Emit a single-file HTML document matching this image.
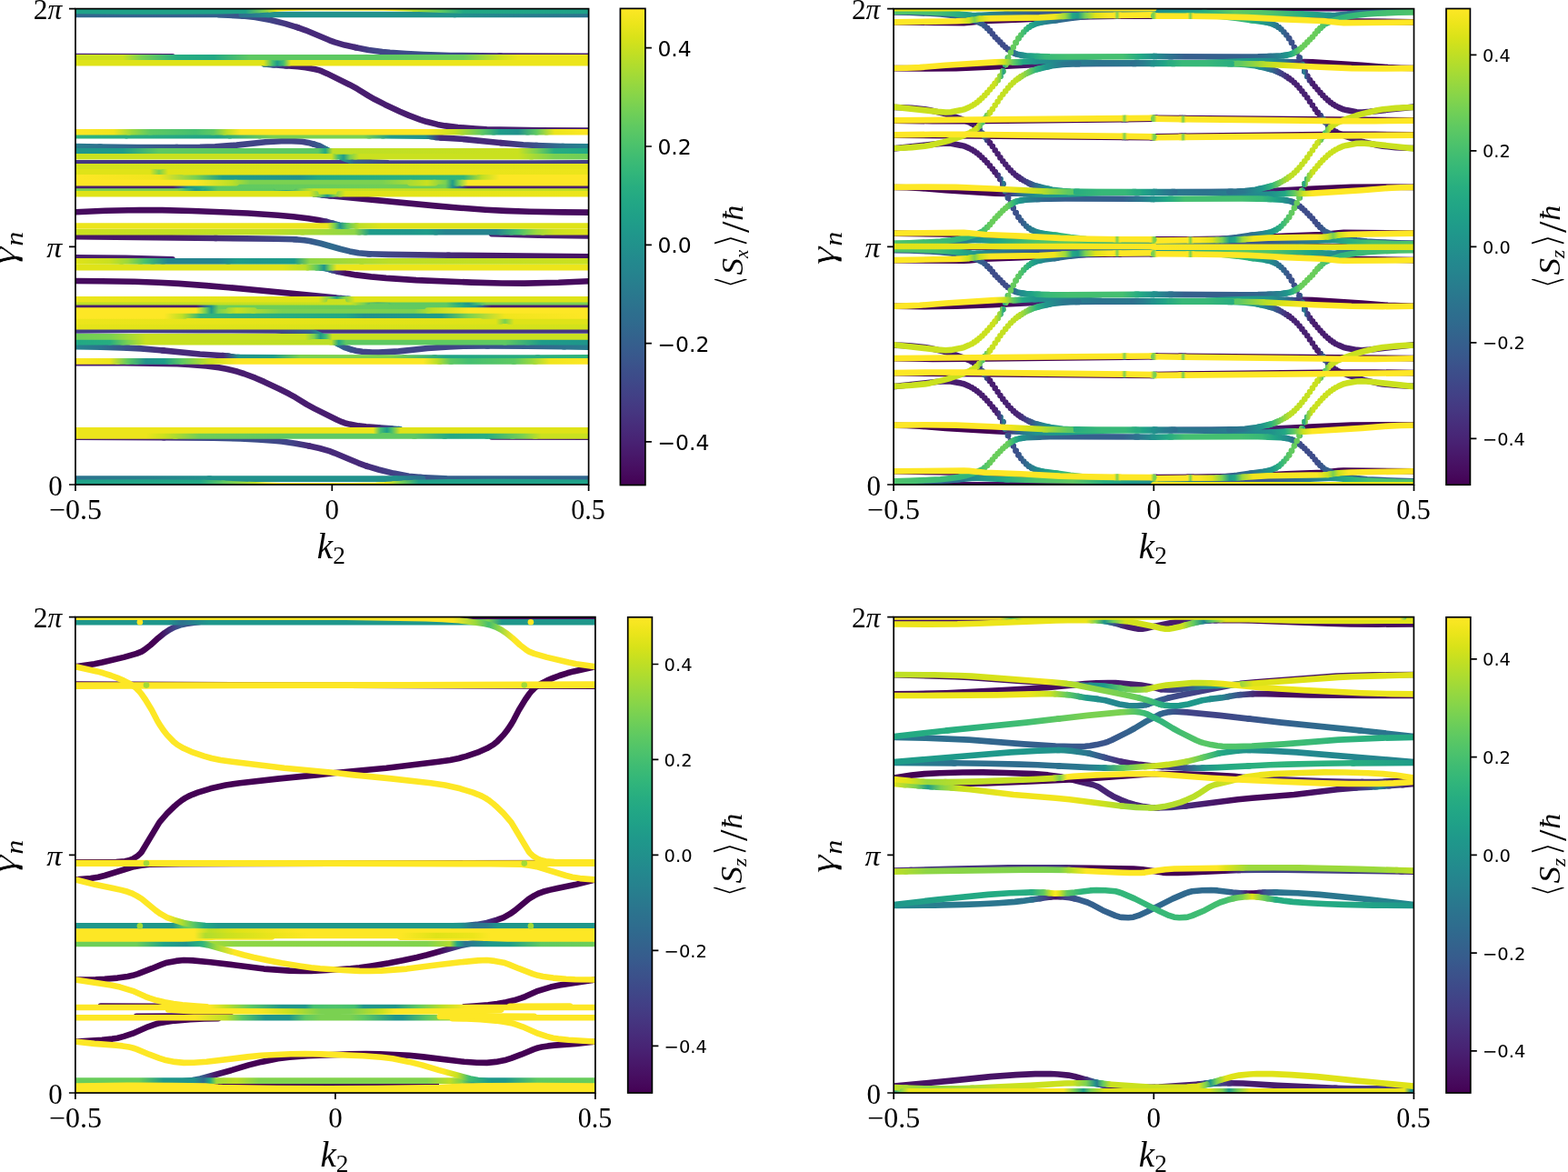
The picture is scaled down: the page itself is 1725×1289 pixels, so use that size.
<!DOCTYPE html>
<html lang="en">
<head>
<meta charset="utf-8">
<title>Wilson loop spectra</title>
<style>
html,body{margin:0;padding:0;background:#fff;}
body{width:1725px;height:1289px;overflow:hidden;}
svg{display:block;}
</style>
</head>
<body>
<svg width="1725" height="1289" viewBox="0 0 1725 1289">
<rect width="1725" height="1289" fill="#fff"/>
<g id="panel1">
<clipPath id="clip1"><rect x="83" y="9.6" width="564.6" height="523.4"/></clipPath>
<g clip-path="url(#clip1)" fill="none" stroke-linecap="round" stroke-linejoin="round">
<linearGradient id="g1" gradientUnits="userSpaceOnUse" x1="83" x2="647.6" y1="0" y2="0"><stop offset="0" stop-color="#1fa188"/><stop offset="0.3312" stop-color="#1fa188"/><stop offset="0.3666" stop-color="#7ad151"/><stop offset="0.3932" stop-color="#ece51b"/><stop offset="0.6146" stop-color="#fde725"/><stop offset="0.65" stop-color="#bddf26"/><stop offset="0.712" stop-color="#5ec962"/><stop offset="0.7563" stop-color="#22a884"/><stop offset="1" stop-color="#1fa188"/></linearGradient>
<linearGradient id="g2" gradientUnits="userSpaceOnUse" x1="83" x2="647.6" y1="0" y2="0"><stop offset="0" stop-color="#1fa188"/><stop offset="0.2437" stop-color="#22a884"/><stop offset="0.288" stop-color="#5ec962"/><stop offset="0.35" stop-color="#bddf26"/><stop offset="0.3854" stop-color="#fde725"/><stop offset="0.6068" stop-color="#ece51b"/><stop offset="0.6334" stop-color="#7ad151"/><stop offset="0.6688" stop-color="#1fa188"/><stop offset="1" stop-color="#1fa188"/></linearGradient>
<linearGradient id="g3" gradientUnits="userSpaceOnUse" x1="83" x2="647.6" y1="0" y2="0"><stop offset="0" stop-color="#31678e"/><stop offset="0.2781" stop-color="#355f8d"/><stop offset="0.3401" stop-color="#2a788e"/><stop offset="0.3755" stop-color="#21918c"/><stop offset="0.7386" stop-color="#21918c"/><stop offset="0.8803" stop-color="#287d8e"/><stop offset="1" stop-color="#2c738e"/></linearGradient>
<linearGradient id="g4" gradientUnits="userSpaceOnUse" x1="83" x2="647.6" y1="0" y2="0"><stop offset="0" stop-color="#2c738e"/><stop offset="0.1197" stop-color="#287d8e"/><stop offset="0.2614" stop-color="#21918c"/><stop offset="0.6245" stop-color="#21918c"/><stop offset="0.6599" stop-color="#2a788e"/><stop offset="0.7219" stop-color="#355f8d"/><stop offset="1" stop-color="#31678e"/></linearGradient>
<linearGradient id="g5" gradientUnits="userSpaceOnUse" x1="240" x2="647.6" y1="0" y2="0"><stop offset="0" stop-color="#355f8d"/><stop offset="0.1349" stop-color="#414487"/><stop offset="0.2208" stop-color="#472a7a"/><stop offset="0.368" stop-color="#472a7a"/><stop offset="0.4171" stop-color="#414487"/><stop offset="0.5643" stop-color="#3b528b"/><stop offset="0.6624" stop-color="#3e4989"/><stop offset="0.7851" stop-color="#482475"/><stop offset="1" stop-color="#481d6f"/></linearGradient>
<linearGradient id="g6" gradientUnits="userSpaceOnUse" x1="83" x2="490.6" y1="0" y2="0"><stop offset="0" stop-color="#481d6f"/><stop offset="0.2149" stop-color="#482475"/><stop offset="0.3376" stop-color="#3e4989"/><stop offset="0.4357" stop-color="#3b528b"/><stop offset="0.5829" stop-color="#414487"/><stop offset="0.632" stop-color="#472a7a"/><stop offset="0.7792" stop-color="#472a7a"/><stop offset="0.8651" stop-color="#414487"/><stop offset="1" stop-color="#355f8d"/></linearGradient>
<linearGradient id="g7" gradientUnits="userSpaceOnUse" x1="83" x2="647.6" y1="0" y2="0"><stop offset="0" stop-color="#cae11f"/><stop offset="0.0921" stop-color="#cae11f"/><stop offset="0.1275" stop-color="#7ad151"/><stop offset="0.1984" stop-color="#26ad81"/><stop offset="0.2692" stop-color="#22a884"/><stop offset="0.3401" stop-color="#5ec962"/><stop offset="0.588" stop-color="#5ec962"/><stop offset="0.7563" stop-color="#6ece58"/><stop offset="0.8271" stop-color="#cae11f"/><stop offset="0.8626" stop-color="#ece51b"/><stop offset="1" stop-color="#ece51b"/></linearGradient>
<linearGradient id="g8" gradientUnits="userSpaceOnUse" x1="83" x2="647.6" y1="0" y2="0"><stop offset="0" stop-color="#ece51b"/><stop offset="0.1374" stop-color="#ece51b"/><stop offset="0.1729" stop-color="#cae11f"/><stop offset="0.2437" stop-color="#6ece58"/><stop offset="0.412" stop-color="#5ec962"/><stop offset="0.6599" stop-color="#5ec962"/><stop offset="0.7308" stop-color="#22a884"/><stop offset="0.8016" stop-color="#26ad81"/><stop offset="0.8725" stop-color="#7ad151"/><stop offset="0.9079" stop-color="#cae11f"/><stop offset="1" stop-color="#cae11f"/></linearGradient>
<linearGradient id="g9" gradientUnits="userSpaceOnUse" x1="83" x2="647.6" y1="0" y2="0"><stop offset="0" stop-color="#dfe318"/><stop offset="0.3666" stop-color="#dfe318"/><stop offset="0.3843" stop-color="#44bf70"/><stop offset="0.3932" stop-color="#1e9c89"/><stop offset="0.4056" stop-color="#44bf70"/><stop offset="0.4198" stop-color="#ece51b"/><stop offset="1" stop-color="#ece51b"/></linearGradient>
<linearGradient id="g10" gradientUnits="userSpaceOnUse" x1="83" x2="647.6" y1="0" y2="0"><stop offset="0" stop-color="#ece51b"/><stop offset="0.5802" stop-color="#ece51b"/><stop offset="0.5944" stop-color="#44bf70"/><stop offset="0.6068" stop-color="#1e9c89"/><stop offset="0.6157" stop-color="#44bf70"/><stop offset="0.6334" stop-color="#dfe318"/><stop offset="1" stop-color="#dfe318"/></linearGradient>
<linearGradient id="g11" gradientUnits="userSpaceOnUse" x1="290" x2="647.6" y1="0" y2="0"><stop offset="0" stop-color="#2a788e"/><stop offset="0.0419" stop-color="#414487"/><stop offset="0.0839" stop-color="#481d6f"/><stop offset="1" stop-color="#481d6f"/></linearGradient>
<linearGradient id="g12" gradientUnits="userSpaceOnUse" x1="83" x2="440.6" y1="0" y2="0"><stop offset="0" stop-color="#481d6f"/><stop offset="0.9161" stop-color="#481d6f"/><stop offset="0.9581" stop-color="#414487"/><stop offset="1" stop-color="#2a788e"/></linearGradient>
<linearGradient id="g13" gradientUnits="userSpaceOnUse" x1="83" x2="647.6" y1="0" y2="0"><stop offset="0" stop-color="#2fb47c"/><stop offset="0.2781" stop-color="#20a386"/><stop offset="0.3843" stop-color="#7ad151"/><stop offset="0.5615" stop-color="#7ad151"/><stop offset="0.6146" stop-color="#1e9c89"/><stop offset="0.6819" stop-color="#21918c"/><stop offset="0.712" stop-color="#472a7a"/><stop offset="0.8271" stop-color="#472a7a"/><stop offset="0.898" stop-color="#3b528b"/><stop offset="0.9511" stop-color="#2c738e"/><stop offset="1" stop-color="#25848e"/></linearGradient>
<linearGradient id="g14" gradientUnits="userSpaceOnUse" x1="83" x2="647.6" y1="0" y2="0"><stop offset="0" stop-color="#25848e"/><stop offset="0.0489" stop-color="#2c738e"/><stop offset="0.102" stop-color="#3b528b"/><stop offset="0.1729" stop-color="#472a7a"/><stop offset="0.288" stop-color="#472a7a"/><stop offset="0.3181" stop-color="#21918c"/><stop offset="0.3854" stop-color="#1e9c89"/><stop offset="0.4385" stop-color="#7ad151"/><stop offset="0.6157" stop-color="#7ad151"/><stop offset="0.7219" stop-color="#20a386"/><stop offset="1" stop-color="#2fb47c"/></linearGradient>
<linearGradient id="g15" gradientUnits="userSpaceOnUse" x1="83" x2="647.6" y1="0" y2="0"><stop offset="0" stop-color="#fde725"/><stop offset="0.0744" stop-color="#f1e51d"/><stop offset="0.1098" stop-color="#9bd93c"/><stop offset="0.1452" stop-color="#5ec962"/><stop offset="0.2338" stop-color="#44bf70"/><stop offset="0.2692" stop-color="#5ec962"/><stop offset="0.2958" stop-color="#bddf26"/><stop offset="0.3224" stop-color="#fde725"/><stop offset="0.6854" stop-color="#fde725"/><stop offset="0.7386" stop-color="#cae11f"/><stop offset="0.7917" stop-color="#5ec962"/><stop offset="0.8271" stop-color="#1e9c89"/><stop offset="0.8626" stop-color="#21918c"/><stop offset="0.898" stop-color="#5ec962"/><stop offset="0.9334" stop-color="#ece51b"/><stop offset="1" stop-color="#fde725"/></linearGradient>
<linearGradient id="g16" gradientUnits="userSpaceOnUse" x1="83" x2="647.6" y1="0" y2="0"><stop offset="0" stop-color="#fde725"/><stop offset="0.0666" stop-color="#ece51b"/><stop offset="0.102" stop-color="#5ec962"/><stop offset="0.1374" stop-color="#21918c"/><stop offset="0.1729" stop-color="#1e9c89"/><stop offset="0.2083" stop-color="#5ec962"/><stop offset="0.2614" stop-color="#cae11f"/><stop offset="0.3146" stop-color="#fde725"/><stop offset="0.6776" stop-color="#fde725"/><stop offset="0.7042" stop-color="#bddf26"/><stop offset="0.7308" stop-color="#5ec962"/><stop offset="0.7662" stop-color="#44bf70"/><stop offset="0.8548" stop-color="#5ec962"/><stop offset="0.8902" stop-color="#9bd93c"/><stop offset="0.9256" stop-color="#f1e51d"/><stop offset="1" stop-color="#fde725"/></linearGradient>
<linearGradient id="g17" gradientUnits="userSpaceOnUse" x1="83" x2="647.6" y1="0" y2="0"><stop offset="0" stop-color="#287d8e"/><stop offset="0.1275" stop-color="#355f8d"/><stop offset="0.2692" stop-color="#414487"/><stop offset="0.4463" stop-color="#414487"/><stop offset="0.4818" stop-color="#355f8d"/><stop offset="0.4942" stop-color="#25848e"/><stop offset="0.5083" stop-color="#2a788e"/><stop offset="0.5225" stop-color="#21918c"/><stop offset="0.5437" stop-color="#355f8d"/><stop offset="0.6146" stop-color="#433e85"/><stop offset="1" stop-color="#433e85"/></linearGradient>
<linearGradient id="g18" gradientUnits="userSpaceOnUse" x1="83" x2="647.6" y1="0" y2="0"><stop offset="0" stop-color="#433e85"/><stop offset="0.3854" stop-color="#433e85"/><stop offset="0.4563" stop-color="#355f8d"/><stop offset="0.4775" stop-color="#21918c"/><stop offset="0.4917" stop-color="#2a788e"/><stop offset="0.5058" stop-color="#25848e"/><stop offset="0.5182" stop-color="#355f8d"/><stop offset="0.5537" stop-color="#414487"/><stop offset="0.7308" stop-color="#414487"/><stop offset="0.8725" stop-color="#355f8d"/><stop offset="1" stop-color="#287d8e"/></linearGradient>
<linearGradient id="g19" gradientUnits="userSpaceOnUse" x1="83" x2="647.6" y1="0" y2="0"><stop offset="0" stop-color="#1f958b"/><stop offset="0.0921" stop-color="#1e9c89"/><stop offset="0.1629" stop-color="#5ec962"/><stop offset="0.4729" stop-color="#5ec962"/><stop offset="0.4871" stop-color="#22a884"/><stop offset="0.5012" stop-color="#bddf26"/><stop offset="0.8626" stop-color="#cae11f"/><stop offset="0.898" stop-color="#7ad151"/><stop offset="0.9334" stop-color="#26ad81"/><stop offset="1" stop-color="#22a884"/></linearGradient>
<linearGradient id="g20" gradientUnits="userSpaceOnUse" x1="83" x2="647.6" y1="0" y2="0"><stop offset="0" stop-color="#22a884"/><stop offset="0.0666" stop-color="#26ad81"/><stop offset="0.102" stop-color="#7ad151"/><stop offset="0.1374" stop-color="#cae11f"/><stop offset="0.4988" stop-color="#bddf26"/><stop offset="0.5129" stop-color="#22a884"/><stop offset="0.5271" stop-color="#5ec962"/><stop offset="0.8371" stop-color="#5ec962"/><stop offset="0.9079" stop-color="#1e9c89"/><stop offset="1" stop-color="#1f958b"/></linearGradient>
<linearGradient id="g21" gradientUnits="userSpaceOnUse" x1="83" x2="647.6" y1="0" y2="0"><stop offset="0" stop-color="#cae11f"/><stop offset="0.4995" stop-color="#cae11f"/><stop offset="0.5119" stop-color="#44bf70"/><stop offset="0.5225" stop-color="#1e9c89"/><stop offset="0.5349" stop-color="#7ad151"/><stop offset="0.5526" stop-color="#cae11f"/><stop offset="0.8626" stop-color="#cae11f"/><stop offset="0.9334" stop-color="#7ad151"/><stop offset="1" stop-color="#6ece58"/></linearGradient>
<linearGradient id="g22" gradientUnits="userSpaceOnUse" x1="83" x2="647.6" y1="0" y2="0"><stop offset="0" stop-color="#6ece58"/><stop offset="0.0666" stop-color="#7ad151"/><stop offset="0.1374" stop-color="#cae11f"/><stop offset="0.4474" stop-color="#cae11f"/><stop offset="0.4651" stop-color="#7ad151"/><stop offset="0.4775" stop-color="#1e9c89"/><stop offset="0.4881" stop-color="#44bf70"/><stop offset="0.5005" stop-color="#cae11f"/><stop offset="1" stop-color="#cae11f"/></linearGradient>
<linearGradient id="g23" gradientUnits="userSpaceOnUse" x1="83" x2="647.6" y1="0" y2="0"><stop offset="0" stop-color="#d2e21b"/><stop offset="1" stop-color="#e5e419"/></linearGradient>
<linearGradient id="g24" gradientUnits="userSpaceOnUse" x1="83" x2="647.6" y1="0" y2="0"><stop offset="0" stop-color="#e5e419"/><stop offset="1" stop-color="#d2e21b"/></linearGradient>
<linearGradient id="g25" gradientUnits="userSpaceOnUse" x1="83" x2="647.6" y1="0" y2="0"><stop offset="0" stop-color="#dfe318"/><stop offset="0.1452" stop-color="#dfe318"/><stop offset="0.1629" stop-color="#7ad151"/><stop offset="0.1807" stop-color="#dfe318"/><stop offset="1" stop-color="#ece51b"/></linearGradient>
<linearGradient id="g26" gradientUnits="userSpaceOnUse" x1="83" x2="647.6" y1="0" y2="0"><stop offset="0" stop-color="#ece51b"/><stop offset="0.8193" stop-color="#dfe318"/><stop offset="0.8371" stop-color="#7ad151"/><stop offset="0.8548" stop-color="#dfe318"/><stop offset="1" stop-color="#dfe318"/></linearGradient>
<linearGradient id="g27" gradientUnits="userSpaceOnUse" x1="83" x2="647.6" y1="0" y2="0"><stop offset="0" stop-color="#fde725"/><stop offset="0.1629" stop-color="#f1e51d"/><stop offset="0.2338" stop-color="#7ad151"/><stop offset="0.2869" stop-color="#1e9c89"/><stop offset="0.4375" stop-color="#21918c"/><stop offset="0.4729" stop-color="#22a884"/><stop offset="0.7563" stop-color="#2fb47c"/><stop offset="0.7917" stop-color="#bddf26"/><stop offset="0.8271" stop-color="#fde725"/><stop offset="1" stop-color="#fde725"/></linearGradient>
<linearGradient id="g28" gradientUnits="userSpaceOnUse" x1="83" x2="647.6" y1="0" y2="0"><stop offset="0" stop-color="#fde725"/><stop offset="0.1729" stop-color="#fde725"/><stop offset="0.2083" stop-color="#bddf26"/><stop offset="0.2437" stop-color="#2fb47c"/><stop offset="0.5271" stop-color="#22a884"/><stop offset="0.5625" stop-color="#21918c"/><stop offset="0.7131" stop-color="#1e9c89"/><stop offset="0.7662" stop-color="#7ad151"/><stop offset="0.8371" stop-color="#f1e51d"/><stop offset="1" stop-color="#fde725"/></linearGradient>
<linearGradient id="g29" gradientUnits="userSpaceOnUse" x1="83" x2="647.6" y1="0" y2="0"><stop offset="0" stop-color="#fde725"/><stop offset="0.2338" stop-color="#fde725"/><stop offset="0.3046" stop-color="#bddf26"/><stop offset="0.3401" stop-color="#7ad151"/><stop offset="0.5969" stop-color="#7ad151"/><stop offset="0.6854" stop-color="#cae11f"/><stop offset="0.7209" stop-color="#7ad151"/><stop offset="0.735" stop-color="#1e9c89"/><stop offset="0.7474" stop-color="#7ad151"/><stop offset="0.7651" stop-color="#fde725"/><stop offset="1" stop-color="#fde725"/></linearGradient>
<linearGradient id="g30" gradientUnits="userSpaceOnUse" x1="83" x2="647.6" y1="0" y2="0"><stop offset="0" stop-color="#fde725"/><stop offset="0.2349" stop-color="#fde725"/><stop offset="0.2526" stop-color="#7ad151"/><stop offset="0.265" stop-color="#1e9c89"/><stop offset="0.2791" stop-color="#7ad151"/><stop offset="0.3146" stop-color="#cae11f"/><stop offset="0.4031" stop-color="#7ad151"/><stop offset="0.6599" stop-color="#7ad151"/><stop offset="0.6954" stop-color="#bddf26"/><stop offset="0.7662" stop-color="#fde725"/><stop offset="1" stop-color="#fde725"/></linearGradient>
<linearGradient id="g31" gradientUnits="userSpaceOnUse" x1="83" x2="647.6" y1="0" y2="0"><stop offset="0" stop-color="#481d6f"/><stop offset="0.1895" stop-color="#481d6f"/><stop offset="0.2072" stop-color="#355f8d"/><stop offset="0.2196" stop-color="#21918c"/><stop offset="0.2426" stop-color="#22a884"/><stop offset="0.2781" stop-color="#5ec962"/><stop offset="0.5969" stop-color="#6ece58"/><stop offset="0.7209" stop-color="#6ece58"/><stop offset="0.735" stop-color="#21918c"/><stop offset="0.7492" stop-color="#355f8d"/><stop offset="0.7651" stop-color="#481d6f"/><stop offset="1" stop-color="#481d6f"/></linearGradient>
<linearGradient id="g32" gradientUnits="userSpaceOnUse" x1="83" x2="647.6" y1="0" y2="0"><stop offset="0" stop-color="#481d6f"/><stop offset="0.2349" stop-color="#481d6f"/><stop offset="0.2508" stop-color="#355f8d"/><stop offset="0.265" stop-color="#21918c"/><stop offset="0.2791" stop-color="#6ece58"/><stop offset="0.4031" stop-color="#6ece58"/><stop offset="0.7219" stop-color="#5ec962"/><stop offset="0.7574" stop-color="#22a884"/><stop offset="0.7804" stop-color="#21918c"/><stop offset="0.7928" stop-color="#355f8d"/><stop offset="0.8105" stop-color="#481d6f"/><stop offset="1" stop-color="#481d6f"/></linearGradient>
<linearGradient id="g33" gradientUnits="userSpaceOnUse" x1="83" x2="647.6" y1="0" y2="0"><stop offset="0" stop-color="#7ad151"/><stop offset="0.1984" stop-color="#7ad151"/><stop offset="0.2161" stop-color="#44bf70"/><stop offset="0.2338" stop-color="#1f978b"/><stop offset="0.2515" stop-color="#22a884"/><stop offset="0.2781" stop-color="#5ec962"/><stop offset="0.3843" stop-color="#5ec962"/><stop offset="0.4109" stop-color="#1e9c89"/><stop offset="0.4375" stop-color="#7ad151"/><stop offset="0.464" stop-color="#cae11f"/><stop offset="1" stop-color="#bddf26"/></linearGradient>
<linearGradient id="g34" gradientUnits="userSpaceOnUse" x1="83" x2="647.6" y1="0" y2="0"><stop offset="0" stop-color="#bddf26"/><stop offset="0.536" stop-color="#cae11f"/><stop offset="0.5625" stop-color="#7ad151"/><stop offset="0.5891" stop-color="#1e9c89"/><stop offset="0.6157" stop-color="#5ec962"/><stop offset="0.7219" stop-color="#5ec962"/><stop offset="0.7485" stop-color="#22a884"/><stop offset="0.7662" stop-color="#1f978b"/><stop offset="0.7839" stop-color="#44bf70"/><stop offset="0.8016" stop-color="#7ad151"/><stop offset="1" stop-color="#7ad151"/></linearGradient>
<linearGradient id="g35" gradientUnits="userSpaceOnUse" x1="83" x2="647.6" y1="0" y2="0"><stop offset="0" stop-color="#dfe318"/><stop offset="0.4552" stop-color="#dfe318"/><stop offset="0.4764" stop-color="#7ad151"/><stop offset="0.4906" stop-color="#1e9c89"/><stop offset="0.5048" stop-color="#7ad151"/><stop offset="0.526" stop-color="#dfe318"/><stop offset="1" stop-color="#ece51b"/></linearGradient>
<linearGradient id="g36" gradientUnits="userSpaceOnUse" x1="83" x2="647.6" y1="0" y2="0"><stop offset="0" stop-color="#ece51b"/><stop offset="0.474" stop-color="#dfe318"/><stop offset="0.4952" stop-color="#7ad151"/><stop offset="0.5094" stop-color="#1e9c89"/><stop offset="0.5236" stop-color="#7ad151"/><stop offset="0.5448" stop-color="#dfe318"/><stop offset="1" stop-color="#dfe318"/></linearGradient>
<linearGradient id="g37" gradientUnits="userSpaceOnUse" x1="345" x2="647.6" y1="0" y2="0"><stop offset="0" stop-color="#2a788e"/><stop offset="0.0661" stop-color="#482475"/><stop offset="0.1818" stop-color="#460b5e"/><stop offset="1" stop-color="#460b5e"/></linearGradient>
<linearGradient id="g38" gradientUnits="userSpaceOnUse" x1="83" x2="385.6" y1="0" y2="0"><stop offset="0" stop-color="#460b5e"/><stop offset="0.8182" stop-color="#460b5e"/><stop offset="0.9339" stop-color="#482475"/><stop offset="1" stop-color="#2a788e"/></linearGradient>
<linearGradient id="g39" gradientUnits="userSpaceOnUse" x1="83" x2="382" y1="0" y2="0"><stop offset="0" stop-color="#460b5e"/><stop offset="0.893" stop-color="#460b5e"/><stop offset="0.9331" stop-color="#463480"/><stop offset="0.9599" stop-color="#2f6c8e"/><stop offset="0.9866" stop-color="#1f958b"/><stop offset="1" stop-color="#22a884"/></linearGradient>
<linearGradient id="g40" gradientUnits="userSpaceOnUse" x1="348.6" x2="647.6" y1="0" y2="0"><stop offset="0" stop-color="#22a884"/><stop offset="0.0134" stop-color="#1f958b"/><stop offset="0.0401" stop-color="#2f6c8e"/><stop offset="0.0669" stop-color="#463480"/><stop offset="0.107" stop-color="#460b5e"/><stop offset="1" stop-color="#460b5e"/></linearGradient>
<linearGradient id="g41" gradientUnits="userSpaceOnUse" x1="83" x2="647.6" y1="0" y2="0"><stop offset="0" stop-color="#ece51b"/><stop offset="0.4906" stop-color="#ece51b"/><stop offset="0.5048" stop-color="#7ad151"/><stop offset="0.5154" stop-color="#1f958b"/><stop offset="0.5296" stop-color="#5ec962"/><stop offset="0.5526" stop-color="#bddf26"/><stop offset="0.5969" stop-color="#dfe318"/><stop offset="1" stop-color="#dfe318"/></linearGradient>
<linearGradient id="g42" gradientUnits="userSpaceOnUse" x1="83" x2="647.6" y1="0" y2="0"><stop offset="0" stop-color="#dfe318"/><stop offset="0.4031" stop-color="#dfe318"/><stop offset="0.4474" stop-color="#bddf26"/><stop offset="0.4704" stop-color="#5ec962"/><stop offset="0.4846" stop-color="#1f958b"/><stop offset="0.4952" stop-color="#7ad151"/><stop offset="0.5094" stop-color="#ece51b"/><stop offset="1" stop-color="#ece51b"/></linearGradient>
<linearGradient id="g43" gradientUnits="userSpaceOnUse" x1="83" x2="647.6" y1="0" y2="0"><stop offset="0" stop-color="#cae11f"/><stop offset="0.3843" stop-color="#bddf26"/><stop offset="0.5437" stop-color="#8ed645"/><stop offset="0.5739" stop-color="#1e9c89"/><stop offset="0.65" stop-color="#1f978b"/><stop offset="0.6854" stop-color="#1e9c89"/><stop offset="0.7209" stop-color="#25848e"/><stop offset="0.82" stop-color="#25848e"/><stop offset="0.8626" stop-color="#44bf70"/><stop offset="0.898" stop-color="#9bd93c"/><stop offset="0.9334" stop-color="#cae11f"/><stop offset="1" stop-color="#dfe318"/></linearGradient>
<linearGradient id="g44" gradientUnits="userSpaceOnUse" x1="83" x2="647.6" y1="0" y2="0"><stop offset="0" stop-color="#dfe318"/><stop offset="0.0666" stop-color="#cae11f"/><stop offset="0.102" stop-color="#9bd93c"/><stop offset="0.1374" stop-color="#44bf70"/><stop offset="0.18" stop-color="#25848e"/><stop offset="0.2791" stop-color="#25848e"/><stop offset="0.3146" stop-color="#1e9c89"/><stop offset="0.35" stop-color="#1f978b"/><stop offset="0.4261" stop-color="#1e9c89"/><stop offset="0.4563" stop-color="#8ed645"/><stop offset="0.6157" stop-color="#bddf26"/><stop offset="1" stop-color="#cae11f"/></linearGradient>
<linearGradient id="g45" gradientUnits="userSpaceOnUse" x1="83" x2="647.6" y1="0" y2="0"><stop offset="0" stop-color="#471365"/><stop offset="0.2072" stop-color="#481d6f"/><stop offset="0.3843" stop-color="#414487"/><stop offset="0.4552" stop-color="#375a8c"/><stop offset="0.5" stop-color="#2f6c8e"/><stop offset="0.5448" stop-color="#375a8c"/><stop offset="0.6157" stop-color="#414487"/><stop offset="0.7928" stop-color="#481d6f"/><stop offset="1" stop-color="#471365"/></linearGradient>
<path d="M326.6 29.8L336.2 33.3L362.5 44.3L368.1 46.4L379.1 49.6L391.6 52.3" stroke="url(#g5)" stroke-width="6.6"/>
<path d="M549.3 61.5L647.6 61.8" stroke="url(#g5)" stroke-width="6.6"/>
<path d="M83 480.8L181.3 481.1" stroke="url(#g6)" stroke-width="6.6"/>
<path d="M339 490.3L351.5 493L362.5 496.2L368.1 498.3L394.4 509.3L404 512.8" stroke="url(#g6)" stroke-width="6.6"/>
<path d="M83 62L189.6 62.2" stroke="#481d6f" stroke-width="6.6"/>
<path d="M541 480.4L647.6 480.6" stroke="#481d6f" stroke-width="6.6"/>
<path d="M314.1 72.3L327.9 73.2L336.2 74.2L345.9 76L351.5 77.4L354.2 78.4L359.8 80.9L384.7 93.2L393 97.7L405.4 105.4L412.3 109.3L423.4 114.9L440 122.7L449.7 126.9L462.2 131.6L469.1 133.8L481.5 136.9L489.8 138.4L503.7 140.1L523.1 141.6L535.5 142.3L593.6 143.4L647.6 143.5" stroke="url(#g11)" stroke-width="6.6"/>
<path d="M83 399.1L137 399.2L195.1 400.3L207.5 401L226.9 402.5L240.8 404.2L249.1 405.7L261.5 408.8L268.4 411L280.9 415.7L290.6 419.9L307.2 427.7L318.2 433.3L325.2 437.2L337.6 444.9L345.9 449.4L370.8 461.7L376.4 464.2L379.1 465.2L384.7 466.6L394.4 468.4L402.7 469.4L416.5 470.3" stroke="url(#g12)" stroke-width="6.6"/>
<path d="M484.3 151.4L510.6 153.1L552.1 157.2" stroke="url(#g13)" stroke-width="6.6"/>
<path d="M178.5 385.4L220 389.5L246.3 391.2" stroke="url(#g14)" stroke-width="6.6"/>
<path d="M83 206L192.3 206" stroke="url(#g31)" stroke-width="6.6"/>
<path d="M512 206L647.6 206" stroke="url(#g31)" stroke-width="6.6"/>
<path d="M83 336.6L218.6 336.6" stroke="url(#g32)" stroke-width="6.6"/>
<path d="M538.3 336.6L647.6 336.6" stroke="url(#g32)" stroke-width="6.6"/>
<path d="M362.5 215.3L478.8 226.4L503.7 228.5L534.1 230.7L556.3 231.9L582.6 232.8L618.5 233.4L647.6 233.6" stroke="url(#g37)" stroke-width="6.6"/>
<path d="M83 309L112.1 309.2L148 309.8L174.3 310.7L196.5 311.9L226.9 314.1L251.8 316.2L368.1 327.3" stroke="url(#g38)" stroke-width="6.6"/>
<path d="M83 233.3L116.2 231.8L153.6 231L178.5 231.1L211.7 232L272.6 234.5L305.8 236.7L322.4 238.2L339 240.2L350.1 242L359.8 244.1" stroke="url(#g39)" stroke-width="6.6"/>
<path d="M370.8 298.5L380.5 300.6L391.6 302.4L408.2 304.4L424.8 305.9L458 308.1L518.9 310.6L552.1 311.5L577 311.6L614.4 310.8L647.6 309.3" stroke="url(#g40)" stroke-width="6.6"/>
<path d="M541 257.2L592.2 258.7L647.6 259.4" stroke="#481d6f" stroke-width="6.6"/>
<path d="M83 283.2L138.4 283.9L189.6 285.4" stroke="#481d6f" stroke-width="6.6"/>
<path d="M83 260.3L238 261.9" stroke="url(#g45)" stroke-width="6.6"/>
<path d="M492.6 280.7L647.6 282.3" stroke="url(#g45)" stroke-width="6.6"/>
<path d="M267 17.5L280.9 18.9L297.5 22L314.1 26.1L327.9 30.3" stroke="url(#g5)" stroke-width="6.6"/>
<path d="M390.2 52L405.4 54.9L420.7 57.1L429 57.9L446.9 59.1L466.3 60.1L495.4 61L550.7 61.5" stroke="url(#g5)" stroke-width="6.6"/>
<path d="M179.9 481.1L235.2 481.6L264.3 482.5L283.7 483.5L301.6 484.7L309.9 485.5L325.2 487.7L340.4 490.6" stroke="url(#g6)" stroke-width="6.6"/>
<path d="M402.7 512.3L416.5 516.5L433.1 520.6L449.7 523.7L463.6 525.1" stroke="url(#g6)" stroke-width="6.6"/>
<path d="M300.3 71.2L315.5 72.4" stroke="url(#g11)" stroke-width="6.6"/>
<path d="M415.1 470.2L430.3 471.4" stroke="url(#g12)" stroke-width="6.6"/>
<path d="M478.8 150.9L485.7 151.5" stroke="url(#g13)" stroke-width="6.6"/>
<path d="M550.7 157.1L575.6 159.2L590.9 160" stroke="url(#g13)" stroke-width="6.6"/>
<path d="M139.7 382.6L155 383.4L179.9 385.5" stroke="url(#g14)" stroke-width="6.6"/>
<path d="M244.9 391.1L251.8 391.7" stroke="url(#g14)" stroke-width="6.6"/>
<path d="M193.7 162.1L220 161.9L236.6 161.2L260.1 159.6L292 156.2L314.1 155L321 155.1L332.1 155.8L339 156.9L345.9 158.7" stroke="url(#g17)" stroke-width="6.6"/>
<path d="M405.4 178.4L427.6 179.2L509.2 179.5L585.3 179.6L647.6 179.2" stroke="url(#g17)" stroke-width="6.6"/>
<path d="M83 363.4L145.3 363L221.4 363.1L303 363.4L325.2 364.2" stroke="url(#g18)" stroke-width="6.6"/>
<path d="M384.7 383.9L391.6 385.7L398.5 386.8L409.6 387.5L416.5 387.6L438.6 386.4L470.5 383L494 381.4L510.6 380.7L536.9 380.5" stroke="url(#g18)" stroke-width="6.6"/>
<path d="M83 179.2L399.9 179.2" stroke="#453781" stroke-width="6.6"/>
<path d="M330.7 363.4L647.6 363.4" stroke="#453781" stroke-width="6.6"/>
<path d="M300.3 198.2L449.7 198.2" stroke="#463480" stroke-width="2"/>
<path d="M280.9 344.4L430.3 344.4" stroke="#463480" stroke-width="2"/>
<path d="M190.9 206L197.9 206" stroke="url(#g31)" stroke-width="6.6"/>
<path d="M507.8 206L513.4 206" stroke="url(#g31)" stroke-width="6.6"/>
<path d="M217.2 336.6L222.8 336.6" stroke="url(#g32)" stroke-width="6.6"/>
<path d="M532.7 336.6L539.7 336.6" stroke="url(#g32)" stroke-width="6.6"/>
<path d="M354.2 214.4L363.9 215.4" stroke="url(#g37)" stroke-width="6.6"/>
<path d="M366.7 327.2L376.4 328.2" stroke="url(#g38)" stroke-width="6.6"/>
<path d="M358.4 243.8L366.7 245.9" stroke="url(#g39)" stroke-width="6.6"/>
<path d="M363.9 296.7L372.2 298.8" stroke="url(#g40)" stroke-width="6.6"/>
<path d="M236.6 261.9L303 262.7L325.2 263.3" stroke="url(#g45)" stroke-width="6.6"/>
<path d="M405.4 279.3L427.6 279.9L494 280.7" stroke="url(#g45)" stroke-width="6.6"/>
<path d="M83 16L267 16" stroke="url(#g3)" stroke-width="6.6"/>
<path d="M463.6 526.6L647.6 526.6" stroke="url(#g4)" stroke-width="6.6"/>
<path d="M240.8 16.2L268.4 17.6" stroke="url(#g5)" stroke-width="6.6"/>
<path d="M462.2 525L489.8 526.4" stroke="url(#g6)" stroke-width="6.6"/>
<path d="M290.6 70.4L301.6 71.4" stroke="url(#g11)" stroke-width="6.6"/>
<path d="M429 471.2L440 472.2" stroke="url(#g12)" stroke-width="6.6"/>
<path d="M473.2 149.9L480.2 151" stroke="url(#g13)" stroke-width="6.6"/>
<path d="M589.5 160L619.9 161" stroke="url(#g13)" stroke-width="6.6"/>
<path d="M110.7 381.6L141.1 382.6" stroke="url(#g14)" stroke-width="6.6"/>
<path d="M250.4 391.6L257.4 392.7" stroke="url(#g14)" stroke-width="6.6"/>
<path d="M109.3 161.5L150.8 162L195.1 162.1" stroke="url(#g17)" stroke-width="6.6"/>
<path d="M344.5 158.3L351.5 160.5L359.8 164.9" stroke="url(#g17)" stroke-width="6.6"/>
<path d="M384.7 176.3L387.4 177L390.2 177.4L406.8 178.5" stroke="url(#g17)" stroke-width="6.6"/>
<path d="M323.8 364.1L340.4 365.2L343.2 365.6L345.9 366.3" stroke="url(#g18)" stroke-width="6.6"/>
<path d="M370.8 377.7L379.1 382.1L386.1 384.3" stroke="url(#g18)" stroke-width="6.6"/>
<path d="M535.5 380.5L579.8 380.6L621.3 381.1" stroke="url(#g18)" stroke-width="6.6"/>
<path d="M196.5 206L203.4 206" stroke="url(#g31)" stroke-width="6.6"/>
<path d="M502.3 206L509.2 206" stroke="url(#g31)" stroke-width="6.6"/>
<path d="M221.4 336.6L228.3 336.6" stroke="url(#g32)" stroke-width="6.6"/>
<path d="M527.2 336.6L534.1 336.6" stroke="url(#g32)" stroke-width="6.6"/>
<path d="M345.9 213.5L355.6 214.5" stroke="url(#g37)" stroke-width="6.6"/>
<path d="M375 328.1L384.7 329.1" stroke="url(#g38)" stroke-width="6.6"/>
<path d="M365.3 245.5L372.2 247.5" stroke="url(#g39)" stroke-width="6.6"/>
<path d="M358.4 295.1L365.3 297.1" stroke="url(#g40)" stroke-width="6.6"/>
<path d="M323.8 263.2L334.9 264.2L340.4 265L352.8 267.8L375 274L384.7 276.4L394.4 278.3L406.8 279.4" stroke="url(#g45)" stroke-width="6.6"/>
<path d="M265.7 16L296.1 16" stroke="url(#g3)" stroke-width="6.6"/>
<path d="M499.5 16L647.6 16" stroke="url(#g3)" stroke-width="6.6"/>
<path d="M83 526.6L231.1 526.6" stroke="url(#g4)" stroke-width="6.6"/>
<path d="M434.5 526.6L464.9 526.6" stroke="url(#g4)" stroke-width="6.6"/>
<path d="M290.6 70.4L292 70.6" stroke="url(#g11)" stroke-width="6.6"/>
<path d="M438.6 472L440 472.2" stroke="url(#g12)" stroke-width="6.6"/>
<path d="M467.7 149.6L471.9 149.7L474.6 150.1" stroke="url(#g13)" stroke-width="6.6"/>
<path d="M618.5 161L647.6 161.4" stroke="url(#g13)" stroke-width="6.6"/>
<path d="M83 381.2L112.1 381.6" stroke="url(#g14)" stroke-width="6.6"/>
<path d="M256 392.5L258.7 392.9L262.9 393" stroke="url(#g14)" stroke-width="6.6"/>
<path d="M83 161L110.7 161.5" stroke="url(#g17)" stroke-width="6.6"/>
<path d="M358.4 164.2L375 172.6L381.9 175.4L386.1 176.7" stroke="url(#g17)" stroke-width="6.6"/>
<path d="M344.5 365.9L348.7 367.2L355.6 370L372.2 378.4" stroke="url(#g18)" stroke-width="6.6"/>
<path d="M619.9 381.1L647.6 381.6" stroke="url(#g18)" stroke-width="6.6"/>
<path d="M202 206L207.5 206" stroke="url(#g31)" stroke-width="6.6"/>
<path d="M496.8 206L503.7 206" stroke="url(#g31)" stroke-width="6.6"/>
<path d="M226.9 336.6L233.8 336.6" stroke="url(#g32)" stroke-width="6.6"/>
<path d="M523.1 336.6L528.6 336.6" stroke="url(#g32)" stroke-width="6.6"/>
<path d="M345.9 213.5L347.3 213.7" stroke="url(#g37)" stroke-width="6.6"/>
<path d="M383.3 328.9L384.7 329.1" stroke="url(#g38)" stroke-width="6.6"/>
<path d="M370.8 247.2L373.6 247.7L377.8 248.2" stroke="url(#g39)" stroke-width="6.6"/>
<path d="M352.8 294.4L357 294.9L359.8 295.4" stroke="url(#g40)" stroke-width="6.6"/>
<path d="M478.8 255.2L552.1 255.2" stroke="url(#g43)" stroke-width="6.6"/>
<path d="M178.5 287.4L251.8 287.4" stroke="url(#g44)" stroke-width="6.6"/>
<path d="M83 11.9L137 12.4L186.8 12.5L236.6 12.2L275.4 11.5" stroke="url(#g1)" stroke-width="6.6"/>
<path d="M505.1 11.5L571.5 12L647.6 11.9" stroke="url(#g1)" stroke-width="6.6"/>
<path d="M83 530.7L159.1 530.6L225.5 531.1" stroke="url(#g2)" stroke-width="6.6"/>
<path d="M455.2 531.1L494 530.4L543.8 530.1L593.6 530.2L647.6 530.7" stroke="url(#g2)" stroke-width="6.6"/>
<path d="M294.7 16L500.9 16" stroke="url(#g3)" stroke-width="6.6"/>
<path d="M229.7 526.6L435.9 526.6" stroke="url(#g4)" stroke-width="6.6"/>
<path d="M193.7 63.2L242.1 63.2" stroke="url(#g7)" stroke-width="6.6"/>
<path d="M488.5 479.4L536.9 479.4" stroke="url(#g8)" stroke-width="6.6"/>
<path d="M301.6 69.2L308.6 69.2" stroke="url(#g9)" stroke-width="6.6"/>
<path d="M422 473.4L429 473.4" stroke="url(#g10)" stroke-width="6.6"/>
<path d="M138.4 149.1L253.2 149.1" stroke="url(#g13)" stroke-width="6.6"/>
<path d="M420.7 149.2L469.1 149.6" stroke="url(#g13)" stroke-width="6.6"/>
<path d="M261.5 393L309.9 393.4" stroke="url(#g14)" stroke-width="6.6"/>
<path d="M477.4 393.5L592.2 393.5" stroke="url(#g14)" stroke-width="6.6"/>
<path d="M542.4 145.2L581.2 145.2" stroke="url(#g15)" stroke-width="6.6"/>
<path d="M149.4 397.4L188.2 397.4" stroke="url(#g16)" stroke-width="6.6"/>
<path d="M83 166.4L150.8 166.4" stroke="url(#g19)" stroke-width="6.6"/>
<path d="M355.6 166.4L359.8 166.4" stroke="url(#g19)" stroke-width="6.6"/>
<path d="M608.9 166.4L647.6 166.4" stroke="url(#g19)" stroke-width="6.6"/>
<path d="M83 376.2L121.7 376.2" stroke="url(#g20)" stroke-width="6.6"/>
<path d="M370.8 376.2L375 376.2" stroke="url(#g20)" stroke-width="6.6"/>
<path d="M579.8 376.2L647.6 376.2" stroke="url(#g20)" stroke-width="6.6"/>
<path d="M375 172.2L380.5 172.2" stroke="url(#g21)" stroke-width="6.6"/>
<path d="M350.1 370.4L355.6 370.4" stroke="url(#g22)" stroke-width="6.6"/>
<path d="M235.2 195.2L430.3 195.2" stroke="url(#g27)" stroke-width="6.6"/>
<path d="M300.3 347.4L495.4 347.4" stroke="url(#g28)" stroke-width="6.6"/>
<path d="M495.4 201.1L500.9 201.1" stroke="url(#g29)" stroke-width="6.6"/>
<path d="M229.7 341.5L235.2 341.5" stroke="url(#g30)" stroke-width="6.6"/>
<path d="M206.2 206L224.2 206" stroke="url(#g31)" stroke-width="6.6"/>
<path d="M494 206L498.1 206" stroke="url(#g31)" stroke-width="6.6"/>
<path d="M232.5 336.6L236.6 336.6" stroke="url(#g32)" stroke-width="6.6"/>
<path d="M506.4 336.6L524.4 336.6" stroke="url(#g32)" stroke-width="6.6"/>
<path d="M208.9 210.5L228.3 210.5" stroke="url(#g33)" stroke-width="6.6"/>
<path d="M308.6 210.5L319.6 210.5" stroke="url(#g33)" stroke-width="6.6"/>
<path d="M411 332.1L422 332.1" stroke="url(#g34)" stroke-width="6.6"/>
<path d="M502.3 332.1L521.7 332.1" stroke="url(#g34)" stroke-width="6.6"/>
<path d="M357 213.3L362.5 213.3" stroke="url(#g35)" stroke-width="6.6"/>
<path d="M368.1 329.3L373.6 329.3" stroke="url(#g36)" stroke-width="6.6"/>
<path d="M376.4 248.1L381.9 248.4" stroke="url(#g39)" stroke-width="6.6"/>
<path d="M348.7 294.2L354.2 294.5" stroke="url(#g40)" stroke-width="6.6"/>
<path d="M370.8 248.5L377.8 248.5" stroke="url(#g41)" stroke-width="6.6"/>
<path d="M352.8 294.1L359.8 294.1" stroke="url(#g42)" stroke-width="6.6"/>
<path d="M401.3 255.2L480.2 255.2" stroke="url(#g43)" stroke-width="6.6"/>
<path d="M550.7 255.2L563.2 255.2" stroke="url(#g43)" stroke-width="6.6"/>
<path d="M167.4 287.4L179.9 287.4" stroke="url(#g44)" stroke-width="6.6"/>
<path d="M250.4 287.4L329.3 287.4" stroke="url(#g44)" stroke-width="6.6"/>
<path d="M274 11.6L286.4 10.8" stroke="url(#g1)" stroke-width="6.6"/>
<path d="M484.3 10.8L506.4 11.5" stroke="url(#g1)" stroke-width="6.6"/>
<path d="M224.2 531.1L246.3 531.8" stroke="url(#g2)" stroke-width="6.6"/>
<path d="M444.2 531.8L456.6 531" stroke="url(#g2)" stroke-width="6.6"/>
<path d="M166 63.2L195.1 63.2" stroke="url(#g7)" stroke-width="6.6"/>
<path d="M240.8 63.2L275.4 63.2" stroke="url(#g7)" stroke-width="6.6"/>
<path d="M455.2 479.4L489.8 479.4" stroke="url(#g8)" stroke-width="6.6"/>
<path d="M535.5 479.4L564.6 479.4" stroke="url(#g8)" stroke-width="6.6"/>
<path d="M297.5 69.2L303 69.2" stroke="url(#g9)" stroke-width="6.6"/>
<path d="M307.2 69.2L314.1 69.2" stroke="url(#g9)" stroke-width="6.6"/>
<path d="M416.5 473.4L423.4 473.4" stroke="url(#g10)" stroke-width="6.6"/>
<path d="M427.6 473.4L433.1 473.4" stroke="url(#g10)" stroke-width="6.6"/>
<path d="M83 149.2L139.7 149.1" stroke="url(#g13)" stroke-width="6.6"/>
<path d="M251.8 149.1L286.4 149.1" stroke="url(#g13)" stroke-width="6.6"/>
<path d="M405.4 149.2L422 149.2" stroke="url(#g13)" stroke-width="6.6"/>
<path d="M308.6 393.4L325.2 393.4" stroke="url(#g14)" stroke-width="6.6"/>
<path d="M444.2 393.5L478.8 393.5" stroke="url(#g14)" stroke-width="6.6"/>
<path d="M590.9 393.5L647.6 393.4" stroke="url(#g14)" stroke-width="6.6"/>
<path d="M164.6 145.2L235.2 145.2" stroke="url(#g15)" stroke-width="6.6"/>
<path d="M530 145.2L543.8 145.2" stroke="url(#g15)" stroke-width="6.6"/>
<path d="M579.8 145.2L590.9 145.2" stroke="url(#g15)" stroke-width="6.6"/>
<path d="M139.7 397.4L150.8 397.4" stroke="url(#g16)" stroke-width="6.6"/>
<path d="M186.8 397.4L200.6 397.4" stroke="url(#g16)" stroke-width="6.6"/>
<path d="M495.4 397.4L566 397.4" stroke="url(#g16)" stroke-width="6.6"/>
<path d="M149.4 166.4L175.7 166.4" stroke="url(#g19)" stroke-width="6.6"/>
<path d="M348.7 166.4L357 166.4" stroke="url(#g19)" stroke-width="6.6"/>
<path d="M358.4 166.4L362.5 166.4" stroke="url(#g19)" stroke-width="6.6"/>
<path d="M595 166.4L610.2 166.4" stroke="url(#g19)" stroke-width="6.6"/>
<path d="M120.4 376.2L135.6 376.2" stroke="url(#g20)" stroke-width="6.6"/>
<path d="M368.1 376.2L372.2 376.2" stroke="url(#g20)" stroke-width="6.6"/>
<path d="M373.6 376.2L381.9 376.2" stroke="url(#g20)" stroke-width="6.6"/>
<path d="M554.9 376.2L581.2 376.2" stroke="url(#g20)" stroke-width="6.6"/>
<path d="M369.5 172.2L376.4 172.2" stroke="url(#g21)" stroke-width="6.6"/>
<path d="M379.1 172.2L384.7 172.2" stroke="url(#g21)" stroke-width="6.6"/>
<path d="M345.9 370.4L351.5 370.4" stroke="url(#g22)" stroke-width="6.6"/>
<path d="M354.2 370.4L361.1 370.4" stroke="url(#g22)" stroke-width="6.6"/>
<path d="M220 195.2L236.6 195.2" stroke="url(#g27)" stroke-width="6.6"/>
<path d="M429 195.2L518.9 195.2" stroke="url(#g27)" stroke-width="6.6"/>
<path d="M211.7 347.4L301.6 347.4" stroke="url(#g28)" stroke-width="6.6"/>
<path d="M494 347.4L510.6 347.4" stroke="url(#g28)" stroke-width="6.6"/>
<path d="M491.2 201.1L496.8 201.1" stroke="url(#g29)" stroke-width="6.6"/>
<path d="M499.5 201.1L503.7 201.1" stroke="url(#g29)" stroke-width="6.6"/>
<path d="M226.9 341.5L231.1 341.5" stroke="url(#g30)" stroke-width="6.6"/>
<path d="M233.8 341.5L239.4 341.5" stroke="url(#g30)" stroke-width="6.6"/>
<path d="M222.8 206L240.8 206" stroke="url(#g31)" stroke-width="6.6"/>
<path d="M489.8 206L495.4 206" stroke="url(#g31)" stroke-width="6.6"/>
<path d="M235.2 336.6L240.8 336.6" stroke="url(#g32)" stroke-width="6.6"/>
<path d="M489.8 336.6L507.8 336.6" stroke="url(#g32)" stroke-width="6.6"/>
<path d="M199.2 210.5L210.3 210.5" stroke="url(#g33)" stroke-width="6.6"/>
<path d="M226.9 210.5L240.8 210.5" stroke="url(#g33)" stroke-width="6.6"/>
<path d="M298.9 210.5L309.9 210.5" stroke="url(#g33)" stroke-width="6.6"/>
<path d="M318.2 210.5L327.9 210.5" stroke="url(#g33)" stroke-width="6.6"/>
<path d="M402.7 332.1L412.3 332.1" stroke="url(#g34)" stroke-width="6.6"/>
<path d="M420.7 332.1L431.7 332.1" stroke="url(#g34)" stroke-width="6.6"/>
<path d="M489.8 332.1L503.7 332.1" stroke="url(#g34)" stroke-width="6.6"/>
<path d="M520.3 332.1L531.4 332.1" stroke="url(#g34)" stroke-width="6.6"/>
<path d="M352.8 213.3L358.4 213.3" stroke="url(#g35)" stroke-width="6.6"/>
<path d="M361.1 213.3L366.7 213.3" stroke="url(#g35)" stroke-width="6.6"/>
<path d="M363.9 329.3L369.5 329.3" stroke="url(#g36)" stroke-width="6.6"/>
<path d="M372.2 329.3L377.8 329.3" stroke="url(#g36)" stroke-width="6.6"/>
<path d="M368.1 248.5L372.2 248.5" stroke="url(#g41)" stroke-width="6.6"/>
<path d="M376.4 248.5L383.3 248.5" stroke="url(#g41)" stroke-width="6.6"/>
<path d="M347.3 294.1L354.2 294.1" stroke="url(#g42)" stroke-width="6.6"/>
<path d="M358.4 294.1L362.5 294.1" stroke="url(#g42)" stroke-width="6.6"/>
<path d="M394.4 255.2L402.7 255.2" stroke="url(#g43)" stroke-width="6.6"/>
<path d="M561.8 255.2L577 255.2" stroke="url(#g43)" stroke-width="6.6"/>
<path d="M153.6 287.4L168.8 287.4" stroke="url(#g44)" stroke-width="6.6"/>
<path d="M327.9 287.4L336.2 287.4" stroke="url(#g44)" stroke-width="6.6"/>
<path d="M285 10.9L297.5 10" stroke="url(#g1)" stroke-width="6.6"/>
<path d="M455.2 9.4L485.7 10.8" stroke="url(#g1)" stroke-width="6.6"/>
<path d="M244.9 531.8L275.4 533.2" stroke="url(#g2)" stroke-width="6.6"/>
<path d="M433.1 532.6L445.6 531.7" stroke="url(#g2)" stroke-width="6.6"/>
<path d="M141.1 63.2L167.4 63.2" stroke="url(#g7)" stroke-width="6.6"/>
<path d="M274 63.2L538.3 63.2" stroke="url(#g7)" stroke-width="6.6"/>
<path d="M192.3 479.4L456.6 479.4" stroke="url(#g8)" stroke-width="6.6"/>
<path d="M563.2 479.4L589.5 479.4" stroke="url(#g8)" stroke-width="6.6"/>
<path d="M292 69.2L298.9 69.2" stroke="url(#g9)" stroke-width="6.6"/>
<path d="M312.7 69.2L318.2 69.2" stroke="url(#g9)" stroke-width="6.6"/>
<path d="M412.3 473.4L417.9 473.4" stroke="url(#g10)" stroke-width="6.6"/>
<path d="M431.7 473.4L438.6 473.4" stroke="url(#g10)" stroke-width="6.6"/>
<path d="M285 149.1L406.8 149.2" stroke="url(#g13)" stroke-width="6.6"/>
<path d="M323.8 393.4L445.6 393.5" stroke="url(#g14)" stroke-width="6.6"/>
<path d="M141.1 145.2L166 145.2" stroke="url(#g15)" stroke-width="6.6"/>
<path d="M233.8 145.2L247.7 145.2" stroke="url(#g15)" stroke-width="6.6"/>
<path d="M507.8 145.2L531.4 145.2" stroke="url(#g15)" stroke-width="6.6"/>
<path d="M589.5 145.2L601.9 145.2" stroke="url(#g15)" stroke-width="6.6"/>
<path d="M128.7 397.4L141.1 397.4" stroke="url(#g16)" stroke-width="6.6"/>
<path d="M199.2 397.4L222.8 397.4" stroke="url(#g16)" stroke-width="6.6"/>
<path d="M482.9 397.4L496.8 397.4" stroke="url(#g16)" stroke-width="6.6"/>
<path d="M564.6 397.4L589.5 397.4" stroke="url(#g16)" stroke-width="6.6"/>
<path d="M174.3 166.4L350.1 166.4" stroke="url(#g19)" stroke-width="6.6"/>
<path d="M361.1 166.4L366.7 166.4" stroke="url(#g19)" stroke-width="6.6"/>
<path d="M577 166.4L596.4 166.4" stroke="url(#g19)" stroke-width="6.6"/>
<path d="M134.2 376.2L153.6 376.2" stroke="url(#g20)" stroke-width="6.6"/>
<path d="M363.9 376.2L369.5 376.2" stroke="url(#g20)" stroke-width="6.6"/>
<path d="M380.5 376.2L556.3 376.2" stroke="url(#g20)" stroke-width="6.6"/>
<path d="M365.3 172.2L370.8 172.2" stroke="url(#g21)" stroke-width="6.6"/>
<path d="M383.3 172.2L391.6 172.2" stroke="url(#g21)" stroke-width="6.6"/>
<path d="M583.9 172.2L647.6 172.2" stroke="url(#g21)" stroke-width="6.6"/>
<path d="M83 370.4L146.7 370.4" stroke="url(#g22)" stroke-width="6.6"/>
<path d="M339 370.4L347.3 370.4" stroke="url(#g22)" stroke-width="6.6"/>
<path d="M359.8 370.4L365.3 370.4" stroke="url(#g22)" stroke-width="6.6"/>
<path d="M168.8 189.2L181.3 189.2" stroke="url(#g25)" stroke-width="6.6"/>
<path d="M549.3 353.4L561.8 353.4" stroke="url(#g26)" stroke-width="6.6"/>
<path d="M197.9 195.2L221.4 195.2" stroke="url(#g27)" stroke-width="6.6"/>
<path d="M517.5 195.2L528.6 195.2" stroke="url(#g27)" stroke-width="6.6"/>
<path d="M202 347.4L213.1 347.4" stroke="url(#g28)" stroke-width="6.6"/>
<path d="M509.2 347.4L532.7 347.4" stroke="url(#g28)" stroke-width="6.6"/>
<path d="M258.7 201.1L452.5 201.1" stroke="url(#g29)" stroke-width="6.6"/>
<path d="M477.4 201.1L492.6 201.1" stroke="url(#g29)" stroke-width="6.6"/>
<path d="M502.3 201.1L509.2 201.1" stroke="url(#g29)" stroke-width="6.6"/>
<path d="M221.4 341.5L228.3 341.5" stroke="url(#g30)" stroke-width="6.6"/>
<path d="M238 341.5L253.2 341.5" stroke="url(#g30)" stroke-width="6.6"/>
<path d="M278.1 341.5L471.9 341.5" stroke="url(#g30)" stroke-width="6.6"/>
<path d="M239.4 206L491.2 206" stroke="url(#g31)" stroke-width="6.6"/>
<path d="M239.4 336.6L491.2 336.6" stroke="url(#g32)" stroke-width="6.6"/>
<path d="M83 210.5L200.6 210.5" stroke="url(#g33)" stroke-width="6.6"/>
<path d="M239.4 210.5L300.3 210.5" stroke="url(#g33)" stroke-width="6.6"/>
<path d="M326.6 210.5L340.4 210.5" stroke="url(#g33)" stroke-width="6.6"/>
<path d="M390.2 332.1L404 332.1" stroke="url(#g34)" stroke-width="6.6"/>
<path d="M430.3 332.1L491.2 332.1" stroke="url(#g34)" stroke-width="6.6"/>
<path d="M530 332.1L647.6 332.1" stroke="url(#g34)" stroke-width="6.6"/>
<path d="M345.9 213.3L354.2 213.3" stroke="url(#g35)" stroke-width="6.6"/>
<path d="M365.3 213.3L375 213.3" stroke="url(#g35)" stroke-width="6.6"/>
<path d="M355.6 329.3L365.3 329.3" stroke="url(#g36)" stroke-width="6.6"/>
<path d="M376.4 329.3L384.7 329.3" stroke="url(#g36)" stroke-width="6.6"/>
<path d="M363.9 248.5L369.5 248.5" stroke="url(#g41)" stroke-width="6.6"/>
<path d="M381.9 248.5L393 248.5" stroke="url(#g41)" stroke-width="6.6"/>
<path d="M337.6 294.1L348.7 294.1" stroke="url(#g42)" stroke-width="6.6"/>
<path d="M361.1 294.1L366.7 294.1" stroke="url(#g42)" stroke-width="6.6"/>
<path d="M332.1 255.2L395.7 255.2" stroke="url(#g43)" stroke-width="6.6"/>
<path d="M575.6 255.2L597.8 255.2" stroke="url(#g43)" stroke-width="6.6"/>
<path d="M132.8 287.4L155 287.4" stroke="url(#g44)" stroke-width="6.6"/>
<path d="M334.9 287.4L398.5 287.4" stroke="url(#g44)" stroke-width="6.6"/>
<path d="M296.1 10.1L307.2 9.2L316.9 8.7L343.2 8.3L422 8.4L456.6 9.5" stroke="url(#g1)" stroke-width="6.6"/>
<path d="M274 533.1L308.6 534.2L387.4 534.3L413.7 533.9L423.4 533.4L434.5 532.5" stroke="url(#g2)" stroke-width="6.6"/>
<path d="M83 63.2L142.5 63.2" stroke="url(#g7)" stroke-width="6.6"/>
<path d="M536.9 63.2L647.6 63.2" stroke="url(#g7)" stroke-width="6.6"/>
<path d="M83 479.4L193.7 479.4" stroke="url(#g8)" stroke-width="6.6"/>
<path d="M588.1 479.4L647.6 479.4" stroke="url(#g8)" stroke-width="6.6"/>
<path d="M83 69.2L293.3 69.2" stroke="url(#g9)" stroke-width="6.6"/>
<path d="M316.9 69.2L647.6 69.2" stroke="url(#g9)" stroke-width="6.6"/>
<path d="M83 473.4L413.7 473.4" stroke="url(#g10)" stroke-width="6.6"/>
<path d="M437.3 473.4L647.6 473.4" stroke="url(#g10)" stroke-width="6.6"/>
<path d="M83 145.2L142.5 145.2" stroke="url(#g15)" stroke-width="6.6"/>
<path d="M246.3 145.2L509.2 145.2" stroke="url(#g15)" stroke-width="6.6"/>
<path d="M600.5 145.2L647.6 145.2" stroke="url(#g15)" stroke-width="6.6"/>
<path d="M83 397.4L130.1 397.4" stroke="url(#g16)" stroke-width="6.6"/>
<path d="M221.4 397.4L484.3 397.4" stroke="url(#g16)" stroke-width="6.6"/>
<path d="M588.1 397.4L647.6 397.4" stroke="url(#g16)" stroke-width="6.6"/>
<path d="M365.3 166.4L578.4 166.4" stroke="url(#g19)" stroke-width="6.6"/>
<path d="M152.2 376.2L365.3 376.2" stroke="url(#g20)" stroke-width="6.6"/>
<path d="M83 172.2L366.7 172.2" stroke="url(#g21)" stroke-width="6.6"/>
<path d="M390.2 172.2L585.3 172.2" stroke="url(#g21)" stroke-width="6.6"/>
<path d="M145.3 370.4L340.4 370.4" stroke="url(#g22)" stroke-width="6.6"/>
<path d="M363.9 370.4L647.6 370.4" stroke="url(#g22)" stroke-width="6.6"/>
<path d="M83 183.3L647.6 183.3" stroke="url(#g23)" stroke-width="6.6"/>
<path d="M83 359.3L647.6 359.3" stroke="url(#g24)" stroke-width="6.6"/>
<path d="M83 189.2L170.2 189.2" stroke="url(#g25)" stroke-width="6.6"/>
<path d="M179.9 189.2L647.6 189.2" stroke="url(#g25)" stroke-width="6.6"/>
<path d="M83 353.4L550.7 353.4" stroke="url(#g26)" stroke-width="6.6"/>
<path d="M560.4 353.4L647.6 353.4" stroke="url(#g26)" stroke-width="6.6"/>
<path d="M83 195.2L199.2 195.2" stroke="url(#g27)" stroke-width="6.6"/>
<path d="M527.2 195.2L647.6 195.2" stroke="url(#g27)" stroke-width="6.6"/>
<path d="M83 347.4L203.4 347.4" stroke="url(#g28)" stroke-width="6.6"/>
<path d="M531.4 347.4L647.6 347.4" stroke="url(#g28)" stroke-width="6.6"/>
<path d="M83 201.1L260.1 201.1" stroke="url(#g29)" stroke-width="6.6"/>
<path d="M451.1 201.1L478.8 201.1" stroke="url(#g29)" stroke-width="6.6"/>
<path d="M507.8 201.1L647.6 201.1" stroke="url(#g29)" stroke-width="6.6"/>
<path d="M83 341.5L222.8 341.5" stroke="url(#g30)" stroke-width="6.6"/>
<path d="M251.8 341.5L279.5 341.5" stroke="url(#g30)" stroke-width="6.6"/>
<path d="M470.5 341.5L647.6 341.5" stroke="url(#g30)" stroke-width="6.6"/>
<path d="M339 210.5L647.6 210.5" stroke="url(#g33)" stroke-width="6.6"/>
<path d="M83 332.1L391.6 332.1" stroke="url(#g34)" stroke-width="6.6"/>
<path d="M83 213.3L347.3 213.3" stroke="url(#g35)" stroke-width="6.6"/>
<path d="M373.6 213.3L647.6 213.3" stroke="url(#g35)" stroke-width="6.6"/>
<path d="M83 329.3L357 329.3" stroke="url(#g36)" stroke-width="6.6"/>
<path d="M383.3 329.3L647.6 329.3" stroke="url(#g36)" stroke-width="6.6"/>
<path d="M83 248.5L365.3 248.5" stroke="url(#g41)" stroke-width="6.6"/>
<path d="M391.6 248.5L647.6 248.5" stroke="url(#g41)" stroke-width="6.6"/>
<path d="M83 294.1L339 294.1" stroke="url(#g42)" stroke-width="6.6"/>
<path d="M365.3 294.1L647.6 294.1" stroke="url(#g42)" stroke-width="6.6"/>
<path d="M83 255.2L333.5 255.2" stroke="url(#g43)" stroke-width="6.6"/>
<path d="M596.4 255.2L647.6 255.2" stroke="url(#g43)" stroke-width="6.6"/>
<path d="M83 287.4L134.2 287.4" stroke="url(#g44)" stroke-width="6.6"/>
<path d="M397.1 287.4L647.6 287.4" stroke="url(#g44)" stroke-width="6.6"/>
</g>
<rect x="83" y="9.6" width="564.6" height="523.4" fill="none" stroke="#000" stroke-width="1.7"/>
<path d="M83 533v7M365.3 533v7M647.6 533v7M83 9.6h-7M83 271.3h-7M83 533h-7M709.9 485.9h7M709.9 377.6h7M709.9 269.3h7M709.9 161h7M709.9 52.7h7" stroke="#000" stroke-width="1.7" fill="none"/>
<g font-family="'Liberation Serif','DejaVu Serif',serif" font-size="31px" fill="#000">
<text x="83" y="570.6" text-anchor="middle" textLength="58" lengthAdjust="spacingAndGlyphs">−0.5</text>
<text x="365.3" y="570.6" text-anchor="middle">0</text>
<text x="647.1" y="570.6" text-anchor="middle" textLength="37.5" lengthAdjust="spacingAndGlyphs">0.5</text>
<text x="68.8" y="544.5" text-anchor="end">0</text>
<text x="68.3" y="282.8" text-anchor="end" textLength="17" lengthAdjust="spacingAndGlyphs" font-style="italic">π</text>
<text x="68.3" y="20.8" text-anchor="end" textLength="31.5" lengthAdjust="spacingAndGlyphs">2<tspan font-style="italic">π</tspan></text>
</g>
<text x="364.3" y="614" text-anchor="middle" font-family="'Liberation Serif','DejaVu Serif',serif" font-size="40px" font-style="italic" textLength="31" lengthAdjust="spacingAndGlyphs">k<tspan font-size="28px" font-style="normal" dy="6">2</tspan></text>
<g transform="translate(17.4 271.3) rotate(-90)" fill="#000" font-family="'Liberation Serif','DejaVu Serif',serif" font-style="italic">
<text x="-20" y="0" font-size="38px" textLength="20" lengthAdjust="spacingAndGlyphs" stroke="#fff" stroke-width="0.4">γ</text>
<text x="0.5" y="8" font-size="27.5px" textLength="16" lengthAdjust="spacingAndGlyphs">n</text>
</g>
<linearGradient id="cbg1" x1="0" x2="0" y1="0" y2="1"><stop offset="0.0000" stop-color="#fde725"/><stop offset="0.0312" stop-color="#ece51b"/><stop offset="0.0625" stop-color="#d8e219"/><stop offset="0.0938" stop-color="#c2df23"/><stop offset="0.1250" stop-color="#addc30"/><stop offset="0.1562" stop-color="#98d83e"/><stop offset="0.1875" stop-color="#84d44b"/><stop offset="0.2188" stop-color="#70cf57"/><stop offset="0.2500" stop-color="#5ec962"/><stop offset="0.2812" stop-color="#4ec36b"/><stop offset="0.3125" stop-color="#3fbc73"/><stop offset="0.3438" stop-color="#32b67a"/><stop offset="0.3750" stop-color="#28ae80"/><stop offset="0.4062" stop-color="#22a785"/><stop offset="0.4375" stop-color="#1fa088"/><stop offset="0.4688" stop-color="#1f988b"/><stop offset="0.5000" stop-color="#21918c"/><stop offset="0.5312" stop-color="#23898e"/><stop offset="0.5625" stop-color="#26828e"/><stop offset="0.5938" stop-color="#297a8e"/><stop offset="0.6250" stop-color="#2c728e"/><stop offset="0.6562" stop-color="#2f6b8e"/><stop offset="0.6875" stop-color="#33638d"/><stop offset="0.7188" stop-color="#375b8d"/><stop offset="0.7500" stop-color="#3b528b"/><stop offset="0.7812" stop-color="#3e4989"/><stop offset="0.8125" stop-color="#424086"/><stop offset="0.8438" stop-color="#453781"/><stop offset="0.8750" stop-color="#472d7b"/><stop offset="0.9062" stop-color="#482374"/><stop offset="0.9375" stop-color="#48186a"/><stop offset="0.9688" stop-color="#470d60"/><stop offset="1.0000" stop-color="#440154"/></linearGradient>
<rect x="682.4" y="9.4" width="27.5" height="524.1" fill="url(#cbg1)" stroke="#000" stroke-width="1.7"/>
<g font-family="'DejaVu Sans','Liberation Sans',sans-serif" font-size="23.5px" fill="#000">
<text x="723.4" y="494.8">−0.4</text>
<text x="723.4" y="386.5">−0.2</text>
<text x="723.4" y="278.2">0.0</text>
<text x="723.4" y="169.9">0.2</text>
<text x="723.4" y="61.6">0.4</text>
</g>
<g transform="translate(817.3 271.4) rotate(-90)" fill="#000" font-family="'Liberation Serif','DejaVu Serif',serif">
<text x="-46.6" y="0" font-family="'DejaVu Sans','Liberation Sans',sans-serif" font-size="41.5px" stroke="#fff" stroke-width="1.5">⟨</text>
<text x="-31" y="0" font-size="33px" font-style="italic" textLength="18.6" lengthAdjust="spacingAndGlyphs">S</text>
<text x="-12.6" y="5.2" font-size="21.5px" font-style="italic" textLength="9.2" lengthAdjust="spacingAndGlyphs">x</text>
<text x="-1.4" y="0" font-family="'DejaVu Sans','Liberation Sans',sans-serif" font-size="41.5px" stroke="#fff" stroke-width="1.5">⟩</text>
<text x="15.4" y="6.6" font-size="45px">/</text>
<text x="28.6" y="0" font-size="32px" font-style="italic" textLength="17" lengthAdjust="spacingAndGlyphs">ħ</text>
</g>
</g>
<g id="panel2">
<clipPath id="clip2"><rect x="983.1" y="9.6" width="572.4" height="523.4"/></clipPath>
<g clip-path="url(#clip2)" fill="none" stroke-linecap="round" stroke-linejoin="round">
<linearGradient id="g46" gradientUnits="userSpaceOnUse" x1="983.1" x2="1269.3" y1="0" y2="0"><stop offset="0" stop-color="#dfe318"/><stop offset="0.4085" stop-color="#ece51b"/><stop offset="1" stop-color="#fde725"/></linearGradient>
<linearGradient id="g47" gradientUnits="userSpaceOnUse" x1="1269.3" x2="1555.5" y1="0" y2="0"><stop offset="0" stop-color="#440154"/><stop offset="0.5915" stop-color="#460b5e"/><stop offset="1" stop-color="#471365"/></linearGradient>
<linearGradient id="g48" gradientUnits="userSpaceOnUse" x1="983.1" x2="1269.3" y1="0" y2="0"><stop offset="0" stop-color="#471365"/><stop offset="0.4085" stop-color="#460b5e"/><stop offset="1" stop-color="#440154"/></linearGradient>
<linearGradient id="g49" gradientUnits="userSpaceOnUse" x1="1269.3" x2="1555.5" y1="0" y2="0"><stop offset="0" stop-color="#fde725"/><stop offset="0.5915" stop-color="#ece51b"/><stop offset="1" stop-color="#dfe318"/></linearGradient>
<linearGradient id="g50" gradientUnits="userSpaceOnUse" x1="983.1" x2="1269.3" y1="0" y2="0"><stop offset="0" stop-color="#dfe318"/><stop offset="0.4085" stop-color="#ece51b"/><stop offset="1" stop-color="#fde725"/></linearGradient>
<linearGradient id="g51" gradientUnits="userSpaceOnUse" x1="1269.3" x2="1555.5" y1="0" y2="0"><stop offset="0" stop-color="#440154"/><stop offset="0.5915" stop-color="#460b5e"/><stop offset="1" stop-color="#471365"/></linearGradient>
<linearGradient id="g52" gradientUnits="userSpaceOnUse" x1="983.1" x2="1269.3" y1="0" y2="0"><stop offset="0" stop-color="#471365"/><stop offset="0.4085" stop-color="#460b5e"/><stop offset="1" stop-color="#440154"/></linearGradient>
<linearGradient id="g53" gradientUnits="userSpaceOnUse" x1="1269.3" x2="1555.5" y1="0" y2="0"><stop offset="0" stop-color="#fde725"/><stop offset="0.5915" stop-color="#ece51b"/><stop offset="1" stop-color="#dfe318"/></linearGradient>
<linearGradient id="g54" gradientUnits="userSpaceOnUse" x1="983.1" x2="1269.3" y1="0" y2="0"><stop offset="0" stop-color="#4ec36b"/><stop offset="0.1639" stop-color="#44bf70"/><stop offset="0.2512" stop-color="#26ad81"/><stop offset="0.3211" stop-color="#21918c"/><stop offset="0.4085" stop-color="#2a788e"/><stop offset="0.5482" stop-color="#375a8c"/><stop offset="0.688" stop-color="#3b528b"/><stop offset="0.8103" stop-color="#2c738e"/><stop offset="0.9151" stop-color="#23898e"/><stop offset="1" stop-color="#21918c"/></linearGradient>
<linearGradient id="g55" gradientUnits="userSpaceOnUse" x1="1269.3" x2="1555.5" y1="0" y2="0"><stop offset="0" stop-color="#21918c"/><stop offset="0.0849" stop-color="#1f978b"/><stop offset="0.1897" stop-color="#26ad81"/><stop offset="0.312" stop-color="#5ec962"/><stop offset="0.4518" stop-color="#4ec36b"/><stop offset="0.5915" stop-color="#22a884"/><stop offset="0.6789" stop-color="#21918c"/><stop offset="0.7488" stop-color="#2c738e"/><stop offset="0.8361" stop-color="#355f8d"/><stop offset="1" stop-color="#375a8c"/></linearGradient>
<linearGradient id="g56" gradientUnits="userSpaceOnUse" x1="983.1" x2="1269.3" y1="0" y2="0"><stop offset="0" stop-color="#375a8c"/><stop offset="0.1639" stop-color="#355f8d"/><stop offset="0.2512" stop-color="#2c738e"/><stop offset="0.3211" stop-color="#21918c"/><stop offset="0.4085" stop-color="#22a884"/><stop offset="0.5482" stop-color="#4ec36b"/><stop offset="0.688" stop-color="#5ec962"/><stop offset="0.8103" stop-color="#26ad81"/><stop offset="0.9151" stop-color="#1f978b"/><stop offset="1" stop-color="#21918c"/></linearGradient>
<linearGradient id="g57" gradientUnits="userSpaceOnUse" x1="1269.3" x2="1555.5" y1="0" y2="0"><stop offset="0" stop-color="#21918c"/><stop offset="0.0849" stop-color="#23898e"/><stop offset="0.1897" stop-color="#2c738e"/><stop offset="0.312" stop-color="#3b528b"/><stop offset="0.4518" stop-color="#375a8c"/><stop offset="0.5915" stop-color="#2a788e"/><stop offset="0.6789" stop-color="#21918c"/><stop offset="0.7488" stop-color="#26ad81"/><stop offset="0.8361" stop-color="#44bf70"/><stop offset="1" stop-color="#4ec36b"/></linearGradient>
<linearGradient id="g58" gradientUnits="userSpaceOnUse" x1="983.1" x2="1269.3" y1="0" y2="0"><stop offset="0" stop-color="#4ec36b"/><stop offset="0.1639" stop-color="#44bf70"/><stop offset="0.2512" stop-color="#26ad81"/><stop offset="0.3211" stop-color="#21918c"/><stop offset="0.4085" stop-color="#2a788e"/><stop offset="0.5482" stop-color="#375a8c"/><stop offset="0.688" stop-color="#3b528b"/><stop offset="0.8103" stop-color="#2c738e"/><stop offset="0.9151" stop-color="#23898e"/><stop offset="1" stop-color="#21918c"/></linearGradient>
<linearGradient id="g59" gradientUnits="userSpaceOnUse" x1="1269.3" x2="1555.5" y1="0" y2="0"><stop offset="0" stop-color="#21918c"/><stop offset="0.0849" stop-color="#1f978b"/><stop offset="0.1897" stop-color="#26ad81"/><stop offset="0.312" stop-color="#5ec962"/><stop offset="0.4518" stop-color="#4ec36b"/><stop offset="0.5915" stop-color="#22a884"/><stop offset="0.6789" stop-color="#21918c"/><stop offset="0.7488" stop-color="#2c738e"/><stop offset="0.8361" stop-color="#355f8d"/><stop offset="1" stop-color="#375a8c"/></linearGradient>
<linearGradient id="g60" gradientUnits="userSpaceOnUse" x1="983.1" x2="1269.3" y1="0" y2="0"><stop offset="0" stop-color="#375a8c"/><stop offset="0.1639" stop-color="#355f8d"/><stop offset="0.2512" stop-color="#2c738e"/><stop offset="0.3211" stop-color="#21918c"/><stop offset="0.4085" stop-color="#22a884"/><stop offset="0.5482" stop-color="#4ec36b"/><stop offset="0.688" stop-color="#5ec962"/><stop offset="0.8103" stop-color="#26ad81"/><stop offset="0.9151" stop-color="#1f978b"/><stop offset="1" stop-color="#21918c"/></linearGradient>
<linearGradient id="g61" gradientUnits="userSpaceOnUse" x1="1269.3" x2="1555.5" y1="0" y2="0"><stop offset="0" stop-color="#21918c"/><stop offset="0.0849" stop-color="#23898e"/><stop offset="0.1897" stop-color="#2c738e"/><stop offset="0.312" stop-color="#3b528b"/><stop offset="0.4518" stop-color="#375a8c"/><stop offset="0.5915" stop-color="#2a788e"/><stop offset="0.6789" stop-color="#21918c"/><stop offset="0.7488" stop-color="#26ad81"/><stop offset="0.8361" stop-color="#44bf70"/><stop offset="1" stop-color="#4ec36b"/></linearGradient>
<linearGradient id="g62" gradientUnits="userSpaceOnUse" x1="983.1" x2="1269.3" y1="0" y2="0"><stop offset="0" stop-color="#375a8c"/><stop offset="0.1988" stop-color="#32648e"/><stop offset="0.2862" stop-color="#2f6c8e"/><stop offset="0.3386" stop-color="#355f8d"/><stop offset="0.3735" stop-color="#3e4c8a"/><stop offset="0.4364" stop-color="#3e4c8a"/><stop offset="0.4644" stop-color="#2f6c8e"/><stop offset="0.4853" stop-color="#23898e"/><stop offset="0.5307" stop-color="#20a386"/><stop offset="0.5832" stop-color="#37b878"/><stop offset="0.6705" stop-color="#44bf70"/><stop offset="0.8802" stop-color="#44bf70"/><stop offset="0.95" stop-color="#22a884"/><stop offset="1" stop-color="#21918c"/></linearGradient>
<linearGradient id="g63" gradientUnits="userSpaceOnUse" x1="1269.3" x2="1555.5" y1="0" y2="0"><stop offset="0" stop-color="#21918c"/><stop offset="0.05" stop-color="#2a788e"/><stop offset="0.1198" stop-color="#355f8d"/><stop offset="0.3295" stop-color="#355f8d"/><stop offset="0.4168" stop-color="#31678e"/><stop offset="0.4693" stop-color="#287d8e"/><stop offset="0.5147" stop-color="#1f978b"/><stop offset="0.5356" stop-color="#2fb47c"/><stop offset="0.5636" stop-color="#69cd5b"/><stop offset="0.6265" stop-color="#69cd5b"/><stop offset="0.6614" stop-color="#44bf70"/><stop offset="0.7138" stop-color="#2fb47c"/><stop offset="0.8012" stop-color="#3bbb75"/><stop offset="1" stop-color="#4ec36b"/></linearGradient>
<linearGradient id="g64" gradientUnits="userSpaceOnUse" x1="983.1" x2="1269.3" y1="0" y2="0"><stop offset="0" stop-color="#4ec36b"/><stop offset="0.1988" stop-color="#3bbb75"/><stop offset="0.2862" stop-color="#2fb47c"/><stop offset="0.3386" stop-color="#44bf70"/><stop offset="0.3735" stop-color="#69cd5b"/><stop offset="0.4364" stop-color="#69cd5b"/><stop offset="0.4644" stop-color="#2fb47c"/><stop offset="0.4853" stop-color="#1f978b"/><stop offset="0.5307" stop-color="#287d8e"/><stop offset="0.5832" stop-color="#31678e"/><stop offset="0.6705" stop-color="#355f8d"/><stop offset="0.8802" stop-color="#355f8d"/><stop offset="0.95" stop-color="#2a788e"/><stop offset="1" stop-color="#21918c"/></linearGradient>
<linearGradient id="g65" gradientUnits="userSpaceOnUse" x1="1269.3" x2="1555.5" y1="0" y2="0"><stop offset="0" stop-color="#21918c"/><stop offset="0.05" stop-color="#22a884"/><stop offset="0.1198" stop-color="#44bf70"/><stop offset="0.3295" stop-color="#44bf70"/><stop offset="0.4168" stop-color="#37b878"/><stop offset="0.4693" stop-color="#20a386"/><stop offset="0.5147" stop-color="#23898e"/><stop offset="0.5356" stop-color="#2f6c8e"/><stop offset="0.5636" stop-color="#3e4c8a"/><stop offset="0.6265" stop-color="#3e4c8a"/><stop offset="0.6614" stop-color="#355f8d"/><stop offset="0.7138" stop-color="#2f6c8e"/><stop offset="0.8012" stop-color="#32648e"/><stop offset="1" stop-color="#375a8c"/></linearGradient>
<linearGradient id="g66" gradientUnits="userSpaceOnUse" x1="983.1" x2="1269.3" y1="0" y2="0"><stop offset="0" stop-color="#375a8c"/><stop offset="0.1988" stop-color="#32648e"/><stop offset="0.2862" stop-color="#2f6c8e"/><stop offset="0.3386" stop-color="#355f8d"/><stop offset="0.3735" stop-color="#3e4c8a"/><stop offset="0.4364" stop-color="#3e4c8a"/><stop offset="0.4644" stop-color="#2f6c8e"/><stop offset="0.4853" stop-color="#23898e"/><stop offset="0.5307" stop-color="#20a386"/><stop offset="0.5832" stop-color="#37b878"/><stop offset="0.6705" stop-color="#44bf70"/><stop offset="0.8802" stop-color="#44bf70"/><stop offset="0.95" stop-color="#22a884"/><stop offset="1" stop-color="#21918c"/></linearGradient>
<linearGradient id="g67" gradientUnits="userSpaceOnUse" x1="1269.3" x2="1555.5" y1="0" y2="0"><stop offset="0" stop-color="#21918c"/><stop offset="0.05" stop-color="#2a788e"/><stop offset="0.1198" stop-color="#355f8d"/><stop offset="0.3295" stop-color="#355f8d"/><stop offset="0.4168" stop-color="#31678e"/><stop offset="0.4693" stop-color="#287d8e"/><stop offset="0.5147" stop-color="#1f978b"/><stop offset="0.5356" stop-color="#2fb47c"/><stop offset="0.5636" stop-color="#69cd5b"/><stop offset="0.6265" stop-color="#69cd5b"/><stop offset="0.6614" stop-color="#44bf70"/><stop offset="0.7138" stop-color="#2fb47c"/><stop offset="0.8012" stop-color="#3bbb75"/><stop offset="1" stop-color="#4ec36b"/></linearGradient>
<linearGradient id="g68" gradientUnits="userSpaceOnUse" x1="983.1" x2="1269.3" y1="0" y2="0"><stop offset="0" stop-color="#4ec36b"/><stop offset="0.1988" stop-color="#3bbb75"/><stop offset="0.2862" stop-color="#2fb47c"/><stop offset="0.3386" stop-color="#44bf70"/><stop offset="0.3735" stop-color="#69cd5b"/><stop offset="0.4364" stop-color="#69cd5b"/><stop offset="0.4644" stop-color="#2fb47c"/><stop offset="0.4853" stop-color="#1f978b"/><stop offset="0.5307" stop-color="#287d8e"/><stop offset="0.5832" stop-color="#31678e"/><stop offset="0.6705" stop-color="#355f8d"/><stop offset="0.8802" stop-color="#355f8d"/><stop offset="0.95" stop-color="#2a788e"/><stop offset="1" stop-color="#21918c"/></linearGradient>
<linearGradient id="g69" gradientUnits="userSpaceOnUse" x1="1269.3" x2="1555.5" y1="0" y2="0"><stop offset="0" stop-color="#21918c"/><stop offset="0.05" stop-color="#22a884"/><stop offset="0.1198" stop-color="#44bf70"/><stop offset="0.3295" stop-color="#44bf70"/><stop offset="0.4168" stop-color="#37b878"/><stop offset="0.4693" stop-color="#20a386"/><stop offset="0.5147" stop-color="#23898e"/><stop offset="0.5356" stop-color="#2f6c8e"/><stop offset="0.5636" stop-color="#3e4c8a"/><stop offset="0.6265" stop-color="#3e4c8a"/><stop offset="0.6614" stop-color="#355f8d"/><stop offset="0.7138" stop-color="#2f6c8e"/><stop offset="0.8012" stop-color="#32648e"/><stop offset="1" stop-color="#375a8c"/></linearGradient>
<linearGradient id="g70" gradientUnits="userSpaceOnUse" x1="983.1" x2="1269.3" y1="0" y2="0"><stop offset="0" stop-color="#fde725"/><stop offset="0.2512" stop-color="#fde725"/><stop offset="0.2897" stop-color="#cae11f"/><stop offset="0.3106" stop-color="#7ad151"/><stop offset="0.3316" stop-color="#cae11f"/><stop offset="0.3735" stop-color="#fde725"/><stop offset="0.6181" stop-color="#f1e51d"/><stop offset="0.66" stop-color="#9bd93c"/><stop offset="0.688" stop-color="#22a884"/><stop offset="0.7089" stop-color="#1e9c89"/><stop offset="0.7369" stop-color="#7ad151"/><stop offset="0.7753" stop-color="#dfe318"/><stop offset="0.8277" stop-color="#fde725"/><stop offset="0.8487" stop-color="#fde725"/><stop offset="0.8592" stop-color="#7ad151"/><stop offset="0.8697" stop-color="#fde725"/><stop offset="0.9885" stop-color="#fde725"/><stop offset="1" stop-color="#7ad151"/></linearGradient>
<linearGradient id="g71" gradientUnits="userSpaceOnUse" x1="1269.3" x2="1555.5" y1="0" y2="0"><stop offset="0" stop-color="#414487"/><stop offset="0.0115" stop-color="#440154"/><stop offset="0.1303" stop-color="#440154"/><stop offset="0.1408" stop-color="#414487"/><stop offset="0.1513" stop-color="#440154"/><stop offset="0.1723" stop-color="#440154"/><stop offset="0.2247" stop-color="#471365"/><stop offset="0.2631" stop-color="#414487"/><stop offset="0.2911" stop-color="#25848e"/><stop offset="0.312" stop-color="#2a788e"/><stop offset="0.34" stop-color="#463480"/><stop offset="0.3819" stop-color="#46085c"/><stop offset="0.6265" stop-color="#440154"/><stop offset="0.6684" stop-color="#481d6f"/><stop offset="0.6894" stop-color="#414487"/><stop offset="0.7103" stop-color="#481d6f"/><stop offset="0.7488" stop-color="#440154"/><stop offset="1" stop-color="#440154"/></linearGradient>
<linearGradient id="g72" gradientUnits="userSpaceOnUse" x1="983.1" x2="1269.3" y1="0" y2="0"><stop offset="0" stop-color="#440154"/><stop offset="0.2512" stop-color="#440154"/><stop offset="0.2897" stop-color="#481d6f"/><stop offset="0.3106" stop-color="#414487"/><stop offset="0.3316" stop-color="#481d6f"/><stop offset="0.3735" stop-color="#440154"/><stop offset="0.6181" stop-color="#46085c"/><stop offset="0.66" stop-color="#463480"/><stop offset="0.688" stop-color="#2a788e"/><stop offset="0.7089" stop-color="#25848e"/><stop offset="0.7369" stop-color="#414487"/><stop offset="0.7753" stop-color="#471365"/><stop offset="0.8277" stop-color="#440154"/><stop offset="0.8487" stop-color="#440154"/><stop offset="0.8592" stop-color="#414487"/><stop offset="0.8697" stop-color="#440154"/><stop offset="0.9885" stop-color="#440154"/><stop offset="1" stop-color="#414487"/></linearGradient>
<linearGradient id="g73" gradientUnits="userSpaceOnUse" x1="1269.3" x2="1555.5" y1="0" y2="0"><stop offset="0" stop-color="#7ad151"/><stop offset="0.0115" stop-color="#fde725"/><stop offset="0.1303" stop-color="#fde725"/><stop offset="0.1408" stop-color="#7ad151"/><stop offset="0.1513" stop-color="#fde725"/><stop offset="0.1723" stop-color="#fde725"/><stop offset="0.2247" stop-color="#dfe318"/><stop offset="0.2631" stop-color="#7ad151"/><stop offset="0.2911" stop-color="#1e9c89"/><stop offset="0.312" stop-color="#22a884"/><stop offset="0.34" stop-color="#9bd93c"/><stop offset="0.3819" stop-color="#f1e51d"/><stop offset="0.6265" stop-color="#fde725"/><stop offset="0.6684" stop-color="#cae11f"/><stop offset="0.6894" stop-color="#7ad151"/><stop offset="0.7103" stop-color="#cae11f"/><stop offset="0.7488" stop-color="#fde725"/><stop offset="1" stop-color="#fde725"/></linearGradient>
<linearGradient id="g74" gradientUnits="userSpaceOnUse" x1="983.1" x2="1269.3" y1="0" y2="0"><stop offset="0" stop-color="#fde725"/><stop offset="0.2512" stop-color="#fde725"/><stop offset="0.2897" stop-color="#cae11f"/><stop offset="0.3106" stop-color="#7ad151"/><stop offset="0.3316" stop-color="#cae11f"/><stop offset="0.3735" stop-color="#fde725"/><stop offset="0.6181" stop-color="#f1e51d"/><stop offset="0.66" stop-color="#9bd93c"/><stop offset="0.688" stop-color="#22a884"/><stop offset="0.7089" stop-color="#1e9c89"/><stop offset="0.7369" stop-color="#7ad151"/><stop offset="0.7753" stop-color="#dfe318"/><stop offset="0.8277" stop-color="#fde725"/><stop offset="0.8487" stop-color="#fde725"/><stop offset="0.8592" stop-color="#7ad151"/><stop offset="0.8697" stop-color="#fde725"/><stop offset="0.9885" stop-color="#fde725"/><stop offset="1" stop-color="#7ad151"/></linearGradient>
<linearGradient id="g75" gradientUnits="userSpaceOnUse" x1="1269.3" x2="1555.5" y1="0" y2="0"><stop offset="0" stop-color="#414487"/><stop offset="0.0115" stop-color="#440154"/><stop offset="0.1303" stop-color="#440154"/><stop offset="0.1408" stop-color="#414487"/><stop offset="0.1513" stop-color="#440154"/><stop offset="0.1723" stop-color="#440154"/><stop offset="0.2247" stop-color="#471365"/><stop offset="0.2631" stop-color="#414487"/><stop offset="0.2911" stop-color="#25848e"/><stop offset="0.312" stop-color="#2a788e"/><stop offset="0.34" stop-color="#463480"/><stop offset="0.3819" stop-color="#46085c"/><stop offset="0.6265" stop-color="#440154"/><stop offset="0.6684" stop-color="#481d6f"/><stop offset="0.6894" stop-color="#414487"/><stop offset="0.7103" stop-color="#481d6f"/><stop offset="0.7488" stop-color="#440154"/><stop offset="1" stop-color="#440154"/></linearGradient>
<linearGradient id="g76" gradientUnits="userSpaceOnUse" x1="983.1" x2="1269.3" y1="0" y2="0"><stop offset="0" stop-color="#440154"/><stop offset="0.2512" stop-color="#440154"/><stop offset="0.2897" stop-color="#481d6f"/><stop offset="0.3106" stop-color="#414487"/><stop offset="0.3316" stop-color="#481d6f"/><stop offset="0.3735" stop-color="#440154"/><stop offset="0.6181" stop-color="#46085c"/><stop offset="0.66" stop-color="#463480"/><stop offset="0.688" stop-color="#2a788e"/><stop offset="0.7089" stop-color="#25848e"/><stop offset="0.7369" stop-color="#414487"/><stop offset="0.7753" stop-color="#471365"/><stop offset="0.8277" stop-color="#440154"/><stop offset="0.8487" stop-color="#440154"/><stop offset="0.8592" stop-color="#414487"/><stop offset="0.8697" stop-color="#440154"/><stop offset="0.9885" stop-color="#440154"/><stop offset="1" stop-color="#414487"/></linearGradient>
<linearGradient id="g77" gradientUnits="userSpaceOnUse" x1="1269.3" x2="1555.5" y1="0" y2="0"><stop offset="0" stop-color="#7ad151"/><stop offset="0.0115" stop-color="#fde725"/><stop offset="0.1303" stop-color="#fde725"/><stop offset="0.1408" stop-color="#7ad151"/><stop offset="0.1513" stop-color="#fde725"/><stop offset="0.1723" stop-color="#fde725"/><stop offset="0.2247" stop-color="#dfe318"/><stop offset="0.2631" stop-color="#7ad151"/><stop offset="0.2911" stop-color="#1e9c89"/><stop offset="0.312" stop-color="#22a884"/><stop offset="0.34" stop-color="#9bd93c"/><stop offset="0.3819" stop-color="#f1e51d"/><stop offset="0.6265" stop-color="#fde725"/><stop offset="0.6684" stop-color="#cae11f"/><stop offset="0.6894" stop-color="#7ad151"/><stop offset="0.7103" stop-color="#cae11f"/><stop offset="0.7488" stop-color="#fde725"/><stop offset="1" stop-color="#fde725"/></linearGradient>
<linearGradient id="g78" gradientUnits="userSpaceOnUse" x1="983.1" x2="1269.3" y1="0" y2="0"><stop offset="0" stop-color="#440154"/><stop offset="0.8487" stop-color="#440154"/><stop offset="0.8592" stop-color="#414487"/><stop offset="0.8697" stop-color="#440154"/><stop offset="0.9885" stop-color="#440154"/><stop offset="1" stop-color="#414487"/></linearGradient>
<linearGradient id="g79" gradientUnits="userSpaceOnUse" x1="1269.3" x2="1555.5" y1="0" y2="0"><stop offset="0" stop-color="#7ad151"/><stop offset="0.0115" stop-color="#fde725"/><stop offset="0.1303" stop-color="#fde725"/><stop offset="0.1408" stop-color="#7ad151"/><stop offset="0.1513" stop-color="#fde725"/><stop offset="1" stop-color="#fde725"/></linearGradient>
<linearGradient id="g80" gradientUnits="userSpaceOnUse" x1="983.1" x2="1269.3" y1="0" y2="0"><stop offset="0" stop-color="#fde725"/><stop offset="0.8487" stop-color="#fde725"/><stop offset="0.8592" stop-color="#7ad151"/><stop offset="0.8697" stop-color="#fde725"/><stop offset="0.9885" stop-color="#fde725"/><stop offset="1" stop-color="#7ad151"/></linearGradient>
<linearGradient id="g81" gradientUnits="userSpaceOnUse" x1="1269.3" x2="1555.5" y1="0" y2="0"><stop offset="0" stop-color="#414487"/><stop offset="0.0115" stop-color="#440154"/><stop offset="0.1303" stop-color="#440154"/><stop offset="0.1408" stop-color="#414487"/><stop offset="0.1513" stop-color="#440154"/><stop offset="1" stop-color="#440154"/></linearGradient>
<linearGradient id="g82" gradientUnits="userSpaceOnUse" x1="983.1" x2="1269.3" y1="0" y2="0"><stop offset="0" stop-color="#440154"/><stop offset="0.8487" stop-color="#440154"/><stop offset="0.8592" stop-color="#414487"/><stop offset="0.8697" stop-color="#440154"/><stop offset="0.9885" stop-color="#440154"/><stop offset="1" stop-color="#414487"/></linearGradient>
<linearGradient id="g83" gradientUnits="userSpaceOnUse" x1="1269.3" x2="1555.5" y1="0" y2="0"><stop offset="0" stop-color="#7ad151"/><stop offset="0.0115" stop-color="#fde725"/><stop offset="0.1303" stop-color="#fde725"/><stop offset="0.1408" stop-color="#7ad151"/><stop offset="0.1513" stop-color="#fde725"/><stop offset="1" stop-color="#fde725"/></linearGradient>
<linearGradient id="g84" gradientUnits="userSpaceOnUse" x1="983.1" x2="1269.3" y1="0" y2="0"><stop offset="0" stop-color="#fde725"/><stop offset="0.8487" stop-color="#fde725"/><stop offset="0.8592" stop-color="#7ad151"/><stop offset="0.8697" stop-color="#fde725"/><stop offset="0.9885" stop-color="#fde725"/><stop offset="1" stop-color="#7ad151"/></linearGradient>
<linearGradient id="g85" gradientUnits="userSpaceOnUse" x1="1269.3" x2="1555.5" y1="0" y2="0"><stop offset="0" stop-color="#414487"/><stop offset="0.0115" stop-color="#440154"/><stop offset="0.1303" stop-color="#440154"/><stop offset="0.1408" stop-color="#414487"/><stop offset="0.1513" stop-color="#440154"/><stop offset="1" stop-color="#440154"/></linearGradient>
<linearGradient id="g86" gradientUnits="userSpaceOnUse" x1="983.1" x2="1269.3" y1="0" y2="0"><stop offset="0" stop-color="#fde725"/><stop offset="0.391" stop-color="#fde725"/><stop offset="0.4259" stop-color="#cae11f"/><stop offset="0.4609" stop-color="#5ec962"/><stop offset="0.4958" stop-color="#22a884"/><stop offset="0.5482" stop-color="#21918c"/><stop offset="0.653" stop-color="#25848e"/><stop offset="0.7998" stop-color="#2c738e"/><stop offset="0.9151" stop-color="#2a788e"/><stop offset="1" stop-color="#21918c"/></linearGradient>
<linearGradient id="g87" gradientUnits="userSpaceOnUse" x1="1269.3" x2="1555.5" y1="0" y2="0"><stop offset="0" stop-color="#21918c"/><stop offset="0.0849" stop-color="#22a884"/><stop offset="0.2002" stop-color="#26ad81"/><stop offset="0.347" stop-color="#1e9c89"/><stop offset="0.4518" stop-color="#21918c"/><stop offset="0.5042" stop-color="#2a788e"/><stop offset="0.5391" stop-color="#3b528b"/><stop offset="0.5741" stop-color="#481d6f"/><stop offset="0.609" stop-color="#440154"/><stop offset="1" stop-color="#440154"/></linearGradient>
<linearGradient id="g88" gradientUnits="userSpaceOnUse" x1="983.1" x2="1269.3" y1="0" y2="0"><stop offset="0" stop-color="#440154"/><stop offset="0.391" stop-color="#440154"/><stop offset="0.4259" stop-color="#481d6f"/><stop offset="0.4609" stop-color="#3b528b"/><stop offset="0.4958" stop-color="#2a788e"/><stop offset="0.5482" stop-color="#21918c"/><stop offset="0.653" stop-color="#1e9c89"/><stop offset="0.7998" stop-color="#26ad81"/><stop offset="0.9151" stop-color="#22a884"/><stop offset="1" stop-color="#21918c"/></linearGradient>
<linearGradient id="g89" gradientUnits="userSpaceOnUse" x1="1269.3" x2="1555.5" y1="0" y2="0"><stop offset="0" stop-color="#21918c"/><stop offset="0.0849" stop-color="#2a788e"/><stop offset="0.2002" stop-color="#2c738e"/><stop offset="0.347" stop-color="#25848e"/><stop offset="0.4518" stop-color="#21918c"/><stop offset="0.5042" stop-color="#22a884"/><stop offset="0.5391" stop-color="#5ec962"/><stop offset="0.5741" stop-color="#cae11f"/><stop offset="0.609" stop-color="#fde725"/><stop offset="1" stop-color="#fde725"/></linearGradient>
<linearGradient id="g90" gradientUnits="userSpaceOnUse" x1="983.1" x2="1269.3" y1="0" y2="0"><stop offset="0" stop-color="#fde725"/><stop offset="0.391" stop-color="#fde725"/><stop offset="0.4259" stop-color="#cae11f"/><stop offset="0.4609" stop-color="#5ec962"/><stop offset="0.4958" stop-color="#22a884"/><stop offset="0.5482" stop-color="#21918c"/><stop offset="0.653" stop-color="#25848e"/><stop offset="0.7998" stop-color="#2c738e"/><stop offset="0.9151" stop-color="#2a788e"/><stop offset="1" stop-color="#21918c"/></linearGradient>
<linearGradient id="g91" gradientUnits="userSpaceOnUse" x1="1269.3" x2="1555.5" y1="0" y2="0"><stop offset="0" stop-color="#21918c"/><stop offset="0.0849" stop-color="#22a884"/><stop offset="0.2002" stop-color="#26ad81"/><stop offset="0.347" stop-color="#1e9c89"/><stop offset="0.4518" stop-color="#21918c"/><stop offset="0.5042" stop-color="#2a788e"/><stop offset="0.5391" stop-color="#3b528b"/><stop offset="0.5741" stop-color="#481d6f"/><stop offset="0.609" stop-color="#440154"/><stop offset="1" stop-color="#440154"/></linearGradient>
<linearGradient id="g92" gradientUnits="userSpaceOnUse" x1="983.1" x2="1269.3" y1="0" y2="0"><stop offset="0" stop-color="#440154"/><stop offset="0.391" stop-color="#440154"/><stop offset="0.4259" stop-color="#481d6f"/><stop offset="0.4609" stop-color="#3b528b"/><stop offset="0.4958" stop-color="#2a788e"/><stop offset="0.5482" stop-color="#21918c"/><stop offset="0.653" stop-color="#1e9c89"/><stop offset="0.7998" stop-color="#26ad81"/><stop offset="0.9151" stop-color="#22a884"/><stop offset="1" stop-color="#21918c"/></linearGradient>
<linearGradient id="g93" gradientUnits="userSpaceOnUse" x1="1269.3" x2="1555.5" y1="0" y2="0"><stop offset="0" stop-color="#21918c"/><stop offset="0.0849" stop-color="#2a788e"/><stop offset="0.2002" stop-color="#2c738e"/><stop offset="0.347" stop-color="#25848e"/><stop offset="0.4518" stop-color="#21918c"/><stop offset="0.5042" stop-color="#22a884"/><stop offset="0.5391" stop-color="#5ec962"/><stop offset="0.5741" stop-color="#cae11f"/><stop offset="0.609" stop-color="#fde725"/><stop offset="1" stop-color="#fde725"/></linearGradient>
<linearGradient id="g94" gradientUnits="userSpaceOnUse" x1="983.1" x2="1269.3" y1="0" y2="0"><stop offset="0" stop-color="#440154"/><stop offset="0.4085" stop-color="#440154"/><stop offset="0.4958" stop-color="#471365"/><stop offset="0.5657" stop-color="#482475"/><stop offset="0.6705" stop-color="#3b528b"/><stop offset="0.8976" stop-color="#355f8d"/><stop offset="0.9605" stop-color="#287d8e"/><stop offset="1" stop-color="#21918c"/></linearGradient>
<linearGradient id="g95" gradientUnits="userSpaceOnUse" x1="1269.3" x2="1555.5" y1="0" y2="0"><stop offset="0" stop-color="#21918c"/><stop offset="0.0395" stop-color="#20a386"/><stop offset="0.1024" stop-color="#44bf70"/><stop offset="0.3295" stop-color="#5ec962"/><stop offset="0.4343" stop-color="#bddf26"/><stop offset="0.5042" stop-color="#dfe318"/><stop offset="0.5915" stop-color="#fde725"/><stop offset="1" stop-color="#fde725"/></linearGradient>
<linearGradient id="g96" gradientUnits="userSpaceOnUse" x1="983.1" x2="1269.3" y1="0" y2="0"><stop offset="0" stop-color="#fde725"/><stop offset="0.4085" stop-color="#fde725"/><stop offset="0.4958" stop-color="#dfe318"/><stop offset="0.5657" stop-color="#bddf26"/><stop offset="0.6705" stop-color="#5ec962"/><stop offset="0.8976" stop-color="#44bf70"/><stop offset="0.9605" stop-color="#20a386"/><stop offset="1" stop-color="#21918c"/></linearGradient>
<linearGradient id="g97" gradientUnits="userSpaceOnUse" x1="1269.3" x2="1555.5" y1="0" y2="0"><stop offset="0" stop-color="#21918c"/><stop offset="0.0395" stop-color="#287d8e"/><stop offset="0.1024" stop-color="#355f8d"/><stop offset="0.3295" stop-color="#3b528b"/><stop offset="0.4343" stop-color="#482475"/><stop offset="0.5042" stop-color="#471365"/><stop offset="0.5915" stop-color="#440154"/><stop offset="1" stop-color="#440154"/></linearGradient>
<linearGradient id="g98" gradientUnits="userSpaceOnUse" x1="983.1" x2="1269.3" y1="0" y2="0"><stop offset="0" stop-color="#440154"/><stop offset="0.4085" stop-color="#440154"/><stop offset="0.4958" stop-color="#471365"/><stop offset="0.5657" stop-color="#482475"/><stop offset="0.6705" stop-color="#3b528b"/><stop offset="0.8976" stop-color="#355f8d"/><stop offset="0.9605" stop-color="#287d8e"/><stop offset="1" stop-color="#21918c"/></linearGradient>
<linearGradient id="g99" gradientUnits="userSpaceOnUse" x1="1269.3" x2="1555.5" y1="0" y2="0"><stop offset="0" stop-color="#21918c"/><stop offset="0.0395" stop-color="#20a386"/><stop offset="0.1024" stop-color="#44bf70"/><stop offset="0.3295" stop-color="#5ec962"/><stop offset="0.4343" stop-color="#bddf26"/><stop offset="0.5042" stop-color="#dfe318"/><stop offset="0.5915" stop-color="#fde725"/><stop offset="1" stop-color="#fde725"/></linearGradient>
<linearGradient id="g100" gradientUnits="userSpaceOnUse" x1="983.1" x2="1269.3" y1="0" y2="0"><stop offset="0" stop-color="#fde725"/><stop offset="0.4085" stop-color="#fde725"/><stop offset="0.4958" stop-color="#dfe318"/><stop offset="0.5657" stop-color="#bddf26"/><stop offset="0.6705" stop-color="#5ec962"/><stop offset="0.8976" stop-color="#44bf70"/><stop offset="0.9605" stop-color="#20a386"/><stop offset="1" stop-color="#21918c"/></linearGradient>
<linearGradient id="g101" gradientUnits="userSpaceOnUse" x1="1269.3" x2="1555.5" y1="0" y2="0"><stop offset="0" stop-color="#21918c"/><stop offset="0.0395" stop-color="#287d8e"/><stop offset="0.1024" stop-color="#355f8d"/><stop offset="0.3295" stop-color="#3b528b"/><stop offset="0.4343" stop-color="#482475"/><stop offset="0.5042" stop-color="#471365"/><stop offset="0.5915" stop-color="#440154"/><stop offset="1" stop-color="#440154"/></linearGradient>
<linearGradient id="g102" gradientUnits="userSpaceOnUse" x1="983.1" x2="1269.3" y1="0" y2="0"><stop offset="0" stop-color="#cae11f"/><stop offset="0.391" stop-color="#cae11f"/><stop offset="0.4119" stop-color="#7ad151"/><stop offset="0.4224" stop-color="#1e9c89"/><stop offset="0.4364" stop-color="#6ece58"/><stop offset="0.4783" stop-color="#5ec962"/><stop offset="0.5133" stop-color="#2fb47c"/><stop offset="0.5412" stop-color="#1e9c89"/><stop offset="0.5832" stop-color="#25848e"/><stop offset="0.6356" stop-color="#2f6c8e"/><stop offset="0.7579" stop-color="#355f8d"/><stop offset="0.8976" stop-color="#2a788e"/><stop offset="1" stop-color="#21918c"/></linearGradient>
<linearGradient id="g103" gradientUnits="userSpaceOnUse" x1="1269.3" x2="1555.5" y1="0" y2="0"><stop offset="0" stop-color="#21918c"/><stop offset="0.1024" stop-color="#22a884"/><stop offset="0.2421" stop-color="#44bf70"/><stop offset="0.3644" stop-color="#2fb47c"/><stop offset="0.4168" stop-color="#1e9c89"/><stop offset="0.4588" stop-color="#25848e"/><stop offset="0.4867" stop-color="#2f6c8e"/><stop offset="0.5217" stop-color="#3b528b"/><stop offset="0.5636" stop-color="#3e4989"/><stop offset="0.5776" stop-color="#25848e"/><stop offset="0.5881" stop-color="#414487"/><stop offset="0.609" stop-color="#481d6f"/><stop offset="1" stop-color="#481d6f"/></linearGradient>
<linearGradient id="g104" gradientUnits="userSpaceOnUse" x1="983.1" x2="1269.3" y1="0" y2="0"><stop offset="0" stop-color="#481d6f"/><stop offset="0.391" stop-color="#481d6f"/><stop offset="0.4119" stop-color="#414487"/><stop offset="0.4224" stop-color="#25848e"/><stop offset="0.4364" stop-color="#3e4989"/><stop offset="0.4783" stop-color="#3b528b"/><stop offset="0.5133" stop-color="#2f6c8e"/><stop offset="0.5412" stop-color="#25848e"/><stop offset="0.5832" stop-color="#1e9c89"/><stop offset="0.6356" stop-color="#2fb47c"/><stop offset="0.7579" stop-color="#44bf70"/><stop offset="0.8976" stop-color="#22a884"/><stop offset="1" stop-color="#21918c"/></linearGradient>
<linearGradient id="g105" gradientUnits="userSpaceOnUse" x1="1269.3" x2="1555.5" y1="0" y2="0"><stop offset="0" stop-color="#21918c"/><stop offset="0.1024" stop-color="#2a788e"/><stop offset="0.2421" stop-color="#355f8d"/><stop offset="0.3644" stop-color="#2f6c8e"/><stop offset="0.4168" stop-color="#25848e"/><stop offset="0.4588" stop-color="#1e9c89"/><stop offset="0.4867" stop-color="#2fb47c"/><stop offset="0.5217" stop-color="#5ec962"/><stop offset="0.5636" stop-color="#6ece58"/><stop offset="0.5776" stop-color="#1e9c89"/><stop offset="0.5881" stop-color="#7ad151"/><stop offset="0.609" stop-color="#cae11f"/><stop offset="1" stop-color="#cae11f"/></linearGradient>
<linearGradient id="g106" gradientUnits="userSpaceOnUse" x1="983.1" x2="1269.3" y1="0" y2="0"><stop offset="0" stop-color="#cae11f"/><stop offset="0.391" stop-color="#cae11f"/><stop offset="0.4119" stop-color="#7ad151"/><stop offset="0.4224" stop-color="#1e9c89"/><stop offset="0.4364" stop-color="#6ece58"/><stop offset="0.4783" stop-color="#5ec962"/><stop offset="0.5133" stop-color="#2fb47c"/><stop offset="0.5412" stop-color="#1e9c89"/><stop offset="0.5832" stop-color="#25848e"/><stop offset="0.6356" stop-color="#2f6c8e"/><stop offset="0.7579" stop-color="#355f8d"/><stop offset="0.8976" stop-color="#2a788e"/><stop offset="1" stop-color="#21918c"/></linearGradient>
<linearGradient id="g107" gradientUnits="userSpaceOnUse" x1="1269.3" x2="1555.5" y1="0" y2="0"><stop offset="0" stop-color="#21918c"/><stop offset="0.1024" stop-color="#22a884"/><stop offset="0.2421" stop-color="#44bf70"/><stop offset="0.3644" stop-color="#2fb47c"/><stop offset="0.4168" stop-color="#1e9c89"/><stop offset="0.4588" stop-color="#25848e"/><stop offset="0.4867" stop-color="#2f6c8e"/><stop offset="0.5217" stop-color="#3b528b"/><stop offset="0.5636" stop-color="#3e4989"/><stop offset="0.5776" stop-color="#25848e"/><stop offset="0.5881" stop-color="#414487"/><stop offset="0.609" stop-color="#481d6f"/><stop offset="1" stop-color="#481d6f"/></linearGradient>
<linearGradient id="g108" gradientUnits="userSpaceOnUse" x1="983.1" x2="1269.3" y1="0" y2="0"><stop offset="0" stop-color="#481d6f"/><stop offset="0.391" stop-color="#481d6f"/><stop offset="0.4119" stop-color="#414487"/><stop offset="0.4224" stop-color="#25848e"/><stop offset="0.4364" stop-color="#3e4989"/><stop offset="0.4783" stop-color="#3b528b"/><stop offset="0.5133" stop-color="#2f6c8e"/><stop offset="0.5412" stop-color="#25848e"/><stop offset="0.5832" stop-color="#1e9c89"/><stop offset="0.6356" stop-color="#2fb47c"/><stop offset="0.7579" stop-color="#44bf70"/><stop offset="0.8976" stop-color="#22a884"/><stop offset="1" stop-color="#21918c"/></linearGradient>
<linearGradient id="g109" gradientUnits="userSpaceOnUse" x1="1269.3" x2="1555.5" y1="0" y2="0"><stop offset="0" stop-color="#21918c"/><stop offset="0.1024" stop-color="#2a788e"/><stop offset="0.2421" stop-color="#355f8d"/><stop offset="0.3644" stop-color="#2f6c8e"/><stop offset="0.4168" stop-color="#25848e"/><stop offset="0.4588" stop-color="#1e9c89"/><stop offset="0.4867" stop-color="#2fb47c"/><stop offset="0.5217" stop-color="#5ec962"/><stop offset="0.5636" stop-color="#6ece58"/><stop offset="0.5776" stop-color="#1e9c89"/><stop offset="0.5881" stop-color="#7ad151"/><stop offset="0.609" stop-color="#cae11f"/><stop offset="1" stop-color="#cae11f"/></linearGradient>
<linearGradient id="g110" gradientUnits="userSpaceOnUse" x1="983.1" x2="1269.3" y1="0" y2="0"><stop offset="0" stop-color="#cae11f"/><stop offset="0.3211" stop-color="#cae11f"/><stop offset="0.3456" stop-color="#44bf70"/><stop offset="0.3665" stop-color="#cae11f"/><stop offset="0.4783" stop-color="#bddf26"/><stop offset="0.5133" stop-color="#7ad151"/><stop offset="0.5482" stop-color="#2fb47c"/><stop offset="0.5832" stop-color="#1f978b"/><stop offset="0.653" stop-color="#2a788e"/><stop offset="0.7998" stop-color="#31678e"/><stop offset="0.8906" stop-color="#31678e"/><stop offset="0.9605" stop-color="#287d8e"/><stop offset="1" stop-color="#21918c"/></linearGradient>
<linearGradient id="g111" gradientUnits="userSpaceOnUse" x1="1269.3" x2="1555.5" y1="0" y2="0"><stop offset="0" stop-color="#21918c"/><stop offset="0.0395" stop-color="#20a386"/><stop offset="0.1094" stop-color="#37b878"/><stop offset="0.2002" stop-color="#37b878"/><stop offset="0.347" stop-color="#22a884"/><stop offset="0.4168" stop-color="#23898e"/><stop offset="0.4518" stop-color="#2f6c8e"/><stop offset="0.4867" stop-color="#414487"/><stop offset="0.5217" stop-color="#482475"/><stop offset="0.6335" stop-color="#481d6f"/><stop offset="0.6544" stop-color="#355f8d"/><stop offset="0.6789" stop-color="#481d6f"/><stop offset="1" stop-color="#481d6f"/></linearGradient>
<linearGradient id="g112" gradientUnits="userSpaceOnUse" x1="983.1" x2="1269.3" y1="0" y2="0"><stop offset="0" stop-color="#481d6f"/><stop offset="0.3211" stop-color="#481d6f"/><stop offset="0.3456" stop-color="#355f8d"/><stop offset="0.3665" stop-color="#481d6f"/><stop offset="0.4783" stop-color="#482475"/><stop offset="0.5133" stop-color="#414487"/><stop offset="0.5482" stop-color="#2f6c8e"/><stop offset="0.5832" stop-color="#23898e"/><stop offset="0.653" stop-color="#22a884"/><stop offset="0.7998" stop-color="#37b878"/><stop offset="0.8906" stop-color="#37b878"/><stop offset="0.9605" stop-color="#20a386"/><stop offset="1" stop-color="#21918c"/></linearGradient>
<linearGradient id="g113" gradientUnits="userSpaceOnUse" x1="1269.3" x2="1555.5" y1="0" y2="0"><stop offset="0" stop-color="#21918c"/><stop offset="0.0395" stop-color="#287d8e"/><stop offset="0.1094" stop-color="#31678e"/><stop offset="0.2002" stop-color="#31678e"/><stop offset="0.347" stop-color="#2a788e"/><stop offset="0.4168" stop-color="#1f978b"/><stop offset="0.4518" stop-color="#2fb47c"/><stop offset="0.4867" stop-color="#7ad151"/><stop offset="0.5217" stop-color="#bddf26"/><stop offset="0.6335" stop-color="#cae11f"/><stop offset="0.6544" stop-color="#44bf70"/><stop offset="0.6789" stop-color="#cae11f"/><stop offset="1" stop-color="#cae11f"/></linearGradient>
<linearGradient id="g114" gradientUnits="userSpaceOnUse" x1="983.1" x2="1269.3" y1="0" y2="0"><stop offset="0" stop-color="#cae11f"/><stop offset="0.3211" stop-color="#cae11f"/><stop offset="0.3456" stop-color="#44bf70"/><stop offset="0.3665" stop-color="#cae11f"/><stop offset="0.4783" stop-color="#bddf26"/><stop offset="0.5133" stop-color="#7ad151"/><stop offset="0.5482" stop-color="#2fb47c"/><stop offset="0.5832" stop-color="#1f978b"/><stop offset="0.653" stop-color="#2a788e"/><stop offset="0.7998" stop-color="#31678e"/><stop offset="0.8906" stop-color="#31678e"/><stop offset="0.9605" stop-color="#287d8e"/><stop offset="1" stop-color="#21918c"/></linearGradient>
<linearGradient id="g115" gradientUnits="userSpaceOnUse" x1="1269.3" x2="1555.5" y1="0" y2="0"><stop offset="0" stop-color="#21918c"/><stop offset="0.0395" stop-color="#20a386"/><stop offset="0.1094" stop-color="#37b878"/><stop offset="0.2002" stop-color="#37b878"/><stop offset="0.347" stop-color="#22a884"/><stop offset="0.4168" stop-color="#23898e"/><stop offset="0.4518" stop-color="#2f6c8e"/><stop offset="0.4867" stop-color="#414487"/><stop offset="0.5217" stop-color="#482475"/><stop offset="0.6335" stop-color="#481d6f"/><stop offset="0.6544" stop-color="#355f8d"/><stop offset="0.6789" stop-color="#481d6f"/><stop offset="1" stop-color="#481d6f"/></linearGradient>
<linearGradient id="g116" gradientUnits="userSpaceOnUse" x1="983.1" x2="1269.3" y1="0" y2="0"><stop offset="0" stop-color="#481d6f"/><stop offset="0.3211" stop-color="#481d6f"/><stop offset="0.3456" stop-color="#355f8d"/><stop offset="0.3665" stop-color="#481d6f"/><stop offset="0.4783" stop-color="#482475"/><stop offset="0.5133" stop-color="#414487"/><stop offset="0.5482" stop-color="#2f6c8e"/><stop offset="0.5832" stop-color="#23898e"/><stop offset="0.653" stop-color="#22a884"/><stop offset="0.7998" stop-color="#37b878"/><stop offset="0.8906" stop-color="#37b878"/><stop offset="0.9605" stop-color="#20a386"/><stop offset="1" stop-color="#21918c"/></linearGradient>
<linearGradient id="g117" gradientUnits="userSpaceOnUse" x1="1269.3" x2="1555.5" y1="0" y2="0"><stop offset="0" stop-color="#21918c"/><stop offset="0.0395" stop-color="#287d8e"/><stop offset="0.1094" stop-color="#31678e"/><stop offset="0.2002" stop-color="#31678e"/><stop offset="0.347" stop-color="#2a788e"/><stop offset="0.4168" stop-color="#1f978b"/><stop offset="0.4518" stop-color="#2fb47c"/><stop offset="0.4867" stop-color="#7ad151"/><stop offset="0.5217" stop-color="#bddf26"/><stop offset="0.6335" stop-color="#cae11f"/><stop offset="0.6544" stop-color="#44bf70"/><stop offset="0.6789" stop-color="#cae11f"/><stop offset="1" stop-color="#cae11f"/></linearGradient>
<linearGradient id="g118" gradientUnits="userSpaceOnUse" x1="983.1" x2="1269.3" y1="0" y2="0"><stop offset="0" stop-color="#fde725"/><stop offset="0.8767" stop-color="#fde725"/><stop offset="0.8871" stop-color="#7ad151"/><stop offset="0.8976" stop-color="#fde725"/><stop offset="0.9885" stop-color="#fde725"/><stop offset="1" stop-color="#7ad151"/></linearGradient>
<linearGradient id="g119" gradientUnits="userSpaceOnUse" x1="1269.3" x2="1555.5" y1="0" y2="0"><stop offset="0" stop-color="#414487"/><stop offset="0.0115" stop-color="#440154"/><stop offset="0.1024" stop-color="#440154"/><stop offset="0.1129" stop-color="#414487"/><stop offset="0.1233" stop-color="#440154"/><stop offset="1" stop-color="#440154"/></linearGradient>
<linearGradient id="g120" gradientUnits="userSpaceOnUse" x1="983.1" x2="1269.3" y1="0" y2="0"><stop offset="0" stop-color="#440154"/><stop offset="0.8767" stop-color="#440154"/><stop offset="0.8871" stop-color="#414487"/><stop offset="0.8976" stop-color="#440154"/><stop offset="0.9885" stop-color="#440154"/><stop offset="1" stop-color="#414487"/></linearGradient>
<linearGradient id="g121" gradientUnits="userSpaceOnUse" x1="1269.3" x2="1555.5" y1="0" y2="0"><stop offset="0" stop-color="#7ad151"/><stop offset="0.0115" stop-color="#fde725"/><stop offset="0.1024" stop-color="#fde725"/><stop offset="0.1129" stop-color="#7ad151"/><stop offset="0.1233" stop-color="#fde725"/><stop offset="1" stop-color="#fde725"/></linearGradient>
<linearGradient id="g122" gradientUnits="userSpaceOnUse" x1="983.1" x2="1269.3" y1="0" y2="0"><stop offset="0" stop-color="#fde725"/><stop offset="0.8767" stop-color="#fde725"/><stop offset="0.8871" stop-color="#7ad151"/><stop offset="0.8976" stop-color="#fde725"/><stop offset="0.9885" stop-color="#fde725"/><stop offset="1" stop-color="#7ad151"/></linearGradient>
<linearGradient id="g123" gradientUnits="userSpaceOnUse" x1="1269.3" x2="1555.5" y1="0" y2="0"><stop offset="0" stop-color="#414487"/><stop offset="0.0115" stop-color="#440154"/><stop offset="0.1024" stop-color="#440154"/><stop offset="0.1129" stop-color="#414487"/><stop offset="0.1233" stop-color="#440154"/><stop offset="1" stop-color="#440154"/></linearGradient>
<linearGradient id="g124" gradientUnits="userSpaceOnUse" x1="983.1" x2="1269.3" y1="0" y2="0"><stop offset="0" stop-color="#440154"/><stop offset="0.8767" stop-color="#440154"/><stop offset="0.8871" stop-color="#414487"/><stop offset="0.8976" stop-color="#440154"/><stop offset="0.9885" stop-color="#440154"/><stop offset="1" stop-color="#414487"/></linearGradient>
<linearGradient id="g125" gradientUnits="userSpaceOnUse" x1="1269.3" x2="1555.5" y1="0" y2="0"><stop offset="0" stop-color="#7ad151"/><stop offset="0.0115" stop-color="#fde725"/><stop offset="0.1024" stop-color="#fde725"/><stop offset="0.1129" stop-color="#7ad151"/><stop offset="0.1233" stop-color="#fde725"/><stop offset="1" stop-color="#fde725"/></linearGradient>
<linearGradient id="g126" gradientUnits="userSpaceOnUse" x1="983.1" x2="1269.3" y1="0" y2="0"><stop offset="0" stop-color="#440154"/><stop offset="0.8767" stop-color="#440154"/><stop offset="0.8871" stop-color="#414487"/><stop offset="0.8976" stop-color="#440154"/><stop offset="0.9885" stop-color="#440154"/><stop offset="1" stop-color="#414487"/></linearGradient>
<linearGradient id="g127" gradientUnits="userSpaceOnUse" x1="1269.3" x2="1555.5" y1="0" y2="0"><stop offset="0" stop-color="#7ad151"/><stop offset="0.0115" stop-color="#fde725"/><stop offset="0.1024" stop-color="#fde725"/><stop offset="0.1129" stop-color="#7ad151"/><stop offset="0.1233" stop-color="#fde725"/><stop offset="1" stop-color="#fde725"/></linearGradient>
<linearGradient id="g128" gradientUnits="userSpaceOnUse" x1="983.1" x2="1269.3" y1="0" y2="0"><stop offset="0" stop-color="#fde725"/><stop offset="0.8767" stop-color="#fde725"/><stop offset="0.8871" stop-color="#7ad151"/><stop offset="0.8976" stop-color="#fde725"/><stop offset="0.9885" stop-color="#fde725"/><stop offset="1" stop-color="#7ad151"/></linearGradient>
<linearGradient id="g129" gradientUnits="userSpaceOnUse" x1="1269.3" x2="1555.5" y1="0" y2="0"><stop offset="0" stop-color="#414487"/><stop offset="0.0115" stop-color="#440154"/><stop offset="0.1024" stop-color="#440154"/><stop offset="0.1129" stop-color="#414487"/><stop offset="0.1233" stop-color="#440154"/><stop offset="1" stop-color="#440154"/></linearGradient>
<linearGradient id="g130" gradientUnits="userSpaceOnUse" x1="983.1" x2="1269.3" y1="0" y2="0"><stop offset="0" stop-color="#440154"/><stop offset="0.8767" stop-color="#440154"/><stop offset="0.8871" stop-color="#414487"/><stop offset="0.8976" stop-color="#440154"/><stop offset="0.9885" stop-color="#440154"/><stop offset="1" stop-color="#414487"/></linearGradient>
<linearGradient id="g131" gradientUnits="userSpaceOnUse" x1="1269.3" x2="1555.5" y1="0" y2="0"><stop offset="0" stop-color="#7ad151"/><stop offset="0.0115" stop-color="#fde725"/><stop offset="0.1024" stop-color="#fde725"/><stop offset="0.1129" stop-color="#7ad151"/><stop offset="0.1233" stop-color="#fde725"/><stop offset="1" stop-color="#fde725"/></linearGradient>
<linearGradient id="g132" gradientUnits="userSpaceOnUse" x1="983.1" x2="1269.3" y1="0" y2="0"><stop offset="0" stop-color="#fde725"/><stop offset="0.8767" stop-color="#fde725"/><stop offset="0.8871" stop-color="#7ad151"/><stop offset="0.8976" stop-color="#fde725"/><stop offset="0.9885" stop-color="#fde725"/><stop offset="1" stop-color="#7ad151"/></linearGradient>
<linearGradient id="g133" gradientUnits="userSpaceOnUse" x1="1269.3" x2="1555.5" y1="0" y2="0"><stop offset="0" stop-color="#414487"/><stop offset="0.0115" stop-color="#440154"/><stop offset="0.1024" stop-color="#440154"/><stop offset="0.1129" stop-color="#414487"/><stop offset="0.1233" stop-color="#440154"/><stop offset="1" stop-color="#440154"/></linearGradient>
<path d="M1269.3 9.3L1555.5 9.3" stroke="url(#g47)" stroke-width="6.6"/>
<path d="M983.1 271.7L1269.3 271.7" stroke="url(#g48)" stroke-width="6.6"/>
<path d="M1269.3 271L1555.5 271" stroke="url(#g51)" stroke-width="6.6"/>
<path d="M983.1 533.4L1269.3 533.4" stroke="url(#g52)" stroke-width="6.6"/>
<path d="M1269.3 16.4L1309.4 16.9" stroke="url(#g71)" stroke-width="6.6"/>
<path d="M1309.4 16.9L1340.8 17" stroke="url(#g71)" stroke-width="6.6"/>
<path d="M1366.6 17.8L1395.2 19.4L1455.3 20.4L1461.1 20.7L1463.9 21.1" stroke="url(#g71)" stroke-width="6.6"/>
<path d="M1469.6 21.9L1475.4 22.7L1486.8 23.2L1555.5 24.4" stroke="url(#g71)" stroke-width="6.6"/>
<path d="M983.1 256.6L1051.8 257.8L1063.2 258.3L1069 259.1" stroke="url(#g72)" stroke-width="6.6"/>
<path d="M1074.7 259.9L1077.5 260.3L1083.3 260.6L1143.4 261.6L1172 263.2" stroke="url(#g72)" stroke-width="6.6"/>
<path d="M1197.8 264L1229.2 264.1" stroke="url(#g72)" stroke-width="6.6"/>
<path d="M1229.2 264.1L1269.3 264.6" stroke="url(#g72)" stroke-width="6.6"/>
<path d="M1269.3 278.1L1309.4 278.6" stroke="url(#g75)" stroke-width="6.6"/>
<path d="M1309.4 278.6L1340.8 278.7" stroke="url(#g75)" stroke-width="6.6"/>
<path d="M1366.6 279.5L1395.2 281.1L1455.3 282.1L1461.1 282.4L1463.9 282.8" stroke="url(#g75)" stroke-width="6.6"/>
<path d="M1469.6 283.6L1475.4 284.4L1486.8 284.9L1555.5 286.1" stroke="url(#g75)" stroke-width="6.6"/>
<path d="M983.1 518.3L1051.8 519.5L1063.2 520L1069 520.8" stroke="url(#g76)" stroke-width="6.6"/>
<path d="M1074.7 521.6L1077.5 522L1083.3 522.3L1143.4 523.3L1172 524.9" stroke="url(#g76)" stroke-width="6.6"/>
<path d="M1197.8 525.7L1229.2 525.8" stroke="url(#g76)" stroke-width="6.6"/>
<path d="M1229.2 525.8L1269.3 526.3" stroke="url(#g76)" stroke-width="6.6"/>
<path d="M983.1 24.5L1060.4 25.1L1066.1 24.8L1083.3 23L1123.3 21.4L1166.3 19.1L1197.8 18.3L1229.2 17.8" stroke="url(#g78)" stroke-width="6.6"/>
<path d="M1229.2 17.8L1269.3 17.6" stroke="url(#g78)" stroke-width="6.6"/>
<path d="M1269.3 263.4L1309.4 263.2" stroke="url(#g81)" stroke-width="6.6"/>
<path d="M1309.4 263.2L1340.8 262.7L1372.3 261.9L1415.3 259.6L1455.3 258L1472.5 256.2L1478.2 255.9L1555.5 256.5" stroke="url(#g81)" stroke-width="6.6"/>
<path d="M983.1 286.2L1060.4 286.8L1066.1 286.5L1083.3 284.7L1123.3 283.1L1166.3 280.8L1197.8 280L1229.2 279.5" stroke="url(#g82)" stroke-width="6.6"/>
<path d="M1229.2 279.5L1269.3 279.3" stroke="url(#g82)" stroke-width="6.6"/>
<path d="M1269.3 525.1L1309.4 524.9" stroke="url(#g85)" stroke-width="6.6"/>
<path d="M1309.4 524.9L1340.8 524.4L1372.3 523.6L1415.3 521.3L1455.3 519.7L1472.5 517.9L1478.2 517.6L1555.5 518.2" stroke="url(#g85)" stroke-width="6.6"/>
<path d="M1429.6 68.2L1435.3 68L1443.9 68.4L1498.3 71.8L1526.9 74.1L1541.2 74.7L1555.5 75" stroke="url(#g87)" stroke-width="6.6"/>
<path d="M983.1 206L997.4 206.3L1011.7 206.9L1040.3 209.2L1094.7 212.6L1103.3 213L1109 212.8" stroke="url(#g88)" stroke-width="6.6"/>
<path d="M1429.6 329.9L1435.3 329.7L1443.9 330.1L1498.3 333.5L1526.9 335.8L1541.2 336.4L1555.5 336.7" stroke="url(#g91)" stroke-width="6.6"/>
<path d="M983.1 467.7L997.4 468L1011.7 468.6L1040.3 470.9L1094.7 474.3L1103.3 474.7L1109 474.5" stroke="url(#g92)" stroke-width="6.6"/>
<path d="M983.1 75.1L1017.4 75.4L1051.8 75.1L1091.9 73.5L1152 70.5" stroke="url(#g94)" stroke-width="6.6"/>
<path d="M1386.6 210.5L1446.7 207.5L1486.8 205.9L1521.2 205.6L1555.5 205.9" stroke="url(#g97)" stroke-width="6.6"/>
<path d="M983.1 336.8L1017.4 337.1L1051.8 336.8L1091.9 335.2L1152 332.2" stroke="url(#g98)" stroke-width="6.6"/>
<path d="M1386.6 472.2L1446.7 469.2L1486.8 467.6L1521.2 467.3L1555.5 467.6" stroke="url(#g101)" stroke-width="6.6"/>
<path d="M1441 88.2h0M1443.9 91.8h0M1446.7 95.2h0M1449.6 98.6h0M1452.5 101.9h0M1455.3 104.9h0M1458.2 107.8h0M1461.1 110.4h0M1463.9 112.7h0M1466.8 114.7h0M1469.6 116.5h0M1472.5 117.9L1478.2 120.4L1481.1 121.1L1492.5 123.2L1498.3 123.5L1506.8 122.9L1555.5 117.6" stroke="url(#g103)" stroke-width="6.6"/>
<path d="M983.1 163.4L1031.8 158.1L1040.3 157.5L1046.1 157.8L1057.5 159.9L1060.4 160.6L1066.1 163.1M1069 164.5h0M1071.8 166.3h0M1074.7 168.3h0M1077.5 170.6h0M1080.4 173.2h0M1083.3 176.1h0M1086.1 179.1h0M1089 182.4h0M1091.9 185.8h0M1094.7 189.2h0M1097.6 192.8h0" stroke="url(#g104)" stroke-width="6.6"/>
<path d="M1441 349.9h0M1443.9 353.5h0M1446.7 356.9h0M1449.6 360.3h0M1452.5 363.6h0M1455.3 366.6h0M1458.2 369.5h0M1461.1 372.1h0M1463.9 374.4h0M1466.8 376.4h0M1469.6 378.2h0M1472.5 379.6L1478.2 382.1L1481.1 382.8L1492.5 384.9L1498.3 385.2L1506.8 384.6L1555.5 379.3" stroke="url(#g107)" stroke-width="6.6"/>
<path d="M983.1 425.1L1031.8 419.8L1040.3 419.2L1046.1 419.5L1057.5 421.6L1060.4 422.3L1066.1 424.8M1069 426.2h0M1071.8 428h0M1074.7 430h0M1077.5 432.3h0M1080.4 434.9h0M1083.3 437.8h0M1086.1 440.8h0M1089 444.1h0M1091.9 447.5h0M1094.7 450.9h0M1097.6 454.5h0" stroke="url(#g108)" stroke-width="6.6"/>
<path d="M1415.3 84.3h0M1418.1 86.2h0M1421 88.3h0M1423.8 90.8h0M1426.7 93.6h0M1429.6 96.8h0M1432.4 100.2h0M1435.3 103.8h0M1438.2 107.6h0M1441 111.7h0M1443.9 115.8h0M1446.7 120h0M1449.6 123.8h0M1452.5 127.3h0" stroke="url(#g111)" stroke-width="6.6"/>
<path d="M1461.1 138.4h0M1463.9 141.2h0M1466.8 143.2h0M1469.6 144.9h0M1472.5 146.5L1481.1 150.1L1492.5 154L1501.1 156.4L1515.4 159.7L1521.2 160.7L1535.5 162.1L1546.9 162.8L1555.5 163" stroke="url(#g111)" stroke-width="6.6"/>
<path d="M983.1 118L991.7 118.2L1003.1 118.9L1017.4 120.3L1023.2 121.3L1037.5 124.6L1046.1 127L1057.5 130.9L1066.1 134.5M1069 136.1h0M1071.8 137.8h0M1074.7 139.8h0M1077.5 142.6h0" stroke="url(#g112)" stroke-width="6.6"/>
<path d="M1086.1 153.7h0M1089 157.2h0M1091.9 161h0M1094.7 165.2h0M1097.6 169.3h0M1100.4 173.4h0M1103.3 177.2h0M1106.2 180.8h0M1109 184.2h0M1111.9 187.4h0M1114.8 190.2h0M1117.6 192.7h0M1120.5 194.8h0M1123.3 196.7h0" stroke="url(#g112)" stroke-width="6.6"/>
<path d="M1415.3 346h0M1418.1 347.9h0M1421 350h0M1423.8 352.5h0M1426.7 355.3h0M1429.6 358.5h0M1432.4 361.9h0M1435.3 365.5h0M1438.2 369.3h0M1441 373.4h0M1443.9 377.5h0M1446.7 381.7h0M1449.6 385.5h0M1452.5 389h0" stroke="url(#g115)" stroke-width="6.6"/>
<path d="M1461.1 400.1h0M1463.9 402.9h0M1466.8 404.9h0M1469.6 406.6h0M1472.5 408.2L1481.1 411.8L1492.5 415.7L1501.1 418.1L1515.4 421.4L1521.2 422.4L1535.5 423.8L1546.9 424.5L1555.5 424.7" stroke="url(#g115)" stroke-width="6.6"/>
<path d="M983.1 379.7L991.7 379.9L1003.1 380.6L1017.4 382L1023.2 383L1037.5 386.3L1046.1 388.7L1057.5 392.6L1066.1 396.2M1069 397.8h0M1071.8 399.5h0M1074.7 401.5h0M1077.5 404.3h0" stroke="url(#g116)" stroke-width="6.6"/>
<path d="M1086.1 415.4h0M1089 418.9h0M1091.9 422.7h0M1094.7 426.9h0M1097.6 431h0M1100.4 435.1h0M1103.3 438.9h0M1106.2 442.5h0M1109 445.9h0M1111.9 449.1h0M1114.8 451.9h0M1117.6 454.4h0M1120.5 456.5h0M1123.3 458.4h0" stroke="url(#g116)" stroke-width="6.6"/>
<path d="M1269.3 129.8L1300.8 130.1" stroke="url(#g119)" stroke-width="6.6"/>
<path d="M1300.8 130.1L1555.5 132.4" stroke="url(#g119)" stroke-width="6.6"/>
<path d="M983.1 148.6L1237.8 150.9" stroke="url(#g120)" stroke-width="6.6"/>
<path d="M1237.8 150.9L1269.3 151.2" stroke="url(#g120)" stroke-width="6.6"/>
<path d="M1269.3 391.5L1300.8 391.8" stroke="url(#g123)" stroke-width="6.6"/>
<path d="M1300.8 391.8L1555.5 394.1" stroke="url(#g123)" stroke-width="6.6"/>
<path d="M983.1 410.3L1237.8 412.6" stroke="url(#g124)" stroke-width="6.6"/>
<path d="M1237.8 412.6L1269.3 412.9" stroke="url(#g124)" stroke-width="6.6"/>
<path d="M983.1 132.6L1026 133.2L1063.2 133.1L1237.8 131.1" stroke="url(#g126)" stroke-width="6.6"/>
<path d="M1237.8 131.1L1269.3 130.6" stroke="url(#g126)" stroke-width="6.6"/>
<path d="M1269.3 150.4L1300.8 149.9" stroke="url(#g129)" stroke-width="6.6"/>
<path d="M1300.8 149.9L1475.4 147.9L1512.6 147.8L1555.5 148.4" stroke="url(#g129)" stroke-width="6.6"/>
<path d="M983.1 394.3L1026 394.9L1063.2 394.8L1237.8 392.8" stroke="url(#g130)" stroke-width="6.6"/>
<path d="M1237.8 392.8L1269.3 392.3" stroke="url(#g130)" stroke-width="6.6"/>
<path d="M1269.3 412.1L1300.8 411.6" stroke="url(#g133)" stroke-width="6.6"/>
<path d="M1300.8 411.6L1475.4 409.6L1512.6 409.5L1555.5 410.1" stroke="url(#g133)" stroke-width="6.6"/>
<path d="M1086.1 31h0M1089 33.9h0M1091.9 37.2h0M1094.7 40.7h0M1097.6 43.6h0M1100.4 46.4h0M1103.3 49.4h0M1106.2 52h0M1109 54.3h0M1111.9 56.2h0" stroke="url(#g62)" stroke-width="6.6"/>
<path d="M1426.7 224.8h0M1429.6 226.7h0M1432.4 229h0M1435.3 231.6h0M1438.2 234.6h0M1441 237.4h0M1443.9 240.3h0M1446.7 243.8h0M1449.6 247.1h0M1452.5 250h0" stroke="url(#g65)" stroke-width="6.6"/>
<path d="M1086.1 292.7h0M1089 295.6h0M1091.9 298.9h0M1094.7 302.4h0M1097.6 305.3h0M1100.4 308.1h0M1103.3 311.1h0M1106.2 313.7h0M1109 316h0M1111.9 317.9h0" stroke="url(#g66)" stroke-width="6.6"/>
<path d="M1426.7 486.5h0M1429.6 488.4h0M1432.4 490.7h0M1435.3 493.3h0M1438.2 496.3h0M1441 499.1h0M1443.9 502h0M1446.7 505.5h0M1449.6 508.8h0M1452.5 511.7h0" stroke="url(#g69)" stroke-width="6.6"/>
<path d="M1269.3 16.4L1272.2 16.4" stroke="url(#g71)" stroke-width="6.6"/>
<path d="M1306.5 16.9L1312.2 16.9" stroke="url(#g71)" stroke-width="6.6"/>
<path d="M1338 17L1346.6 17" stroke="url(#g71)" stroke-width="6.6"/>
<path d="M1360.9 17.5L1369.5 17.9" stroke="url(#g71)" stroke-width="6.6"/>
<path d="M1461.1 20.7L1472.5 22.4" stroke="url(#g71)" stroke-width="6.6"/>
<path d="M1066.1 258.6L1077.5 260.3" stroke="url(#g72)" stroke-width="6.6"/>
<path d="M1169.1 263.1L1177.7 263.5" stroke="url(#g72)" stroke-width="6.6"/>
<path d="M1192 264L1200.6 264" stroke="url(#g72)" stroke-width="6.6"/>
<path d="M1226.4 264.1L1232.1 264.1" stroke="url(#g72)" stroke-width="6.6"/>
<path d="M1266.4 264.6L1269.3 264.6" stroke="url(#g72)" stroke-width="6.6"/>
<path d="M1269.3 278.1L1272.2 278.1" stroke="url(#g75)" stroke-width="6.6"/>
<path d="M1306.5 278.6L1312.2 278.6" stroke="url(#g75)" stroke-width="6.6"/>
<path d="M1338 278.7L1346.6 278.7" stroke="url(#g75)" stroke-width="6.6"/>
<path d="M1360.9 279.2L1369.5 279.6" stroke="url(#g75)" stroke-width="6.6"/>
<path d="M1461.1 282.4L1472.5 284.1" stroke="url(#g75)" stroke-width="6.6"/>
<path d="M1066.1 520.3L1077.5 522" stroke="url(#g76)" stroke-width="6.6"/>
<path d="M1169.1 524.8L1177.7 525.2" stroke="url(#g76)" stroke-width="6.6"/>
<path d="M1192 525.7L1200.6 525.7" stroke="url(#g76)" stroke-width="6.6"/>
<path d="M1226.4 525.8L1232.1 525.8" stroke="url(#g76)" stroke-width="6.6"/>
<path d="M1266.4 526.3L1269.3 526.3" stroke="url(#g76)" stroke-width="6.6"/>
<path d="M1226.4 17.8L1232.1 17.8" stroke="url(#g78)" stroke-width="6.6"/>
<path d="M1266.4 17.6L1269.3 17.6" stroke="url(#g78)" stroke-width="6.6"/>
<path d="M1269.3 263.4L1272.2 263.4" stroke="url(#g81)" stroke-width="6.6"/>
<path d="M1306.5 263.2L1312.2 263.2" stroke="url(#g81)" stroke-width="6.6"/>
<path d="M1226.4 279.5L1232.1 279.5" stroke="url(#g82)" stroke-width="6.6"/>
<path d="M1266.4 279.3L1269.3 279.3" stroke="url(#g82)" stroke-width="6.6"/>
<path d="M1269.3 525.1L1272.2 525.1" stroke="url(#g85)" stroke-width="6.6"/>
<path d="M1306.5 524.9L1312.2 524.9" stroke="url(#g85)" stroke-width="6.6"/>
<path d="M1421 68.4L1423.8 68.5L1432.4 68" stroke="url(#g87)" stroke-width="6.6"/>
<path d="M1106.2 213L1114.8 212.5L1117.6 212.6" stroke="url(#g88)" stroke-width="6.6"/>
<path d="M1421 330.1L1423.8 330.2L1432.4 329.7" stroke="url(#g91)" stroke-width="6.6"/>
<path d="M1106.2 474.7L1114.8 474.2L1117.6 474.3" stroke="url(#g92)" stroke-width="6.6"/>
<path d="M1149.1 70.5L1177.7 70" stroke="url(#g94)" stroke-width="6.6"/>
<path d="M1360.9 211L1389.5 210.5" stroke="url(#g97)" stroke-width="6.6"/>
<path d="M1149.1 332.2L1177.7 331.7" stroke="url(#g98)" stroke-width="6.6"/>
<path d="M1360.9 472.7L1389.5 472.2" stroke="url(#g101)" stroke-width="6.6"/>
<path d="M1418.1 42.3h0M1421 46.9h0M1423.8 52.1h0M1426.7 57.7h0M1429.6 63.6h0M1432.4 71.1h0" stroke="url(#g103)" stroke-width="6.6"/>
<path d="M1435.3 78.6h0M1438.2 83.9h0M1441 88.2h0M1443.9 91.8h0" stroke="url(#g103)" stroke-width="6.6"/>
<path d="M1094.7 189.2h0M1097.6 192.8h0M1100.4 197.1h0M1103.3 202.4h0" stroke="url(#g104)" stroke-width="6.6"/>
<path d="M1106.2 209.9h0M1109 217.4h0M1111.9 223.3h0M1114.8 228.9h0M1117.6 234.1h0M1120.5 238.7h0" stroke="url(#g104)" stroke-width="6.6"/>
<path d="M1418.1 304h0M1421 308.6h0M1423.8 313.8h0M1426.7 319.4h0M1429.6 325.3h0M1432.4 332.8h0" stroke="url(#g107)" stroke-width="6.6"/>
<path d="M1435.3 340.3h0M1438.2 345.6h0M1441 349.9h0M1443.9 353.5h0" stroke="url(#g107)" stroke-width="6.6"/>
<path d="M1094.7 450.9h0M1097.6 454.5h0M1100.4 458.8h0M1103.3 464.1h0" stroke="url(#g108)" stroke-width="6.6"/>
<path d="M1106.2 471.6h0M1109 479.1h0M1111.9 485h0M1114.8 490.6h0M1117.6 495.8h0M1120.5 500.4h0" stroke="url(#g108)" stroke-width="6.6"/>
<path d="M1403.8 78.1L1406.7 79.4M1409.5 80.9h0M1412.4 82.5h0M1415.3 84.3h0M1418.1 86.2h0" stroke="url(#g111)" stroke-width="6.6"/>
<path d="M1449.6 123.8h0M1452.5 127.3h0M1455.3 130.7h0" stroke="url(#g111)" stroke-width="6.6"/>
<path d="M1455.3 130.7h0M1458.2 134.5h0M1461.1 138.4h0M1463.9 141.2h0" stroke="url(#g111)" stroke-width="6.6"/>
<path d="M1074.7 139.8h0M1077.5 142.6h0M1080.4 146.5h0M1083.3 150.3h0" stroke="url(#g112)" stroke-width="6.6"/>
<path d="M1083.3 150.3h0M1086.1 153.7h0M1089 157.2h0" stroke="url(#g112)" stroke-width="6.6"/>
<path d="M1120.5 194.8h0M1123.3 196.7h0M1126.2 198.5h0M1129.1 200.1h0M1131.9 201.6L1134.8 202.9" stroke="url(#g112)" stroke-width="6.6"/>
<path d="M1403.8 339.8L1406.7 341.1M1409.5 342.6h0M1412.4 344.2h0M1415.3 346h0M1418.1 347.9h0" stroke="url(#g115)" stroke-width="6.6"/>
<path d="M1449.6 385.5h0M1452.5 389h0M1455.3 392.4h0" stroke="url(#g115)" stroke-width="6.6"/>
<path d="M1455.3 392.4h0M1458.2 396.2h0M1461.1 400.1h0M1463.9 402.9h0" stroke="url(#g115)" stroke-width="6.6"/>
<path d="M1074.7 401.5h0M1077.5 404.3h0M1080.4 408.2h0M1083.3 412h0" stroke="url(#g116)" stroke-width="6.6"/>
<path d="M1083.3 412h0M1086.1 415.4h0M1089 418.9h0" stroke="url(#g116)" stroke-width="6.6"/>
<path d="M1120.5 456.5h0M1123.3 458.4h0M1126.2 460.2h0M1129.1 461.8h0M1131.9 463.3L1134.8 464.6" stroke="url(#g116)" stroke-width="6.6"/>
<path d="M1269.3 129.8L1272.2 129.8" stroke="url(#g119)" stroke-width="6.6"/>
<path d="M1297.9 130.1L1303.6 130.1" stroke="url(#g119)" stroke-width="6.6"/>
<path d="M1235 150.9L1240.7 150.9" stroke="url(#g120)" stroke-width="6.6"/>
<path d="M1266.4 151.2L1269.3 151.2" stroke="url(#g120)" stroke-width="6.6"/>
<path d="M1269.3 391.5L1272.2 391.5" stroke="url(#g123)" stroke-width="6.6"/>
<path d="M1297.9 391.8L1303.6 391.8" stroke="url(#g123)" stroke-width="6.6"/>
<path d="M1235 412.6L1240.7 412.6" stroke="url(#g124)" stroke-width="6.6"/>
<path d="M1266.4 412.9L1269.3 412.9" stroke="url(#g124)" stroke-width="6.6"/>
<path d="M1235 131.1L1240.7 131" stroke="url(#g126)" stroke-width="6.6"/>
<path d="M1266.4 130.6L1269.3 130.6" stroke="url(#g126)" stroke-width="6.6"/>
<path d="M1269.3 150.4L1272.2 150.4" stroke="url(#g129)" stroke-width="6.6"/>
<path d="M1297.9 150L1303.6 149.9" stroke="url(#g129)" stroke-width="6.6"/>
<path d="M1235 392.8L1240.7 392.7" stroke="url(#g130)" stroke-width="6.6"/>
<path d="M1266.4 392.3L1269.3 392.3" stroke="url(#g130)" stroke-width="6.6"/>
<path d="M1269.3 412.1L1272.2 412.1" stroke="url(#g133)" stroke-width="6.6"/>
<path d="M1297.9 411.7L1303.6 411.6" stroke="url(#g133)" stroke-width="6.6"/>
<path d="M1106.2 15.6L1152 14.4L1214.9 13.7" stroke="url(#g54)" stroke-width="6.6"/>
<path d="M1484 15.5L1495.4 14.4L1512.6 13.6L1535.5 12.8L1555.5 12.6" stroke="url(#g55)" stroke-width="6.6"/>
<path d="M983.1 268.4L1003.1 268.2L1026 267.4L1043.2 266.6L1054.7 265.5" stroke="url(#g56)" stroke-width="6.6"/>
<path d="M1323.7 267.3L1386.6 266.6L1432.4 265.4" stroke="url(#g57)" stroke-width="6.6"/>
<path d="M1106.2 277.3L1152 276.1L1214.9 275.4" stroke="url(#g58)" stroke-width="6.6"/>
<path d="M1484 277.2L1495.4 276.1L1512.6 275.3L1535.5 274.5L1555.5 274.3" stroke="url(#g59)" stroke-width="6.6"/>
<path d="M983.1 530.1L1003.1 529.9L1026 529.1L1043.2 528.3L1054.7 527.2" stroke="url(#g60)" stroke-width="6.6"/>
<path d="M1323.7 529L1386.6 528.3L1432.4 527.1" stroke="url(#g61)" stroke-width="6.6"/>
<path d="M983.1 13.4L1000.3 13.8L1023.2 14.8L1034.6 15.5L1046.1 16.7L1054.7 18L1063.2 19.8L1074.7 23.6L1080.4 26.2M1083.3 28.4h0M1086.1 31h0M1089 33.9h0" stroke="url(#g62)" stroke-width="6.6"/>
<path d="M1109 54.3h0M1111.9 56.2h0M1114.8 57.9L1117.6 59.2" stroke="url(#g62)" stroke-width="6.6"/>
<path d="M1286.5 62.2L1366.6 62.5L1383.8 62.4L1398.1 62" stroke="url(#g63)" stroke-width="6.6"/>
<path d="M1140.5 219L1154.8 218.6L1172 218.5L1252.1 218.8" stroke="url(#g64)" stroke-width="6.6"/>
<path d="M1421 221.8L1423.8 223.1M1426.7 224.8h0M1429.6 226.7h0" stroke="url(#g65)" stroke-width="6.6"/>
<path d="M1449.6 247.1h0M1452.5 250h0M1455.3 252.6h0M1458.2 254.8L1463.9 257.4L1475.4 261.2L1484 263L1492.5 264.3L1504 265.5L1515.4 266.2L1538.3 267.2L1555.5 267.6" stroke="url(#g65)" stroke-width="6.6"/>
<path d="M983.1 275.1L1000.3 275.5L1023.2 276.5L1034.6 277.2L1046.1 278.4L1054.7 279.7L1063.2 281.5L1074.7 285.3L1080.4 287.9M1083.3 290.1h0M1086.1 292.7h0M1089 295.6h0" stroke="url(#g66)" stroke-width="6.6"/>
<path d="M1109 316h0M1111.9 317.9h0M1114.8 319.6L1117.6 320.9" stroke="url(#g66)" stroke-width="6.6"/>
<path d="M1286.5 323.9L1366.6 324.2L1383.8 324.1L1398.1 323.7" stroke="url(#g67)" stroke-width="6.6"/>
<path d="M1140.5 480.7L1154.8 480.3L1172 480.2L1252.1 480.5" stroke="url(#g68)" stroke-width="6.6"/>
<path d="M1421 483.5L1423.8 484.8M1426.7 486.5h0M1429.6 488.4h0" stroke="url(#g69)" stroke-width="6.6"/>
<path d="M1449.6 508.8h0M1452.5 511.7h0M1455.3 514.3h0M1458.2 516.5L1463.9 519.1L1475.4 522.9L1484 524.7L1492.5 526L1504 527.2L1515.4 527.9L1538.3 528.9L1555.5 529.3" stroke="url(#g69)" stroke-width="6.6"/>
<path d="M1343.7 17L1352.3 17.1" stroke="url(#g71)" stroke-width="6.6"/>
<path d="M1358 17.3L1363.7 17.6" stroke="url(#g71)" stroke-width="6.6"/>
<path d="M1174.9 263.4L1180.6 263.7" stroke="url(#g72)" stroke-width="6.6"/>
<path d="M1186.3 263.9L1194.9 264" stroke="url(#g72)" stroke-width="6.6"/>
<path d="M1343.7 278.7L1352.3 278.8" stroke="url(#g75)" stroke-width="6.6"/>
<path d="M1358 279L1363.7 279.3" stroke="url(#g75)" stroke-width="6.6"/>
<path d="M1174.9 525.1L1180.6 525.4" stroke="url(#g76)" stroke-width="6.6"/>
<path d="M1186.3 525.6L1194.9 525.7" stroke="url(#g76)" stroke-width="6.6"/>
<path d="M1415.3 68.1L1423.8 68.5" stroke="url(#g87)" stroke-width="6.6"/>
<path d="M1114.8 212.5L1123.3 212.9" stroke="url(#g88)" stroke-width="6.6"/>
<path d="M1415.3 329.8L1423.8 330.2" stroke="url(#g91)" stroke-width="6.6"/>
<path d="M1114.8 474.2L1123.3 474.6" stroke="url(#g92)" stroke-width="6.6"/>
<path d="M1174.9 70L1252.1 69.6" stroke="url(#g94)" stroke-width="6.6"/>
<path d="M1286.5 211.4L1363.7 211" stroke="url(#g97)" stroke-width="6.6"/>
<path d="M1174.9 331.7L1252.1 331.3" stroke="url(#g98)" stroke-width="6.6"/>
<path d="M1286.5 473.1L1363.7 472.7" stroke="url(#g101)" stroke-width="6.6"/>
<path d="M1160.5 22.4L1177.7 19.9L1194.9 17.9L1209.2 17.2L1232.1 16.6" stroke="url(#g102)" stroke-width="6.6"/>
<path d="M1403.8 28.1h0M1406.7 30h0M1409.5 32.3h0M1412.4 35.2h0M1415.3 38.5h0M1418.1 42.3h0M1421 46.9h0" stroke="url(#g103)" stroke-width="6.6"/>
<path d="M1429.6 63.6h0M1432.4 71.1h0M1435.3 78.6h0" stroke="url(#g103)" stroke-width="6.6"/>
<path d="M1103.3 202.4h0M1106.2 209.9h0M1109 217.4h0" stroke="url(#g104)" stroke-width="6.6"/>
<path d="M1117.6 234.1h0M1120.5 238.7h0M1123.3 242.5h0M1126.2 245.8h0M1129.1 248.7h0M1131.9 251h0M1134.8 252.9h0" stroke="url(#g104)" stroke-width="6.6"/>
<path d="M1306.5 264.4L1329.4 263.8L1343.7 263.1L1360.9 261.1L1378.1 258.6" stroke="url(#g105)" stroke-width="6.6"/>
<path d="M1160.5 284.1L1177.7 281.6L1194.9 279.6L1209.2 278.9L1232.1 278.3" stroke="url(#g106)" stroke-width="6.6"/>
<path d="M1403.8 289.8h0M1406.7 291.7h0M1409.5 294h0M1412.4 296.9h0M1415.3 300.2h0M1418.1 304h0M1421 308.6h0" stroke="url(#g107)" stroke-width="6.6"/>
<path d="M1429.6 325.3h0M1432.4 332.8h0M1435.3 340.3h0" stroke="url(#g107)" stroke-width="6.6"/>
<path d="M1103.3 464.1h0M1106.2 471.6h0M1109 479.1h0" stroke="url(#g108)" stroke-width="6.6"/>
<path d="M1117.6 495.8h0M1120.5 500.4h0M1123.3 504.2h0M1126.2 507.5h0M1129.1 510.4h0M1131.9 512.7h0M1134.8 514.6h0" stroke="url(#g108)" stroke-width="6.6"/>
<path d="M1306.5 526.1L1329.4 525.5L1343.7 524.8L1360.9 522.8L1378.1 520.3" stroke="url(#g109)" stroke-width="6.6"/>
<path d="M1183.4 70.3L1206.3 70L1249.3 70" stroke="url(#g110)" stroke-width="6.6"/>
<path d="M1395.2 75.4L1401 77.1L1406.7 79.4" stroke="url(#g111)" stroke-width="6.6"/>
<path d="M1452.5 127.3h0M1455.3 130.7h0M1458.2 134.5h0" stroke="url(#g111)" stroke-width="6.6"/>
<path d="M1080.4 146.5h0M1083.3 150.3h0M1086.1 153.7h0" stroke="url(#g112)" stroke-width="6.6"/>
<path d="M1131.9 201.6L1137.6 203.9L1143.4 205.6" stroke="url(#g112)" stroke-width="6.6"/>
<path d="M1289.3 211L1332.3 211L1355.2 210.7" stroke="url(#g113)" stroke-width="6.6"/>
<path d="M1183.4 332L1206.3 331.7L1249.3 331.7" stroke="url(#g114)" stroke-width="6.6"/>
<path d="M1395.2 337.1L1401 338.8L1406.7 341.1" stroke="url(#g115)" stroke-width="6.6"/>
<path d="M1452.5 389h0M1455.3 392.4h0M1458.2 396.2h0" stroke="url(#g115)" stroke-width="6.6"/>
<path d="M1080.4 408.2h0M1083.3 412h0M1086.1 415.4h0" stroke="url(#g116)" stroke-width="6.6"/>
<path d="M1131.9 463.3L1137.6 465.6L1143.4 467.3" stroke="url(#g116)" stroke-width="6.6"/>
<path d="M1289.3 472.7L1332.3 472.7L1355.2 472.4" stroke="url(#g117)" stroke-width="6.6"/>
<path d="M1074.7 17L1109 15.4" stroke="url(#g54)" stroke-width="6.6"/>
<path d="M1212.1 13.7L1269.3 13.4" stroke="url(#g54)" stroke-width="6.6"/>
<path d="M1461.1 17L1469.6 16.8L1486.8 15.2" stroke="url(#g55)" stroke-width="6.6"/>
<path d="M1051.8 265.8L1069 264.2L1077.5 264" stroke="url(#g56)" stroke-width="6.6"/>
<path d="M1269.3 267.6L1326.5 267.3" stroke="url(#g57)" stroke-width="6.6"/>
<path d="M1429.6 265.6L1463.9 264" stroke="url(#g57)" stroke-width="6.6"/>
<path d="M1074.7 278.7L1109 277.1" stroke="url(#g58)" stroke-width="6.6"/>
<path d="M1212.1 275.4L1269.3 275.1" stroke="url(#g58)" stroke-width="6.6"/>
<path d="M1461.1 278.7L1469.6 278.5L1486.8 276.9" stroke="url(#g59)" stroke-width="6.6"/>
<path d="M1051.8 527.5L1069 525.9L1077.5 525.7" stroke="url(#g60)" stroke-width="6.6"/>
<path d="M1269.3 529.3L1326.5 529" stroke="url(#g61)" stroke-width="6.6"/>
<path d="M1429.6 527.3L1463.9 525.7" stroke="url(#g61)" stroke-width="6.6"/>
<path d="M1114.8 57.9L1117.6 59.2L1120.5 60.1L1126.2 61.1" stroke="url(#g62)" stroke-width="6.6"/>
<path d="M1269.3 62L1289.3 62.2" stroke="url(#g63)" stroke-width="6.6"/>
<path d="M1395.2 62.1L1409.5 61.4L1415.3 60.7" stroke="url(#g63)" stroke-width="6.6"/>
<path d="M1123.3 220.3L1129.1 219.6L1143.4 218.9" stroke="url(#g64)" stroke-width="6.6"/>
<path d="M1249.3 218.8L1269.3 219" stroke="url(#g64)" stroke-width="6.6"/>
<path d="M1412.4 219.9L1418.1 220.9L1421 221.8L1423.8 223.1" stroke="url(#g65)" stroke-width="6.6"/>
<path d="M1114.8 319.6L1117.6 320.9L1120.5 321.8L1126.2 322.8" stroke="url(#g66)" stroke-width="6.6"/>
<path d="M1269.3 323.7L1289.3 323.9" stroke="url(#g67)" stroke-width="6.6"/>
<path d="M1395.2 323.8L1409.5 323.1L1415.3 322.4" stroke="url(#g67)" stroke-width="6.6"/>
<path d="M1123.3 482L1129.1 481.3L1143.4 480.6" stroke="url(#g68)" stroke-width="6.6"/>
<path d="M1249.3 480.5L1269.3 480.7" stroke="url(#g68)" stroke-width="6.6"/>
<path d="M1412.4 481.6L1418.1 482.6L1421 483.5L1423.8 484.8" stroke="url(#g69)" stroke-width="6.6"/>
<path d="M1349.4 17L1360.9 17.5" stroke="url(#g71)" stroke-width="6.6"/>
<path d="M1177.7 263.5L1189.2 264" stroke="url(#g72)" stroke-width="6.6"/>
<path d="M1349.4 278.7L1360.9 279.2" stroke="url(#g75)" stroke-width="6.6"/>
<path d="M1177.7 525.2L1189.2 525.7" stroke="url(#g76)" stroke-width="6.6"/>
<path d="M1137.6 67.4L1154.8 67L1174.9 67.6L1212.1 69L1240.7 69.4L1269.3 69.4" stroke="url(#g86)" stroke-width="6.6"/>
<path d="M1398.1 67.2L1418.1 68.3" stroke="url(#g87)" stroke-width="6.6"/>
<path d="M1120.5 212.7L1140.5 213.8" stroke="url(#g88)" stroke-width="6.6"/>
<path d="M1269.3 211.6L1297.9 211.6L1326.5 212L1363.7 213.4L1383.8 214L1401 213.6" stroke="url(#g89)" stroke-width="6.6"/>
<path d="M1137.6 329.1L1154.8 328.7L1174.9 329.3L1212.1 330.7L1240.7 331.1L1269.3 331.1" stroke="url(#g90)" stroke-width="6.6"/>
<path d="M1398.1 328.9L1418.1 330" stroke="url(#g91)" stroke-width="6.6"/>
<path d="M1120.5 474.4L1140.5 475.5" stroke="url(#g92)" stroke-width="6.6"/>
<path d="M1269.3 473.3L1297.9 473.3L1326.5 473.7L1363.7 475.1L1383.8 475.7L1401 475.3" stroke="url(#g93)" stroke-width="6.6"/>
<path d="M1249.3 69.6L1269.3 69.6" stroke="url(#g94)" stroke-width="6.6"/>
<path d="M1269.3 211.4L1289.3 211.4" stroke="url(#g97)" stroke-width="6.6"/>
<path d="M1249.3 331.3L1269.3 331.3" stroke="url(#g98)" stroke-width="6.6"/>
<path d="M1269.3 473.1L1289.3 473.1" stroke="url(#g101)" stroke-width="6.6"/>
<path d="M1143.4 24.8L1149.1 23.9L1163.4 22" stroke="url(#g102)" stroke-width="6.6"/>
<path d="M1229.2 16.6L1249.3 16.4L1269.3 16.4" stroke="url(#g102)" stroke-width="6.6"/>
<path d="M1392.4 24.3L1398.1 25.7L1403.8 28.1M1406.7 30h0" stroke="url(#g103)" stroke-width="6.6"/>
<path d="M1432.4 71.1h0M1435.3 78.6h0M1438.2 83.9h0" stroke="url(#g103)" stroke-width="6.6"/>
<path d="M1100.4 197.1h0M1103.3 202.4h0M1106.2 209.9h0" stroke="url(#g104)" stroke-width="6.6"/>
<path d="M1131.9 251h0M1134.8 252.9L1140.5 255.3L1146.2 256.7" stroke="url(#g104)" stroke-width="6.6"/>
<path d="M1269.3 264.6L1289.3 264.6L1309.4 264.4" stroke="url(#g105)" stroke-width="6.6"/>
<path d="M1375.2 259L1389.5 257.1L1395.2 256.2" stroke="url(#g105)" stroke-width="6.6"/>
<path d="M1143.4 286.5L1149.1 285.6L1163.4 283.7" stroke="url(#g106)" stroke-width="6.6"/>
<path d="M1229.2 278.3L1249.3 278.1L1269.3 278.1" stroke="url(#g106)" stroke-width="6.6"/>
<path d="M1392.4 286L1398.1 287.4L1403.8 289.8M1406.7 291.7h0" stroke="url(#g107)" stroke-width="6.6"/>
<path d="M1432.4 332.8h0M1435.3 340.3h0M1438.2 345.6h0" stroke="url(#g107)" stroke-width="6.6"/>
<path d="M1100.4 458.8h0M1103.3 464.1h0M1106.2 471.6h0" stroke="url(#g108)" stroke-width="6.6"/>
<path d="M1131.9 512.7h0M1134.8 514.6L1140.5 517L1146.2 518.4" stroke="url(#g108)" stroke-width="6.6"/>
<path d="M1269.3 526.3L1289.3 526.3L1309.4 526.1" stroke="url(#g109)" stroke-width="6.6"/>
<path d="M1375.2 520.7L1389.5 518.8L1395.2 517.9" stroke="url(#g109)" stroke-width="6.6"/>
<path d="M1152 73.4L1157.7 72.3L1169.1 71L1177.7 70.5L1186.3 70.3" stroke="url(#g110)" stroke-width="6.6"/>
<path d="M1246.4 70L1269.3 70" stroke="url(#g110)" stroke-width="6.6"/>
<path d="M1383.8 72.8L1398.1 76.2" stroke="url(#g111)" stroke-width="6.6"/>
<path d="M1140.5 204.8L1154.8 208.2" stroke="url(#g112)" stroke-width="6.6"/>
<path d="M1269.3 211L1292.2 211" stroke="url(#g113)" stroke-width="6.6"/>
<path d="M1352.3 210.7L1360.9 210.5L1369.5 210L1380.9 208.7L1386.6 207.6" stroke="url(#g113)" stroke-width="6.6"/>
<path d="M1152 335.1L1157.7 334L1169.1 332.7L1177.7 332.2L1186.3 332" stroke="url(#g114)" stroke-width="6.6"/>
<path d="M1246.4 331.7L1269.3 331.7" stroke="url(#g114)" stroke-width="6.6"/>
<path d="M1383.8 334.5L1398.1 337.9" stroke="url(#g115)" stroke-width="6.6"/>
<path d="M1140.5 466.5L1154.8 469.9" stroke="url(#g116)" stroke-width="6.6"/>
<path d="M1269.3 472.7L1292.2 472.7" stroke="url(#g117)" stroke-width="6.6"/>
<path d="M1352.3 472.4L1360.9 472.2L1369.5 471.7L1380.9 470.4L1386.6 469.3" stroke="url(#g117)" stroke-width="6.6"/>
<path d="M1051.8 15.2L1069 16.8L1077.5 17" stroke="url(#g54)" stroke-width="6.6"/>
<path d="M1266.4 13.4L1269.3 13.4" stroke="url(#g54)" stroke-width="6.6"/>
<path d="M1269.3 13.4L1326.5 13.7" stroke="url(#g55)" stroke-width="6.6"/>
<path d="M1429.6 15.4L1463.9 17" stroke="url(#g55)" stroke-width="6.6"/>
<path d="M1074.7 264L1109 265.6" stroke="url(#g56)" stroke-width="6.6"/>
<path d="M1212.1 267.3L1269.3 267.6" stroke="url(#g56)" stroke-width="6.6"/>
<path d="M1269.3 267.6L1272.2 267.6" stroke="url(#g57)" stroke-width="6.6"/>
<path d="M1461.1 264L1469.6 264.2L1486.8 265.8" stroke="url(#g57)" stroke-width="6.6"/>
<path d="M1051.8 276.9L1069 278.5L1077.5 278.7" stroke="url(#g58)" stroke-width="6.6"/>
<path d="M1266.4 275.1L1269.3 275.1" stroke="url(#g58)" stroke-width="6.6"/>
<path d="M1269.3 275.1L1326.5 275.4" stroke="url(#g59)" stroke-width="6.6"/>
<path d="M1429.6 277.1L1463.9 278.7" stroke="url(#g59)" stroke-width="6.6"/>
<path d="M1074.7 525.7L1109 527.3" stroke="url(#g60)" stroke-width="6.6"/>
<path d="M1212.1 529L1269.3 529.3" stroke="url(#g60)" stroke-width="6.6"/>
<path d="M1269.3 529.3L1272.2 529.3" stroke="url(#g61)" stroke-width="6.6"/>
<path d="M1461.1 525.7L1469.6 525.9L1486.8 527.5" stroke="url(#g61)" stroke-width="6.6"/>
<path d="M1123.3 60.7L1129.1 61.4L1143.4 62.1" stroke="url(#g62)" stroke-width="6.6"/>
<path d="M1249.3 62.2L1269.3 62" stroke="url(#g62)" stroke-width="6.6"/>
<path d="M1269.3 62L1272.2 62" stroke="url(#g63)" stroke-width="6.6"/>
<path d="M1412.4 61.1L1418.1 60.1L1421 59.2L1423.8 57.9" stroke="url(#g63)" stroke-width="6.6"/>
<path d="M1114.8 223.1L1117.6 221.8L1120.5 220.9L1126.2 219.9" stroke="url(#g64)" stroke-width="6.6"/>
<path d="M1266.4 219L1269.3 219" stroke="url(#g64)" stroke-width="6.6"/>
<path d="M1269.3 219L1289.3 218.8" stroke="url(#g65)" stroke-width="6.6"/>
<path d="M1395.2 218.9L1409.5 219.6L1415.3 220.3" stroke="url(#g65)" stroke-width="6.6"/>
<path d="M1123.3 322.4L1129.1 323.1L1143.4 323.8" stroke="url(#g66)" stroke-width="6.6"/>
<path d="M1249.3 323.9L1269.3 323.7" stroke="url(#g66)" stroke-width="6.6"/>
<path d="M1269.3 323.7L1272.2 323.7" stroke="url(#g67)" stroke-width="6.6"/>
<path d="M1412.4 322.8L1418.1 321.8L1421 320.9L1423.8 319.6" stroke="url(#g67)" stroke-width="6.6"/>
<path d="M1114.8 484.8L1117.6 483.5L1120.5 482.6L1126.2 481.6" stroke="url(#g68)" stroke-width="6.6"/>
<path d="M1266.4 480.7L1269.3 480.7" stroke="url(#g68)" stroke-width="6.6"/>
<path d="M1269.3 480.7L1289.3 480.5" stroke="url(#g69)" stroke-width="6.6"/>
<path d="M1395.2 480.6L1409.5 481.3L1415.3 482" stroke="url(#g69)" stroke-width="6.6"/>
<path d="M1177.7 17.5L1189.2 17" stroke="url(#g70)" stroke-width="6.6"/>
<path d="M1349.4 264L1360.9 263.5" stroke="url(#g73)" stroke-width="6.6"/>
<path d="M1177.7 279.2L1189.2 278.7" stroke="url(#g74)" stroke-width="6.6"/>
<path d="M1349.4 525.7L1360.9 525.2" stroke="url(#g77)" stroke-width="6.6"/>
<path d="M1120.5 68.3L1140.5 67.2" stroke="url(#g86)" stroke-width="6.6"/>
<path d="M1266.4 69.4L1269.3 69.4" stroke="url(#g86)" stroke-width="6.6"/>
<path d="M1269.3 69.4L1297.9 69.4L1326.5 69L1363.7 67.6L1383.8 67L1401 67.4" stroke="url(#g87)" stroke-width="6.6"/>
<path d="M1137.6 213.6L1154.8 214L1174.9 213.4L1212.1 212L1240.7 211.6L1269.3 211.6" stroke="url(#g88)" stroke-width="6.6"/>
<path d="M1269.3 211.6L1272.2 211.6" stroke="url(#g89)" stroke-width="6.6"/>
<path d="M1398.1 213.8L1418.1 212.7" stroke="url(#g89)" stroke-width="6.6"/>
<path d="M1120.5 330L1140.5 328.9" stroke="url(#g90)" stroke-width="6.6"/>
<path d="M1266.4 331.1L1269.3 331.1" stroke="url(#g90)" stroke-width="6.6"/>
<path d="M1269.3 331.1L1297.9 331.1L1326.5 330.7L1363.7 329.3L1383.8 328.7L1401 329.1" stroke="url(#g91)" stroke-width="6.6"/>
<path d="M1137.6 475.3L1154.8 475.7L1174.9 475.1L1212.1 473.7L1240.7 473.3L1269.3 473.3" stroke="url(#g92)" stroke-width="6.6"/>
<path d="M1269.3 473.3L1272.2 473.3" stroke="url(#g93)" stroke-width="6.6"/>
<path d="M1398.1 475.5L1418.1 474.4" stroke="url(#g93)" stroke-width="6.6"/>
<path d="M1266.4 69.6L1269.3 69.6" stroke="url(#g94)" stroke-width="6.6"/>
<path d="M1269.3 69.6L1289.3 69.6" stroke="url(#g95)" stroke-width="6.6"/>
<path d="M1249.3 211.4L1269.3 211.4" stroke="url(#g96)" stroke-width="6.6"/>
<path d="M1269.3 211.4L1272.2 211.4" stroke="url(#g97)" stroke-width="6.6"/>
<path d="M1266.4 331.3L1269.3 331.3" stroke="url(#g98)" stroke-width="6.6"/>
<path d="M1269.3 331.3L1289.3 331.3" stroke="url(#g99)" stroke-width="6.6"/>
<path d="M1249.3 473.1L1269.3 473.1" stroke="url(#g100)" stroke-width="6.6"/>
<path d="M1269.3 473.1L1272.2 473.1" stroke="url(#g101)" stroke-width="6.6"/>
<path d="M1100.4 83.9h0M1103.3 78.6h0M1106.2 71.1h0" stroke="url(#g102)" stroke-width="6.6"/>
<path d="M1131.9 30h0M1134.8 28.1L1140.5 25.7L1146.2 24.3" stroke="url(#g102)" stroke-width="6.6"/>
<path d="M1266.4 16.4L1269.3 16.4" stroke="url(#g102)" stroke-width="6.6"/>
<path d="M1269.3 16.4L1289.3 16.4L1309.4 16.6" stroke="url(#g103)" stroke-width="6.6"/>
<path d="M1375.2 22L1389.5 23.9L1395.2 24.8" stroke="url(#g103)" stroke-width="6.6"/>
<path d="M1143.4 256.2L1149.1 257.1L1163.4 259" stroke="url(#g104)" stroke-width="6.6"/>
<path d="M1229.2 264.4L1249.3 264.6L1269.3 264.6" stroke="url(#g104)" stroke-width="6.6"/>
<path d="M1269.3 264.6L1272.2 264.6" stroke="url(#g105)" stroke-width="6.6"/>
<path d="M1392.4 256.7L1398.1 255.3L1403.8 252.9M1406.7 251h0" stroke="url(#g105)" stroke-width="6.6"/>
<path d="M1432.4 209.9h0M1435.3 202.4h0M1438.2 197.1h0" stroke="url(#g105)" stroke-width="6.6"/>
<path d="M1100.4 345.6h0M1103.3 340.3h0M1106.2 332.8h0" stroke="url(#g106)" stroke-width="6.6"/>
<path d="M1131.9 291.7h0M1134.8 289.8L1140.5 287.4L1146.2 286" stroke="url(#g106)" stroke-width="6.6"/>
<path d="M1266.4 278.1L1269.3 278.1" stroke="url(#g106)" stroke-width="6.6"/>
<path d="M1269.3 278.1L1289.3 278.1L1309.4 278.3" stroke="url(#g107)" stroke-width="6.6"/>
<path d="M1375.2 283.7L1389.5 285.6L1395.2 286.5" stroke="url(#g107)" stroke-width="6.6"/>
<path d="M1143.4 517.9L1149.1 518.8L1163.4 520.7" stroke="url(#g108)" stroke-width="6.6"/>
<path d="M1229.2 526.1L1249.3 526.3L1269.3 526.3" stroke="url(#g108)" stroke-width="6.6"/>
<path d="M1269.3 526.3L1272.2 526.3" stroke="url(#g109)" stroke-width="6.6"/>
<path d="M1392.4 518.4L1398.1 517L1403.8 514.6M1406.7 512.7h0" stroke="url(#g109)" stroke-width="6.6"/>
<path d="M1432.4 471.6h0M1435.3 464.1h0M1438.2 458.8h0" stroke="url(#g109)" stroke-width="6.6"/>
<path d="M1140.5 76.2L1154.8 72.8" stroke="url(#g110)" stroke-width="6.6"/>
<path d="M1266.4 70L1269.3 70" stroke="url(#g110)" stroke-width="6.6"/>
<path d="M1269.3 70L1292.2 70" stroke="url(#g111)" stroke-width="6.6"/>
<path d="M1352.3 70.3L1360.9 70.5L1369.5 71L1380.9 72.3L1386.6 73.4" stroke="url(#g111)" stroke-width="6.6"/>
<path d="M1152 207.6L1157.7 208.7L1169.1 210L1177.7 210.5L1186.3 210.7" stroke="url(#g112)" stroke-width="6.6"/>
<path d="M1246.4 211L1269.3 211" stroke="url(#g112)" stroke-width="6.6"/>
<path d="M1269.3 211L1272.2 211" stroke="url(#g113)" stroke-width="6.6"/>
<path d="M1383.8 208.2L1398.1 204.8" stroke="url(#g113)" stroke-width="6.6"/>
<path d="M1140.5 337.9L1154.8 334.5" stroke="url(#g114)" stroke-width="6.6"/>
<path d="M1266.4 331.7L1269.3 331.7" stroke="url(#g114)" stroke-width="6.6"/>
<path d="M1269.3 331.7L1292.2 331.7" stroke="url(#g115)" stroke-width="6.6"/>
<path d="M1352.3 332L1360.9 332.2L1369.5 332.7L1380.9 334L1386.6 335.1" stroke="url(#g115)" stroke-width="6.6"/>
<path d="M1152 469.3L1157.7 470.4L1169.1 471.7L1177.7 472.2L1186.3 472.4" stroke="url(#g116)" stroke-width="6.6"/>
<path d="M1246.4 472.7L1269.3 472.7" stroke="url(#g116)" stroke-width="6.6"/>
<path d="M1269.3 472.7L1272.2 472.7" stroke="url(#g117)" stroke-width="6.6"/>
<path d="M1383.8 469.9L1398.1 466.5" stroke="url(#g117)" stroke-width="6.6"/>
<path d="M983.1 12.6L1003.1 12.8L1026 13.6L1043.2 14.4L1054.7 15.5" stroke="url(#g54)" stroke-width="6.6"/>
<path d="M1323.7 13.7L1386.6 14.4L1432.4 15.6" stroke="url(#g55)" stroke-width="6.6"/>
<path d="M1106.2 265.4L1152 266.6L1214.9 267.3" stroke="url(#g56)" stroke-width="6.6"/>
<path d="M1484 265.5L1495.4 266.6L1512.6 267.4L1535.5 268.2L1555.5 268.4" stroke="url(#g57)" stroke-width="6.6"/>
<path d="M983.1 274.3L1003.1 274.5L1026 275.3L1043.2 276.1L1054.7 277.2" stroke="url(#g58)" stroke-width="6.6"/>
<path d="M1323.7 275.4L1386.6 276.1L1432.4 277.3" stroke="url(#g59)" stroke-width="6.6"/>
<path d="M1106.2 527.1L1152 528.3L1214.9 529" stroke="url(#g60)" stroke-width="6.6"/>
<path d="M1484 527.2L1495.4 528.3L1512.6 529.1L1535.5 529.9L1555.5 530.1" stroke="url(#g61)" stroke-width="6.6"/>
<path d="M1140.5 62L1154.8 62.4L1172 62.5L1252.1 62.2" stroke="url(#g62)" stroke-width="6.6"/>
<path d="M1421 59.2L1423.8 57.9M1426.7 56.2h0M1429.6 54.3h0" stroke="url(#g63)" stroke-width="6.6"/>
<path d="M1449.6 33.9h0M1452.5 31h0M1455.3 28.4h0M1458.2 26.2L1463.9 23.6L1475.4 19.8L1484 18L1492.5 16.7L1504 15.5L1515.4 14.8L1538.3 13.8L1555.5 13.4" stroke="url(#g63)" stroke-width="6.6"/>
<path d="M983.1 267.6L1000.3 267.2L1023.2 266.2L1034.6 265.5L1046.1 264.3L1054.7 263L1063.2 261.2L1074.7 257.4L1080.4 254.8M1083.3 252.6h0M1086.1 250h0M1089 247.1h0" stroke="url(#g64)" stroke-width="6.6"/>
<path d="M1109 226.7h0M1111.9 224.8h0M1114.8 223.1L1117.6 221.8" stroke="url(#g64)" stroke-width="6.6"/>
<path d="M1286.5 218.8L1366.6 218.5L1383.8 218.6L1398.1 219" stroke="url(#g65)" stroke-width="6.6"/>
<path d="M1140.5 323.7L1154.8 324.1L1172 324.2L1252.1 323.9" stroke="url(#g66)" stroke-width="6.6"/>
<path d="M1421 320.9L1423.8 319.6M1426.7 317.9h0M1429.6 316h0" stroke="url(#g67)" stroke-width="6.6"/>
<path d="M1449.6 295.6h0M1452.5 292.7h0M1455.3 290.1h0M1458.2 287.9L1463.9 285.3L1475.4 281.5L1484 279.7L1492.5 278.4L1504 277.2L1515.4 276.5L1538.3 275.5L1555.5 275.1" stroke="url(#g67)" stroke-width="6.6"/>
<path d="M983.1 529.3L1000.3 528.9L1023.2 527.9L1034.6 527.2L1046.1 526L1054.7 524.7L1063.2 522.9L1074.7 519.1L1080.4 516.5M1083.3 514.3h0M1086.1 511.7h0M1089 508.8h0" stroke="url(#g68)" stroke-width="6.6"/>
<path d="M1109 488.4h0M1111.9 486.5h0M1114.8 484.8L1117.6 483.5" stroke="url(#g68)" stroke-width="6.6"/>
<path d="M1286.5 480.5L1366.6 480.2L1383.8 480.3L1398.1 480.7" stroke="url(#g69)" stroke-width="6.6"/>
<path d="M1174.9 17.6L1180.6 17.3" stroke="url(#g70)" stroke-width="6.6"/>
<path d="M1186.3 17.1L1194.9 17" stroke="url(#g70)" stroke-width="6.6"/>
<path d="M1343.7 264L1352.3 263.9" stroke="url(#g73)" stroke-width="6.6"/>
<path d="M1358 263.7L1363.7 263.4" stroke="url(#g73)" stroke-width="6.6"/>
<path d="M1174.9 279.3L1180.6 279" stroke="url(#g74)" stroke-width="6.6"/>
<path d="M1186.3 278.8L1194.9 278.7" stroke="url(#g74)" stroke-width="6.6"/>
<path d="M1343.7 525.7L1352.3 525.6" stroke="url(#g77)" stroke-width="6.6"/>
<path d="M1358 525.4L1363.7 525.1" stroke="url(#g77)" stroke-width="6.6"/>
<path d="M1114.8 68.5L1123.3 68.1" stroke="url(#g86)" stroke-width="6.6"/>
<path d="M1415.3 212.9L1423.8 212.5" stroke="url(#g89)" stroke-width="6.6"/>
<path d="M1114.8 330.2L1123.3 329.8" stroke="url(#g90)" stroke-width="6.6"/>
<path d="M1415.3 474.6L1423.8 474.2" stroke="url(#g93)" stroke-width="6.6"/>
<path d="M1286.5 69.6L1363.7 70" stroke="url(#g95)" stroke-width="6.6"/>
<path d="M1174.9 211L1252.1 211.4" stroke="url(#g96)" stroke-width="6.6"/>
<path d="M1286.5 331.3L1363.7 331.7" stroke="url(#g99)" stroke-width="6.6"/>
<path d="M1174.9 472.7L1252.1 473.1" stroke="url(#g100)" stroke-width="6.6"/>
<path d="M1103.3 78.6h0M1106.2 71.1h0M1109 63.6h0" stroke="url(#g102)" stroke-width="6.6"/>
<path d="M1117.6 46.9h0M1120.5 42.3h0M1123.3 38.5h0M1126.2 35.2h0M1129.1 32.3h0M1131.9 30h0M1134.8 28.1h0" stroke="url(#g102)" stroke-width="6.6"/>
<path d="M1306.5 16.6L1329.4 17.2L1343.7 17.9L1360.9 19.9L1378.1 22.4" stroke="url(#g103)" stroke-width="6.6"/>
<path d="M1160.5 258.6L1177.7 261.1L1194.9 263.1L1209.2 263.8L1232.1 264.4" stroke="url(#g104)" stroke-width="6.6"/>
<path d="M1403.8 252.9h0M1406.7 251h0M1409.5 248.7h0M1412.4 245.8h0M1415.3 242.5h0M1418.1 238.7h0M1421 234.1h0" stroke="url(#g105)" stroke-width="6.6"/>
<path d="M1429.6 217.4h0M1432.4 209.9h0M1435.3 202.4h0" stroke="url(#g105)" stroke-width="6.6"/>
<path d="M1103.3 340.3h0M1106.2 332.8h0M1109 325.3h0" stroke="url(#g106)" stroke-width="6.6"/>
<path d="M1117.6 308.6h0M1120.5 304h0M1123.3 300.2h0M1126.2 296.9h0M1129.1 294h0M1131.9 291.7h0M1134.8 289.8h0" stroke="url(#g106)" stroke-width="6.6"/>
<path d="M1306.5 278.3L1329.4 278.9L1343.7 279.6L1360.9 281.6L1378.1 284.1" stroke="url(#g107)" stroke-width="6.6"/>
<path d="M1160.5 520.3L1177.7 522.8L1194.9 524.8L1209.2 525.5L1232.1 526.1" stroke="url(#g108)" stroke-width="6.6"/>
<path d="M1403.8 514.6h0M1406.7 512.7h0M1409.5 510.4h0M1412.4 507.5h0M1415.3 504.2h0M1418.1 500.4h0M1421 495.8h0" stroke="url(#g109)" stroke-width="6.6"/>
<path d="M1429.6 479.1h0M1432.4 471.6h0M1435.3 464.1h0" stroke="url(#g109)" stroke-width="6.6"/>
<path d="M1080.4 134.5h0M1083.3 130.7h0M1086.1 127.3h0" stroke="url(#g110)" stroke-width="6.6"/>
<path d="M1131.9 79.4L1137.6 77.1L1143.4 75.4" stroke="url(#g110)" stroke-width="6.6"/>
<path d="M1289.3 70L1332.3 70L1355.2 70.3" stroke="url(#g111)" stroke-width="6.6"/>
<path d="M1183.4 210.7L1206.3 211L1249.3 211" stroke="url(#g112)" stroke-width="6.6"/>
<path d="M1395.2 205.6L1401 203.9L1406.7 201.6" stroke="url(#g113)" stroke-width="6.6"/>
<path d="M1452.5 153.7h0M1455.3 150.3h0M1458.2 146.5h0" stroke="url(#g113)" stroke-width="6.6"/>
<path d="M1080.4 396.2h0M1083.3 392.4h0M1086.1 389h0" stroke="url(#g114)" stroke-width="6.6"/>
<path d="M1131.9 341.1L1137.6 338.8L1143.4 337.1" stroke="url(#g114)" stroke-width="6.6"/>
<path d="M1289.3 331.7L1332.3 331.7L1355.2 332" stroke="url(#g115)" stroke-width="6.6"/>
<path d="M1183.4 472.4L1206.3 472.7L1249.3 472.7" stroke="url(#g116)" stroke-width="6.6"/>
<path d="M1395.2 467.3L1401 465.6L1406.7 463.3" stroke="url(#g117)" stroke-width="6.6"/>
<path d="M1452.5 415.4h0M1455.3 412h0M1458.2 408.2h0" stroke="url(#g117)" stroke-width="6.6"/>
<path d="M1426.7 56.2h0M1429.6 54.3h0M1432.4 52h0M1435.3 49.4h0M1438.2 46.4h0M1441 43.6h0M1443.9 40.7h0M1446.7 37.2h0M1449.6 33.9h0M1452.5 31h0" stroke="url(#g63)" stroke-width="6.6"/>
<path d="M1086.1 250h0M1089 247.1h0M1091.9 243.8h0M1094.7 240.3h0M1097.6 237.4h0M1100.4 234.6h0M1103.3 231.6h0M1106.2 229h0M1109 226.7h0M1111.9 224.8h0" stroke="url(#g64)" stroke-width="6.6"/>
<path d="M1426.7 317.9h0M1429.6 316h0M1432.4 313.7h0M1435.3 311.1h0M1438.2 308.1h0M1441 305.3h0M1443.9 302.4h0M1446.7 298.9h0M1449.6 295.6h0M1452.5 292.7h0" stroke="url(#g67)" stroke-width="6.6"/>
<path d="M1086.1 511.7h0M1089 508.8h0M1091.9 505.5h0M1094.7 502h0M1097.6 499.1h0M1100.4 496.3h0M1103.3 493.3h0M1106.2 490.7h0M1109 488.4h0M1111.9 486.5h0" stroke="url(#g68)" stroke-width="6.6"/>
<path d="M1066.1 22.4L1077.5 20.7" stroke="url(#g70)" stroke-width="6.6"/>
<path d="M1169.1 17.9L1177.7 17.5" stroke="url(#g70)" stroke-width="6.6"/>
<path d="M1192 17L1200.6 17" stroke="url(#g70)" stroke-width="6.6"/>
<path d="M1226.4 16.9L1232.1 16.9" stroke="url(#g70)" stroke-width="6.6"/>
<path d="M1266.4 16.4L1269.3 16.4" stroke="url(#g70)" stroke-width="6.6"/>
<path d="M1269.3 264.6L1272.2 264.6" stroke="url(#g73)" stroke-width="6.6"/>
<path d="M1306.5 264.1L1312.2 264.1" stroke="url(#g73)" stroke-width="6.6"/>
<path d="M1338 264L1346.6 264" stroke="url(#g73)" stroke-width="6.6"/>
<path d="M1360.9 263.5L1369.5 263.1" stroke="url(#g73)" stroke-width="6.6"/>
<path d="M1461.1 260.3L1472.5 258.6" stroke="url(#g73)" stroke-width="6.6"/>
<path d="M1066.1 284.1L1077.5 282.4" stroke="url(#g74)" stroke-width="6.6"/>
<path d="M1169.1 279.6L1177.7 279.2" stroke="url(#g74)" stroke-width="6.6"/>
<path d="M1192 278.7L1200.6 278.7" stroke="url(#g74)" stroke-width="6.6"/>
<path d="M1226.4 278.6L1232.1 278.6" stroke="url(#g74)" stroke-width="6.6"/>
<path d="M1266.4 278.1L1269.3 278.1" stroke="url(#g74)" stroke-width="6.6"/>
<path d="M1269.3 526.3L1272.2 526.3" stroke="url(#g77)" stroke-width="6.6"/>
<path d="M1306.5 525.8L1312.2 525.8" stroke="url(#g77)" stroke-width="6.6"/>
<path d="M1338 525.7L1346.6 525.7" stroke="url(#g77)" stroke-width="6.6"/>
<path d="M1360.9 525.2L1369.5 524.8" stroke="url(#g77)" stroke-width="6.6"/>
<path d="M1461.1 522L1472.5 520.3" stroke="url(#g77)" stroke-width="6.6"/>
<path d="M1269.3 17.6L1272.2 17.6" stroke="url(#g79)" stroke-width="6.6"/>
<path d="M1306.5 17.8L1312.2 17.8" stroke="url(#g79)" stroke-width="6.6"/>
<path d="M1226.4 263.2L1232.1 263.2" stroke="url(#g80)" stroke-width="6.6"/>
<path d="M1266.4 263.4L1269.3 263.4" stroke="url(#g80)" stroke-width="6.6"/>
<path d="M1269.3 279.3L1272.2 279.3" stroke="url(#g83)" stroke-width="6.6"/>
<path d="M1306.5 279.5L1312.2 279.5" stroke="url(#g83)" stroke-width="6.6"/>
<path d="M1226.4 524.9L1232.1 524.9" stroke="url(#g84)" stroke-width="6.6"/>
<path d="M1266.4 525.1L1269.3 525.1" stroke="url(#g84)" stroke-width="6.6"/>
<path d="M1106.2 68L1114.8 68.5L1117.6 68.4" stroke="url(#g86)" stroke-width="6.6"/>
<path d="M1421 212.6L1423.8 212.5L1432.4 213" stroke="url(#g89)" stroke-width="6.6"/>
<path d="M1106.2 329.7L1114.8 330.2L1117.6 330.1" stroke="url(#g90)" stroke-width="6.6"/>
<path d="M1421 474.3L1423.8 474.2L1432.4 474.7" stroke="url(#g93)" stroke-width="6.6"/>
<path d="M1360.9 70L1389.5 70.5" stroke="url(#g95)" stroke-width="6.6"/>
<path d="M1149.1 210.5L1177.7 211" stroke="url(#g96)" stroke-width="6.6"/>
<path d="M1360.9 331.7L1389.5 332.2" stroke="url(#g99)" stroke-width="6.6"/>
<path d="M1149.1 472.2L1177.7 472.7" stroke="url(#g100)" stroke-width="6.6"/>
<path d="M1094.7 91.8h0M1097.6 88.2h0M1100.4 83.9h0M1103.3 78.6h0" stroke="url(#g102)" stroke-width="6.6"/>
<path d="M1106.2 71.1h0M1109 63.6h0M1111.9 57.7h0M1114.8 52.1h0M1117.6 46.9h0M1120.5 42.3h0" stroke="url(#g102)" stroke-width="6.6"/>
<path d="M1418.1 238.7h0M1421 234.1h0M1423.8 228.9h0M1426.7 223.3h0M1429.6 217.4h0M1432.4 209.9h0" stroke="url(#g105)" stroke-width="6.6"/>
<path d="M1435.3 202.4h0M1438.2 197.1h0M1441 192.8h0M1443.9 189.2h0" stroke="url(#g105)" stroke-width="6.6"/>
<path d="M1094.7 353.5h0M1097.6 349.9h0M1100.4 345.6h0M1103.3 340.3h0" stroke="url(#g106)" stroke-width="6.6"/>
<path d="M1106.2 332.8h0M1109 325.3h0M1111.9 319.4h0M1114.8 313.8h0M1117.6 308.6h0M1120.5 304h0" stroke="url(#g106)" stroke-width="6.6"/>
<path d="M1418.1 500.4h0M1421 495.8h0M1423.8 490.6h0M1426.7 485h0M1429.6 479.1h0M1432.4 471.6h0" stroke="url(#g109)" stroke-width="6.6"/>
<path d="M1435.3 464.1h0M1438.2 458.8h0M1441 454.5h0M1443.9 450.9h0" stroke="url(#g109)" stroke-width="6.6"/>
<path d="M1074.7 141.2h0M1077.5 138.4h0M1080.4 134.5h0M1083.3 130.7h0" stroke="url(#g110)" stroke-width="6.6"/>
<path d="M1083.3 130.7h0M1086.1 127.3h0M1089 123.8h0" stroke="url(#g110)" stroke-width="6.6"/>
<path d="M1120.5 86.2h0M1123.3 84.3h0M1126.2 82.5h0M1129.1 80.9h0M1131.9 79.4L1134.8 78.1" stroke="url(#g110)" stroke-width="6.6"/>
<path d="M1403.8 202.9L1406.7 201.6M1409.5 200.1h0M1412.4 198.5h0M1415.3 196.7h0M1418.1 194.8h0" stroke="url(#g113)" stroke-width="6.6"/>
<path d="M1449.6 157.2h0M1452.5 153.7h0M1455.3 150.3h0" stroke="url(#g113)" stroke-width="6.6"/>
<path d="M1455.3 150.3h0M1458.2 146.5h0M1461.1 142.6h0M1463.9 139.8h0" stroke="url(#g113)" stroke-width="6.6"/>
<path d="M1074.7 402.9h0M1077.5 400.1h0M1080.4 396.2h0M1083.3 392.4h0" stroke="url(#g114)" stroke-width="6.6"/>
<path d="M1083.3 392.4h0M1086.1 389h0M1089 385.5h0" stroke="url(#g114)" stroke-width="6.6"/>
<path d="M1120.5 347.9h0M1123.3 346h0M1126.2 344.2h0M1129.1 342.6h0M1131.9 341.1L1134.8 339.8" stroke="url(#g114)" stroke-width="6.6"/>
<path d="M1403.8 464.6L1406.7 463.3M1409.5 461.8h0M1412.4 460.2h0M1415.3 458.4h0M1418.1 456.5h0" stroke="url(#g117)" stroke-width="6.6"/>
<path d="M1449.6 418.9h0M1452.5 415.4h0M1455.3 412h0" stroke="url(#g117)" stroke-width="6.6"/>
<path d="M1455.3 412h0M1458.2 408.2h0M1461.1 404.3h0M1463.9 401.5h0" stroke="url(#g117)" stroke-width="6.6"/>
<path d="M1235 130.1L1240.7 130.1" stroke="url(#g118)" stroke-width="6.6"/>
<path d="M1266.4 129.8L1269.3 129.8" stroke="url(#g118)" stroke-width="6.6"/>
<path d="M1269.3 151.2L1272.2 151.2" stroke="url(#g121)" stroke-width="6.6"/>
<path d="M1297.9 150.9L1303.6 150.9" stroke="url(#g121)" stroke-width="6.6"/>
<path d="M1235 391.8L1240.7 391.8" stroke="url(#g122)" stroke-width="6.6"/>
<path d="M1266.4 391.5L1269.3 391.5" stroke="url(#g122)" stroke-width="6.6"/>
<path d="M1269.3 412.9L1272.2 412.9" stroke="url(#g125)" stroke-width="6.6"/>
<path d="M1297.9 412.6L1303.6 412.6" stroke="url(#g125)" stroke-width="6.6"/>
<path d="M1269.3 130.6L1272.2 130.6" stroke="url(#g127)" stroke-width="6.6"/>
<path d="M1297.9 131L1303.6 131.1" stroke="url(#g127)" stroke-width="6.6"/>
<path d="M1235 149.9L1240.7 150" stroke="url(#g128)" stroke-width="6.6"/>
<path d="M1266.4 150.4L1269.3 150.4" stroke="url(#g128)" stroke-width="6.6"/>
<path d="M1269.3 392.3L1272.2 392.3" stroke="url(#g131)" stroke-width="6.6"/>
<path d="M1297.9 392.7L1303.6 392.8" stroke="url(#g131)" stroke-width="6.6"/>
<path d="M1235 411.6L1240.7 411.7" stroke="url(#g132)" stroke-width="6.6"/>
<path d="M1266.4 412.1L1269.3 412.1" stroke="url(#g132)" stroke-width="6.6"/>
<path d="M983.1 9.3L1269.3 9.3" stroke="url(#g46)" stroke-width="6.6"/>
<path d="M1269.3 271.7L1555.5 271.7" stroke="url(#g49)" stroke-width="6.6"/>
<path d="M983.1 271L1269.3 271" stroke="url(#g50)" stroke-width="6.6"/>
<path d="M1269.3 533.4L1555.5 533.4" stroke="url(#g53)" stroke-width="6.6"/>
<path d="M983.1 24.4L1051.8 23.2L1063.2 22.7L1069 21.9" stroke="url(#g70)" stroke-width="6.6"/>
<path d="M1074.7 21.1L1077.5 20.7L1083.3 20.4L1143.4 19.4L1172 17.8" stroke="url(#g70)" stroke-width="6.6"/>
<path d="M1197.8 17L1229.2 16.9" stroke="url(#g70)" stroke-width="6.6"/>
<path d="M1229.2 16.9L1269.3 16.4" stroke="url(#g70)" stroke-width="6.6"/>
<path d="M1269.3 264.6L1309.4 264.1" stroke="url(#g73)" stroke-width="6.6"/>
<path d="M1309.4 264.1L1340.8 264" stroke="url(#g73)" stroke-width="6.6"/>
<path d="M1366.6 263.2L1395.2 261.6L1455.3 260.6L1461.1 260.3L1463.9 259.9" stroke="url(#g73)" stroke-width="6.6"/>
<path d="M1469.6 259.1L1475.4 258.3L1486.8 257.8L1555.5 256.6" stroke="url(#g73)" stroke-width="6.6"/>
<path d="M983.1 286.1L1051.8 284.9L1063.2 284.4L1069 283.6" stroke="url(#g74)" stroke-width="6.6"/>
<path d="M1074.7 282.8L1077.5 282.4L1083.3 282.1L1143.4 281.1L1172 279.5" stroke="url(#g74)" stroke-width="6.6"/>
<path d="M1197.8 278.7L1229.2 278.6" stroke="url(#g74)" stroke-width="6.6"/>
<path d="M1229.2 278.6L1269.3 278.1" stroke="url(#g74)" stroke-width="6.6"/>
<path d="M1269.3 526.3L1309.4 525.8" stroke="url(#g77)" stroke-width="6.6"/>
<path d="M1309.4 525.8L1340.8 525.7" stroke="url(#g77)" stroke-width="6.6"/>
<path d="M1366.6 524.9L1395.2 523.3L1455.3 522.3L1461.1 522L1463.9 521.6" stroke="url(#g77)" stroke-width="6.6"/>
<path d="M1469.6 520.8L1475.4 520L1486.8 519.5L1555.5 518.3" stroke="url(#g77)" stroke-width="6.6"/>
<path d="M1269.3 17.6L1309.4 17.8" stroke="url(#g79)" stroke-width="6.6"/>
<path d="M1309.4 17.8L1340.8 18.3L1372.3 19.1L1415.3 21.4L1455.3 23L1472.5 24.8L1478.2 25.1L1555.5 24.5" stroke="url(#g79)" stroke-width="6.6"/>
<path d="M983.1 256.5L1060.4 255.9L1066.1 256.2L1083.3 258L1123.3 259.6L1166.3 261.9L1197.8 262.7L1229.2 263.2" stroke="url(#g80)" stroke-width="6.6"/>
<path d="M1229.2 263.2L1269.3 263.4" stroke="url(#g80)" stroke-width="6.6"/>
<path d="M1269.3 279.3L1309.4 279.5" stroke="url(#g83)" stroke-width="6.6"/>
<path d="M1309.4 279.5L1340.8 280L1372.3 280.8L1415.3 283.1L1455.3 284.7L1472.5 286.5L1478.2 286.8L1555.5 286.2" stroke="url(#g83)" stroke-width="6.6"/>
<path d="M983.1 518.2L1060.4 517.6L1066.1 517.9L1083.3 519.7L1123.3 521.3L1166.3 523.6L1197.8 524.4L1229.2 524.9" stroke="url(#g84)" stroke-width="6.6"/>
<path d="M1229.2 524.9L1269.3 525.1" stroke="url(#g84)" stroke-width="6.6"/>
<path d="M983.1 75L997.4 74.7L1011.7 74.1L1040.3 71.8L1094.7 68.4L1103.3 68L1109 68.2" stroke="url(#g86)" stroke-width="6.6"/>
<path d="M1429.6 212.8L1435.3 213L1443.9 212.6L1498.3 209.2L1526.9 206.9L1541.2 206.3L1555.5 206" stroke="url(#g89)" stroke-width="6.6"/>
<path d="M983.1 336.7L997.4 336.4L1011.7 335.8L1040.3 333.5L1094.7 330.1L1103.3 329.7L1109 329.9" stroke="url(#g90)" stroke-width="6.6"/>
<path d="M1429.6 474.5L1435.3 474.7L1443.9 474.3L1498.3 470.9L1526.9 468.6L1541.2 468L1555.5 467.7" stroke="url(#g93)" stroke-width="6.6"/>
<path d="M1386.6 70.5L1446.7 73.5L1486.8 75.1L1521.2 75.4L1555.5 75.1" stroke="url(#g95)" stroke-width="6.6"/>
<path d="M983.1 205.9L1017.4 205.6L1051.8 205.9L1091.9 207.5L1152 210.5" stroke="url(#g96)" stroke-width="6.6"/>
<path d="M1386.6 332.2L1446.7 335.2L1486.8 336.8L1521.2 337.1L1555.5 336.8" stroke="url(#g99)" stroke-width="6.6"/>
<path d="M983.1 467.6L1017.4 467.3L1051.8 467.6L1091.9 469.2L1152 472.2" stroke="url(#g100)" stroke-width="6.6"/>
<path d="M983.1 117.6L1031.8 122.9L1040.3 123.5L1046.1 123.2L1057.5 121.1L1060.4 120.4L1066.1 117.9M1069 116.5h0M1071.8 114.7h0M1074.7 112.7h0M1077.5 110.4h0M1080.4 107.8h0M1083.3 104.9h0M1086.1 101.9h0M1089 98.6h0M1091.9 95.2h0M1094.7 91.8h0M1097.6 88.2h0" stroke="url(#g102)" stroke-width="6.6"/>
<path d="M1441 192.8h0M1443.9 189.2h0M1446.7 185.8h0M1449.6 182.4h0M1452.5 179.1h0M1455.3 176.1h0M1458.2 173.2h0M1461.1 170.6h0M1463.9 168.3h0M1466.8 166.3h0M1469.6 164.5h0M1472.5 163.1L1478.2 160.6L1481.1 159.9L1492.5 157.8L1498.3 157.5L1506.8 158.1L1555.5 163.4" stroke="url(#g105)" stroke-width="6.6"/>
<path d="M983.1 379.3L1031.8 384.6L1040.3 385.2L1046.1 384.9L1057.5 382.8L1060.4 382.1L1066.1 379.6M1069 378.2h0M1071.8 376.4h0M1074.7 374.4h0M1077.5 372.1h0M1080.4 369.5h0M1083.3 366.6h0M1086.1 363.6h0M1089 360.3h0M1091.9 356.9h0M1094.7 353.5h0M1097.6 349.9h0" stroke="url(#g106)" stroke-width="6.6"/>
<path d="M1441 454.5h0M1443.9 450.9h0M1446.7 447.5h0M1449.6 444.1h0M1452.5 440.8h0M1455.3 437.8h0M1458.2 434.9h0M1461.1 432.3h0M1463.9 430h0M1466.8 428h0M1469.6 426.2h0M1472.5 424.8L1478.2 422.3L1481.1 421.6L1492.5 419.5L1498.3 419.2L1506.8 419.8L1555.5 425.1" stroke="url(#g109)" stroke-width="6.6"/>
<path d="M983.1 163L991.7 162.8L1003.1 162.1L1017.4 160.7L1023.2 159.7L1037.5 156.4L1046.1 154L1057.5 150.1L1066.1 146.5M1069 144.9h0M1071.8 143.2h0M1074.7 141.2h0M1077.5 138.4h0" stroke="url(#g110)" stroke-width="6.6"/>
<path d="M1086.1 127.3h0M1089 123.8h0M1091.9 120h0M1094.7 115.8h0M1097.6 111.7h0M1100.4 107.6h0M1103.3 103.8h0M1106.2 100.2h0M1109 96.8h0M1111.9 93.6h0M1114.8 90.8h0M1117.6 88.3h0M1120.5 86.2h0M1123.3 84.3h0" stroke="url(#g110)" stroke-width="6.6"/>
<path d="M1415.3 196.7h0M1418.1 194.8h0M1421 192.7h0M1423.8 190.2h0M1426.7 187.4h0M1429.6 184.2h0M1432.4 180.8h0M1435.3 177.2h0M1438.2 173.4h0M1441 169.3h0M1443.9 165.2h0M1446.7 161h0M1449.6 157.2h0M1452.5 153.7h0" stroke="url(#g113)" stroke-width="6.6"/>
<path d="M1461.1 142.6h0M1463.9 139.8h0M1466.8 137.8h0M1469.6 136.1h0M1472.5 134.5L1481.1 130.9L1492.5 127L1501.1 124.6L1515.4 121.3L1521.2 120.3L1535.5 118.9L1546.9 118.2L1555.5 118" stroke="url(#g113)" stroke-width="6.6"/>
<path d="M983.1 424.7L991.7 424.5L1003.1 423.8L1017.4 422.4L1023.2 421.4L1037.5 418.1L1046.1 415.7L1057.5 411.8L1066.1 408.2M1069 406.6h0M1071.8 404.9h0M1074.7 402.9h0M1077.5 400.1h0" stroke="url(#g114)" stroke-width="6.6"/>
<path d="M1086.1 389h0M1089 385.5h0M1091.9 381.7h0M1094.7 377.5h0M1097.6 373.4h0M1100.4 369.3h0M1103.3 365.5h0M1106.2 361.9h0M1109 358.5h0M1111.9 355.3h0M1114.8 352.5h0M1117.6 350h0M1120.5 347.9h0M1123.3 346h0" stroke="url(#g114)" stroke-width="6.6"/>
<path d="M1415.3 458.4h0M1418.1 456.5h0M1421 454.4h0M1423.8 451.9h0M1426.7 449.1h0M1429.6 445.9h0M1432.4 442.5h0M1435.3 438.9h0M1438.2 435.1h0M1441 431h0M1443.9 426.9h0M1446.7 422.7h0M1449.6 418.9h0M1452.5 415.4h0" stroke="url(#g117)" stroke-width="6.6"/>
<path d="M1461.1 404.3h0M1463.9 401.5h0M1466.8 399.5h0M1469.6 397.8h0M1472.5 396.2L1481.1 392.6L1492.5 388.7L1501.1 386.3L1515.4 383L1521.2 382L1535.5 380.6L1546.9 379.9L1555.5 379.7" stroke="url(#g117)" stroke-width="6.6"/>
<path d="M983.1 132.4L1237.8 130.1" stroke="url(#g118)" stroke-width="6.6"/>
<path d="M1237.8 130.1L1269.3 129.8" stroke="url(#g118)" stroke-width="6.6"/>
<path d="M1269.3 151.2L1300.8 150.9" stroke="url(#g121)" stroke-width="6.6"/>
<path d="M1300.8 150.9L1555.5 148.6" stroke="url(#g121)" stroke-width="6.6"/>
<path d="M983.1 394.1L1237.8 391.8" stroke="url(#g122)" stroke-width="6.6"/>
<path d="M1237.8 391.8L1269.3 391.5" stroke="url(#g122)" stroke-width="6.6"/>
<path d="M1269.3 412.9L1300.8 412.6" stroke="url(#g125)" stroke-width="6.6"/>
<path d="M1300.8 412.6L1555.5 410.3" stroke="url(#g125)" stroke-width="6.6"/>
<path d="M1269.3 130.6L1300.8 131.1" stroke="url(#g127)" stroke-width="6.6"/>
<path d="M1300.8 131.1L1475.4 133.1L1512.6 133.2L1555.5 132.6" stroke="url(#g127)" stroke-width="6.6"/>
<path d="M983.1 148.4L1026 147.8L1063.2 147.9L1237.8 149.9" stroke="url(#g128)" stroke-width="6.6"/>
<path d="M1237.8 149.9L1269.3 150.4" stroke="url(#g128)" stroke-width="6.6"/>
<path d="M1269.3 392.3L1300.8 392.8" stroke="url(#g131)" stroke-width="6.6"/>
<path d="M1300.8 392.8L1475.4 394.8L1512.6 394.9L1555.5 394.3" stroke="url(#g131)" stroke-width="6.6"/>
<path d="M983.1 410.1L1026 409.5L1063.2 409.6L1237.8 411.6" stroke="url(#g132)" stroke-width="6.6"/>
<path d="M1237.8 411.6L1269.3 412.1" stroke="url(#g132)" stroke-width="6.6"/>
</g>
<rect x="983.1" y="9.6" width="572.4" height="523.4" fill="none" stroke="#000" stroke-width="1.7"/>
<path d="M983.1 533v7M1269.3 533v7M1555.5 533v7M983.1 9.6h-7M983.1 271.3h-7M983.1 533h-7M1617.4 482.3h7M1617.4 376.8h7M1617.4 271.4h7M1617.4 165.9h7M1617.4 60.4h7" stroke="#000" stroke-width="1.7" fill="none"/>
<g font-family="'Liberation Serif','DejaVu Serif',serif" font-size="31px" fill="#000">
<text x="983.1" y="570.6" text-anchor="middle" textLength="58" lengthAdjust="spacingAndGlyphs">−0.5</text>
<text x="1269.3" y="570.6" text-anchor="middle">0</text>
<text x="1555" y="570.6" text-anchor="middle" textLength="37.5" lengthAdjust="spacingAndGlyphs">0.5</text>
<text x="968.9" y="544.5" text-anchor="end">0</text>
<text x="968.4" y="282.8" text-anchor="end" textLength="17" lengthAdjust="spacingAndGlyphs" font-style="italic">π</text>
<text x="968.4" y="20.8" text-anchor="end" textLength="31.5" lengthAdjust="spacingAndGlyphs">2<tspan font-style="italic">π</tspan></text>
</g>
<text x="1268.3" y="614" text-anchor="middle" font-family="'Liberation Serif','DejaVu Serif',serif" font-size="40px" font-style="italic" textLength="31" lengthAdjust="spacingAndGlyphs">k<tspan font-size="28px" font-style="normal" dy="6">2</tspan></text>
<g transform="translate(917.5 271.3) rotate(-90)" fill="#000" font-family="'Liberation Serif','DejaVu Serif',serif" font-style="italic">
<text x="-20" y="0" font-size="38px" textLength="20" lengthAdjust="spacingAndGlyphs" stroke="#fff" stroke-width="0.4">γ</text>
<text x="0.5" y="8" font-size="27.5px" textLength="16" lengthAdjust="spacingAndGlyphs">n</text>
</g>
<linearGradient id="cbg2" x1="0" x2="0" y1="0" y2="1"><stop offset="0.0000" stop-color="#fde725"/><stop offset="0.0312" stop-color="#ece51b"/><stop offset="0.0625" stop-color="#d8e219"/><stop offset="0.0938" stop-color="#c2df23"/><stop offset="0.1250" stop-color="#addc30"/><stop offset="0.1562" stop-color="#98d83e"/><stop offset="0.1875" stop-color="#84d44b"/><stop offset="0.2188" stop-color="#70cf57"/><stop offset="0.2500" stop-color="#5ec962"/><stop offset="0.2812" stop-color="#4ec36b"/><stop offset="0.3125" stop-color="#3fbc73"/><stop offset="0.3438" stop-color="#32b67a"/><stop offset="0.3750" stop-color="#28ae80"/><stop offset="0.4062" stop-color="#22a785"/><stop offset="0.4375" stop-color="#1fa088"/><stop offset="0.4688" stop-color="#1f988b"/><stop offset="0.5000" stop-color="#21918c"/><stop offset="0.5312" stop-color="#23898e"/><stop offset="0.5625" stop-color="#26828e"/><stop offset="0.5938" stop-color="#297a8e"/><stop offset="0.6250" stop-color="#2c728e"/><stop offset="0.6562" stop-color="#2f6b8e"/><stop offset="0.6875" stop-color="#33638d"/><stop offset="0.7188" stop-color="#375b8d"/><stop offset="0.7500" stop-color="#3b528b"/><stop offset="0.7812" stop-color="#3e4989"/><stop offset="0.8125" stop-color="#424086"/><stop offset="0.8438" stop-color="#453781"/><stop offset="0.8750" stop-color="#472d7b"/><stop offset="0.9062" stop-color="#482374"/><stop offset="0.9375" stop-color="#48186a"/><stop offset="0.9688" stop-color="#470d60"/><stop offset="1.0000" stop-color="#440154"/></linearGradient>
<rect x="1591" y="9.5" width="26.4" height="523.7" fill="url(#cbg2)" stroke="#000" stroke-width="1.7"/>
<g font-family="'DejaVu Sans','Liberation Sans',sans-serif" font-size="19.3px" fill="#000">
<text x="1631" y="489.6">−0.4</text>
<text x="1631" y="384.2">−0.2</text>
<text x="1631" y="278.7">0.0</text>
<text x="1631" y="173.2">0.2</text>
<text x="1631" y="67.7">0.4</text>
</g>
<g transform="translate(1716.2 271.4) rotate(-90)" fill="#000" font-family="'Liberation Serif','DejaVu Serif',serif">
<text x="-46.6" y="0" font-family="'DejaVu Sans','Liberation Sans',sans-serif" font-size="41.5px" stroke="#fff" stroke-width="1.5">⟨</text>
<text x="-31" y="0" font-size="33px" font-style="italic" textLength="18.6" lengthAdjust="spacingAndGlyphs">S</text>
<text x="-12.6" y="5.2" font-size="21.5px" font-style="italic" textLength="9.2" lengthAdjust="spacingAndGlyphs">z</text>
<text x="-1.4" y="0" font-family="'DejaVu Sans','Liberation Sans',sans-serif" font-size="41.5px" stroke="#fff" stroke-width="1.5">⟩</text>
<text x="15.4" y="6.6" font-size="45px">/</text>
<text x="28.6" y="0" font-size="32px" font-style="italic" textLength="17" lengthAdjust="spacingAndGlyphs">ħ</text>
</g>
</g>
<g id="panel3">
<clipPath id="clip3"><rect x="82.9" y="678.6" width="572" height="523.4"/></clipPath>
<g clip-path="url(#clip3)" fill="none" stroke-linecap="round" stroke-linejoin="round">
<linearGradient id="g134" gradientUnits="userSpaceOnUse" x1="83" x2="655" y1="0" y2="0"><stop offset="0" stop-color="#440154"/><stop offset="0.1573" stop-color="#440154"/><stop offset="0.1871" stop-color="#433e85"/><stop offset="0.2045" stop-color="#355f8d"/><stop offset="0.2308" stop-color="#463480"/><stop offset="0.2745" stop-color="#440154"/><stop offset="1" stop-color="#440154"/></linearGradient>
<linearGradient id="g135" gradientUnits="userSpaceOnUse" x1="83" x2="530" y1="0" y2="0"><stop offset="0" stop-color="#440154"/><stop offset="0.8881" stop-color="#440154"/><stop offset="0.9329" stop-color="#463480"/><stop offset="0.9664" stop-color="#2f6c8e"/><stop offset="1" stop-color="#25848e"/></linearGradient>
<linearGradient id="g136" gradientUnits="userSpaceOnUse" x1="200" x2="655" y1="0" y2="0"><stop offset="0" stop-color="#25848e"/><stop offset="0.0484" stop-color="#355f8d"/><stop offset="0.0769" stop-color="#481d6f"/><stop offset="0.1099" stop-color="#440154"/><stop offset="1" stop-color="#440154"/></linearGradient>
<linearGradient id="g137" gradientUnits="userSpaceOnUse" x1="497.8" x2="654.8" y1="0" y2="0"><stop offset="0" stop-color="#23898e"/><stop offset="0.0955" stop-color="#2a788e"/><stop offset="0.1783" stop-color="#3b528b"/><stop offset="0.2548" stop-color="#472a7a"/><stop offset="0.3503" stop-color="#440154"/><stop offset="1" stop-color="#440154"/></linearGradient>
<linearGradient id="g138" gradientUnits="userSpaceOnUse" x1="83" x2="655" y1="0" y2="0"><stop offset="0" stop-color="#1f978b"/><stop offset="0.1783" stop-color="#1f978b"/><stop offset="0.2045" stop-color="#2c738e"/><stop offset="0.2255" stop-color="#26828e"/><stop offset="0.257" stop-color="#1f978b"/><stop offset="0.7378" stop-color="#1f978b"/><stop offset="0.7675" stop-color="#44bf70"/><stop offset="0.7937" stop-color="#7ad151"/><stop offset="0.8199" stop-color="#1f978b"/><stop offset="1" stop-color="#1f978b"/></linearGradient>
<linearGradient id="g139" gradientUnits="userSpaceOnUse" x1="83" x2="655" y1="0" y2="0"><stop offset="0" stop-color="#1f978b"/><stop offset="0.1871" stop-color="#1f978b"/><stop offset="0.2098" stop-color="#5ec962"/><stop offset="0.229" stop-color="#7ad151"/><stop offset="0.2605" stop-color="#1f978b"/><stop offset="0.7378" stop-color="#1f978b"/><stop offset="0.7657" stop-color="#2c738e"/><stop offset="0.7902" stop-color="#2a788e"/><stop offset="0.8129" stop-color="#1f978b"/><stop offset="1" stop-color="#1f978b"/></linearGradient>
<linearGradient id="g140" gradientUnits="userSpaceOnUse" x1="83" x2="655" y1="0" y2="0"><stop offset="0" stop-color="#6ece58"/><stop offset="0.1171" stop-color="#6ece58"/><stop offset="0.1696" stop-color="#20a386"/><stop offset="0.2133" stop-color="#21918c"/><stop offset="0.2395" stop-color="#2fb47c"/><stop offset="0.2605" stop-color="#a2da37"/><stop offset="0.3094" stop-color="#8ed645"/><stop offset="0.6766" stop-color="#81d34d"/><stop offset="0.7203" stop-color="#b0dd2f"/><stop offset="0.7343" stop-color="#22a884"/><stop offset="0.75" stop-color="#2c738e"/><stop offset="0.7727" stop-color="#25848e"/><stop offset="0.799" stop-color="#1f978b"/><stop offset="0.8339" stop-color="#1e9c89"/><stop offset="0.8951" stop-color="#5ec962"/><stop offset="1" stop-color="#6ece58"/></linearGradient>
<linearGradient id="g141" gradientUnits="userSpaceOnUse" x1="83" x2="655" y1="0" y2="0"><stop offset="0" stop-color="#69cd5b"/><stop offset="0.1224" stop-color="#69cd5b"/><stop offset="0.1696" stop-color="#1f978b"/><stop offset="0.229" stop-color="#21918c"/><stop offset="0.2465" stop-color="#2f6c8e"/><stop offset="0.2587" stop-color="#22a884"/><stop offset="0.271" stop-color="#a2da37"/><stop offset="0.3094" stop-color="#bddf26"/><stop offset="0.3531" stop-color="#81d34d"/><stop offset="0.6766" stop-color="#81d34d"/><stop offset="0.7203" stop-color="#bddf26"/><stop offset="0.743" stop-color="#7ad151"/><stop offset="0.7657" stop-color="#1f978b"/><stop offset="0.8269" stop-color="#1f978b"/><stop offset="0.8881" stop-color="#5ec962"/><stop offset="1" stop-color="#69cd5b"/></linearGradient>
<linearGradient id="g142" gradientUnits="userSpaceOnUse" x1="83" x2="655" y1="0" y2="0"><stop offset="0" stop-color="#fde725"/><stop offset="0.2587" stop-color="#fde725"/><stop offset="0.2902" stop-color="#bddf26"/><stop offset="0.3357" stop-color="#5ec962"/><stop offset="0.3969" stop-color="#1f958b"/><stop offset="0.4423" stop-color="#1f958b"/><stop offset="0.458" stop-color="#44bf70"/><stop offset="0.5" stop-color="#4ec36b"/><stop offset="0.5367" stop-color="#44bf70"/><stop offset="0.5542" stop-color="#1f958b"/><stop offset="0.6154" stop-color="#1f958b"/><stop offset="0.6591" stop-color="#5ec962"/><stop offset="0.7063" stop-color="#bddf26"/><stop offset="0.7517" stop-color="#fde725"/><stop offset="1" stop-color="#fde725"/></linearGradient>
<linearGradient id="g143" gradientUnits="userSpaceOnUse" x1="83" x2="655" y1="0" y2="0"><stop offset="0" stop-color="#fde725"/><stop offset="0.229" stop-color="#fde725"/><stop offset="0.2902" stop-color="#bddf26"/><stop offset="0.3199" stop-color="#5ec962"/><stop offset="0.3654" stop-color="#1f958b"/><stop offset="0.4108" stop-color="#1f958b"/><stop offset="0.4423" stop-color="#5ec962"/><stop offset="0.472" stop-color="#7ad151"/><stop offset="0.5" stop-color="#7ad151"/><stop offset="0.528" stop-color="#7ad151"/><stop offset="0.5542" stop-color="#5ec962"/><stop offset="0.6154" stop-color="#1f958b"/><stop offset="0.6294" stop-color="#1f958b"/><stop offset="0.6766" stop-color="#5ec962"/><stop offset="0.736" stop-color="#bddf26"/><stop offset="0.7657" stop-color="#fde725"/><stop offset="1" stop-color="#fde725"/></linearGradient>
<linearGradient id="g144" gradientUnits="userSpaceOnUse" x1="83" x2="240" y1="0" y2="0"><stop offset="0" stop-color="#fde725"/><stop offset="0.6497" stop-color="#fde725"/><stop offset="0.7452" stop-color="#b0dd2f"/><stop offset="0.8217" stop-color="#5ec962"/><stop offset="0.9045" stop-color="#22a884"/><stop offset="1" stop-color="#1f978b"/></linearGradient>
<linearGradient id="g145" gradientUnits="userSpaceOnUse" x1="185" x2="552" y1="0" y2="0"><stop offset="0" stop-color="#fde725"/><stop offset="0.267" stop-color="#fde725"/><stop offset="0.3624" stop-color="#cae11f"/><stop offset="0.4578" stop-color="#7ad151"/><stop offset="0.545" stop-color="#7ad151"/><stop offset="0.6403" stop-color="#cae11f"/><stop offset="0.6812" stop-color="#fde725"/><stop offset="1" stop-color="#fde725"/></linearGradient>
<linearGradient id="g146" gradientUnits="userSpaceOnUse" x1="82.8" x2="654.8" y1="0" y2="0"><stop offset="0" stop-color="#fde725"/><stop offset="0.7255" stop-color="#fde725"/><stop offset="0.7692" stop-color="#9bd93c"/><stop offset="0.7955" stop-color="#44bf70"/><stop offset="0.8129" stop-color="#86d549"/><stop offset="0.8427" stop-color="#fde725"/><stop offset="1" stop-color="#fde725"/></linearGradient>
<linearGradient id="g147" gradientUnits="userSpaceOnUse" x1="207.8" x2="654.8" y1="0" y2="0"><stop offset="0" stop-color="#1e9c89"/><stop offset="0.0336" stop-color="#2fb47c"/><stop offset="0.0671" stop-color="#9bd93c"/><stop offset="0.1119" stop-color="#fde725"/><stop offset="1" stop-color="#fde725"/></linearGradient>
<linearGradient id="g148" gradientUnits="userSpaceOnUse" x1="82.8" x2="537.8" y1="0" y2="0"><stop offset="0" stop-color="#fde725"/><stop offset="0.8901" stop-color="#fde725"/><stop offset="0.9231" stop-color="#cae11f"/><stop offset="0.9516" stop-color="#44bf70"/><stop offset="1" stop-color="#1e9c89"/></linearGradient>
<linearGradient id="g149" gradientUnits="userSpaceOnUse" x1="83" x2="655" y1="0" y2="0"><stop offset="0" stop-color="#fde725"/><stop offset="0.229" stop-color="#fde725"/><stop offset="0.257" stop-color="#bddf26"/><stop offset="0.3094" stop-color="#dfe318"/><stop offset="0.4318" stop-color="#fde725"/><stop offset="1" stop-color="#fde725"/></linearGradient>
<linearGradient id="g150" gradientUnits="userSpaceOnUse" x1="83" x2="655" y1="0" y2="0"><stop offset="0" stop-color="#fde725"/><stop offset="0.229" stop-color="#fde725"/><stop offset="0.25" stop-color="#b0dd2f"/><stop offset="0.292" stop-color="#cae11f"/><stop offset="0.3794" stop-color="#ece51b"/><stop offset="0.4493" stop-color="#fde725"/><stop offset="0.6241" stop-color="#fde725"/><stop offset="0.6941" stop-color="#dfe318"/><stop offset="0.764" stop-color="#ece51b"/><stop offset="0.799" stop-color="#fde725"/><stop offset="1" stop-color="#fde725"/></linearGradient>
<path d="M84.3 733.1L103.9 730.2L112.3 728.5L136.2 722.9L150.2 718.9L155.8 716.6L158.6 714.9L165.6 709.5L174 701.8L181 696.2L186.6 692.5L192.3 689.6L197.9 687.6L204.9 686L224.5 683.2L232.9 682.2L251.1 681L269.4 680.2L357.7 678.7L653.5 678.6" stroke="url(#g134)" stroke-width="6.6"/>
<path d="M84.3 948.4L117.9 948.4L127.8 948.1L137.6 947.3L143.2 945.9L146 944.7L151.6 941.2L154.4 938.6L155.8 937L175.4 904.4L183.8 894.7L192.3 886.4L195.1 884L200.7 879.7L203.5 877.9L207.7 875.6L211.9 873.8L217.5 871.7L231.5 867.3L248.3 863.5L263.8 861.3L307.2 856.4L350.7 852.1L368.9 850L425 844.8L482.5 837.8L495.1 836L504.9 834L513.3 831.6L527.3 826.8L535.7 823.1L542.7 819L546.9 815.6L554 808.2L558.2 802.9L562.4 796.7L565.2 791.8L570.8 781L577.8 769.5L582 763.5L584.8 760L587.6 757.3L590.4 755L594.6 752.2L601.6 748.6L608.6 745.6L615.6 743L624.1 740.3L631.1 738.4L653.5 733.6" stroke="#440154" stroke-width="6.6"/>
<path d="M84.3 967.4L99.7 966.1L108.1 964.8L115.1 963L147.4 953.2L155.8 951.7L164.2 950.8L197.9 950.3L367.5 949.6L653.5 949" stroke="#440154" stroke-width="6.6"/>
<path d="M84.3 1077.5L105.3 1077.2L115.1 1076.7L129.2 1075.6L140.4 1073.9L146 1072.8L151.6 1071.1L167 1065.2L178.2 1060.6L182.4 1059.1L193.7 1056.9L202.1 1056L211.9 1056.4L231.5 1058.3L256.7 1061.2L290.4 1065.6L318.4 1067.6L331 1068L342.3 1067.9L360.5 1067L385.7 1065.3L395.5 1064.2L408.2 1062.4L427.8 1059.2L443.2 1056.3L458.6 1053L469.8 1050.3L509.1 1039.4L518.9 1037.5L528.7 1036.3" stroke="url(#g135)" stroke-width="6.6"/>
<path d="M84.3 1145.5L112.3 1143.8L123.6 1142.6L129.2 1141.7L136.2 1139.9L146 1136.7L162.8 1129.3L169.8 1126.8L174 1125.5L182.4 1123.9L192.3 1122.6L209.1 1121.1L224.5 1120.5L239.9 1120.3" stroke="#440154" stroke-width="6.6"/>
<path d="M200.7 1189.3L211.9 1188.1L220.3 1186.5L255.3 1176.9L273.6 1171.4L287.6 1167.9L305.8 1164.3L318.4 1162.7L338.1 1161.2L384.3 1159.4L402.5 1159L418 1159.2L450.2 1160.8L465.6 1162.4L510.5 1167.8L524.5 1168.8L535.7 1168.9L545.5 1167.9L556.8 1165.7L562.4 1163.9L573.6 1159.7L587.6 1153.9L591.8 1152.5L596 1151.6L603 1150.4L610 1149.6L633.9 1147.9L653.5 1145.7" stroke="url(#g136)" stroke-width="6.6"/>
<path d="M510.5 1107.4L521.7 1106.6L537.1 1105.2L546.9 1103.9L556.8 1102.3L565.2 1100.3L573.6 1097.7L577.8 1096.1L591.8 1089.8L605.8 1085.6L615.6 1083.5L653.5 1077.7" stroke="#440154" stroke-width="6.6"/>
<path d="M84.3 752.6L654.9 754.6" stroke="#440154" stroke-width="6.6"/>
<path d="M110.9 1106.6L176.8 1106.8" stroke="#440154" stroke-width="6.6"/>
<path d="M150.2 1117.9L202.1 1117.5L253.9 1118" stroke="#440154" stroke-width="6.6"/>
<path d="M237.1 1192.6L479.7 1192.6" stroke="#440154" stroke-width="6.6"/>
<path d="M497.9 1018.4L511.9 1018L524.5 1016.9L535.7 1015L546.9 1011.7L554 1009.1L561 1005.2L566.6 1001.2L582 988.5L587.6 985.1L593.2 982.3L597.4 980.8L604.4 978.9L614.2 976.7L632.5 973.1L653.5 967.8" stroke="url(#g137)" stroke-width="6.6"/>
<path d="M84.3 684.3L654.9 684.3" stroke="url(#g138)" stroke-width="6.6"/>
<path d="M84.3 1018.4L654.9 1018.4" stroke="url(#g139)" stroke-width="6.6"/>
<path d="M84.3 1038L654.9 1038" stroke="url(#g140)" stroke-width="6.6"/>
<path d="M84.3 1188.6L654.9 1188.6" stroke="url(#g141)" stroke-width="6.6"/>
<path d="M84.3 1108L654.9 1108" stroke="url(#g142)" stroke-width="6.6"/>
<path d="M84.3 1119.3L654.9 1119.3" stroke="url(#g143)" stroke-width="6.6"/>
<path d="M84.3 967.8L105.3 973.1L123.6 976.7L133.4 978.9L140.4 980.8L144.6 982.3L150.2 985.1L155.8 988.5L171.2 1001.2L176.8 1005.2L183.8 1009.1L190.9 1011.7L202.1 1015L213.3 1016.9L225.9 1018L239.9 1018.4" stroke="url(#g144)" stroke-width="6.6"/>
<path d="M185.2 1110.5L202.1 1111.7L213.3 1112.2L364.7 1112.6L523.1 1112.2L534.3 1111.8L551.2 1110.6" stroke="url(#g145)" stroke-width="6.6"/>
<path d="M84.3 678.6L380.1 678.7L468.4 680.2L486.7 681L504.9 682.2L513.3 683.2L532.9 686L539.9 687.6L545.5 689.6L551.2 692.5L556.8 696.2L563.8 701.8L572.2 709.5L579.2 714.9L582 716.6L587.6 718.9L601.6 722.9L625.5 728.5L633.9 730.2L653.5 733.1" stroke="url(#g146)" stroke-width="6.6"/>
<path d="M84.3 733.6L106.7 738.4L113.7 740.3L122.2 743L129.2 745.6L136.2 748.6L143.2 752.2L147.4 755L150.2 757.3L153 760L155.8 763.5L160 769.5L167 781L172.6 791.8L175.4 796.7L179.6 802.9L183.8 808.2L190.9 815.6L195.1 819L202.1 823.1L210.5 826.8L224.5 831.6L232.9 834L242.7 836L255.3 837.8L312.8 844.8L368.9 850L387.1 852.1L430.6 856.4L474 861.3L489.5 863.5L506.3 867.3L520.3 871.7L525.9 873.8L530.1 875.6L534.3 877.9L537.1 879.7L542.7 884L545.5 886.4L554 894.7L562.4 904.4L582 937L583.4 938.6L586.2 941.2L591.8 944.7L594.6 945.9L600.2 947.3L610 948.1L619.9 948.4L653.5 948.4" stroke="#fde725" stroke-width="6.6"/>
<path d="M84.3 949L370.3 949.6L539.9 950.3L573.6 950.8L582 951.7L590.4 953.2L622.7 963L629.7 964.8L638.1 966.1L653.5 967.4" stroke="#fde725" stroke-width="6.6"/>
<path d="M209.1 1036.3L218.9 1037.5L228.7 1039.4L268 1050.3L279.2 1053L294.6 1056.3L310 1059.2L329.6 1062.4L342.3 1064.2L352.1 1065.3L377.3 1067L395.5 1067.9L406.8 1068L419.4 1067.6L447.4 1065.6L481.1 1061.2L506.3 1058.3L525.9 1056.4L535.7 1056L544.1 1056.9L555.4 1059.1L559.6 1060.6L570.8 1065.2L586.2 1071.1L591.8 1072.8L597.4 1073.9L608.6 1075.6L622.7 1076.7L632.5 1077.2L653.5 1077.5" stroke="url(#g147)" stroke-width="6.6"/>
<path d="M497.9 1120.3L513.3 1120.5L528.7 1121.1L545.5 1122.6L555.4 1123.9L563.8 1125.5L568 1126.8L575 1129.3L591.8 1136.7L601.6 1139.9L608.6 1141.7L614.2 1142.6L625.5 1143.8L653.5 1145.5" stroke="#fde725" stroke-width="6.6"/>
<path d="M84.3 1145.7L103.9 1147.9L127.8 1149.6L134.8 1150.4L141.8 1151.6L146 1152.5L150.2 1153.9L164.2 1159.7L175.4 1163.9L181 1165.7L192.3 1167.9L202.1 1168.9L213.3 1168.8L227.3 1167.8L272.2 1162.4L287.6 1160.8L319.8 1159.2L335.3 1159L353.5 1159.4L399.7 1161.2L419.4 1162.7L432 1164.3L450.2 1167.9L464.2 1171.4L482.5 1176.9L517.5 1186.5L525.9 1188.1L537.1 1189.3" stroke="url(#g148)" stroke-width="6.6"/>
<path d="M84.3 1077.7L122.2 1083.5L132 1085.6L146 1089.8L160 1096.1L164.2 1097.7L172.6 1100.3L181 1102.3L190.9 1103.9L200.7 1105.2L216.1 1106.6L227.3 1107.4" stroke="#fde725" stroke-width="6.6"/>
<path d="M82.9 754.6L653.5 752.6" stroke="#fde725" stroke-width="6.6"/>
<path d="M561 1106.8L626.9 1106.6" stroke="#fde725" stroke-width="6.6"/>
<path d="M483.9 1118L535.7 1117.5L587.6 1117.9" stroke="#fde725" stroke-width="6.6"/>
<path d="M84.3 1032.4L200.7 1032.4L209.1 1032.2L237.1 1030.5L298.8 1030.5" stroke="#fde725" stroke-width="6.6"/>
<path d="M440.4 1030.6L520.3 1031.2L558.2 1032.4L654.9 1032.4" stroke="#fde725" stroke-width="6.6"/>
<path d="M84.3 753.6L654.9 753.6" stroke="#fde725" stroke-width="6.6"/>
<path d="M84.3 949.6L654.9 949.6" stroke="#fde725" stroke-width="6.6"/>
<path d="M84.3 1024.6L654.9 1024.4" stroke="url(#g149)" stroke-width="6.6"/>
<path d="M84.3 1194.6L140.4 1193.9L189.4 1194L225.9 1194.6L239.9 1195.9L245.5 1196.2L304.4 1197.1L361.9 1197.3L415.2 1197.1L469.8 1196.4L483.9 1196.1L507.7 1194.7L535.7 1194.3L591.8 1194.1L654.9 1194.6" stroke="#fde725" stroke-width="6.6"/>
<path d="M84.3 1199.6L654.9 1199.6" stroke="#fde725" stroke-width="6.6"/>
<path d="M84.3 1029L654.9 1029" stroke="url(#g150)" stroke-width="6.6"/>
<path d="M153.9 684.3h0" stroke="#fde725" stroke-width="6.6"/>
<path d="M153.9 1018.4h0" stroke="#a2da37" stroke-width="6.6"/>
<path d="M583.9 684.3h0" stroke="#fde725" stroke-width="6.6"/>
<path d="M583.9 1018.4h0" stroke="#a2da37" stroke-width="6.6"/>
<path d="M161 753.6h0" stroke="#a2da37" stroke-width="6.6"/>
<path d="M161 949.6h0" stroke="#a2da37" stroke-width="6.6"/>
<path d="M576.8 753.6h0" stroke="#a2da37" stroke-width="6.6"/>
<path d="M576.8 949.6h0" stroke="#a2da37" stroke-width="6.6"/>
</g>
<rect x="82.9" y="678.6" width="572" height="523.4" fill="none" stroke="#000" stroke-width="1.7"/>
<path d="M82.9 1202v7M368.9 1202v7M654.9 1202v7M82.9 678.6h-7M82.9 940.3h-7M82.9 1202h-7M717.4 1150.3h7M717.4 1045.4h7M717.4 940.4h7M717.4 835.4h7M717.4 730.5h7" stroke="#000" stroke-width="1.7" fill="none"/>
<g font-family="'Liberation Serif','DejaVu Serif',serif" font-size="31px" fill="#000">
<text x="82.9" y="1239.6" text-anchor="middle" textLength="58" lengthAdjust="spacingAndGlyphs">−0.5</text>
<text x="368.9" y="1239.6" text-anchor="middle">0</text>
<text x="654.4" y="1239.6" text-anchor="middle" textLength="37.5" lengthAdjust="spacingAndGlyphs">0.5</text>
<text x="68.7" y="1213.5" text-anchor="end">0</text>
<text x="68.2" y="951.8" text-anchor="end" textLength="17" lengthAdjust="spacingAndGlyphs" font-style="italic">π</text>
<text x="68.2" y="689.8" text-anchor="end" textLength="31.5" lengthAdjust="spacingAndGlyphs">2<tspan font-style="italic">π</tspan></text>
</g>
<text x="367.9" y="1283" text-anchor="middle" font-family="'Liberation Serif','DejaVu Serif',serif" font-size="40px" font-style="italic" textLength="31" lengthAdjust="spacingAndGlyphs">k<tspan font-size="28px" font-style="normal" dy="6">2</tspan></text>
<g transform="translate(17.3 940.3) rotate(-90)" fill="#000" font-family="'Liberation Serif','DejaVu Serif',serif" font-style="italic">
<text x="-20" y="0" font-size="38px" textLength="20" lengthAdjust="spacingAndGlyphs" stroke="#fff" stroke-width="0.4">γ</text>
<text x="0.5" y="8" font-size="27.5px" textLength="16" lengthAdjust="spacingAndGlyphs">n</text>
</g>
<linearGradient id="cbg3" x1="0" x2="0" y1="0" y2="1"><stop offset="0.0000" stop-color="#fde725"/><stop offset="0.0312" stop-color="#ece51b"/><stop offset="0.0625" stop-color="#d8e219"/><stop offset="0.0938" stop-color="#c2df23"/><stop offset="0.1250" stop-color="#addc30"/><stop offset="0.1562" stop-color="#98d83e"/><stop offset="0.1875" stop-color="#84d44b"/><stop offset="0.2188" stop-color="#70cf57"/><stop offset="0.2500" stop-color="#5ec962"/><stop offset="0.2812" stop-color="#4ec36b"/><stop offset="0.3125" stop-color="#3fbc73"/><stop offset="0.3438" stop-color="#32b67a"/><stop offset="0.3750" stop-color="#28ae80"/><stop offset="0.4062" stop-color="#22a785"/><stop offset="0.4375" stop-color="#1fa088"/><stop offset="0.4688" stop-color="#1f988b"/><stop offset="0.5000" stop-color="#21918c"/><stop offset="0.5312" stop-color="#23898e"/><stop offset="0.5625" stop-color="#26828e"/><stop offset="0.5938" stop-color="#297a8e"/><stop offset="0.6250" stop-color="#2c728e"/><stop offset="0.6562" stop-color="#2f6b8e"/><stop offset="0.6875" stop-color="#33638d"/><stop offset="0.7188" stop-color="#375b8d"/><stop offset="0.7500" stop-color="#3b528b"/><stop offset="0.7812" stop-color="#3e4989"/><stop offset="0.8125" stop-color="#424086"/><stop offset="0.8438" stop-color="#453781"/><stop offset="0.8750" stop-color="#472d7b"/><stop offset="0.9062" stop-color="#482374"/><stop offset="0.9375" stop-color="#48186a"/><stop offset="0.9688" stop-color="#470d60"/><stop offset="1.0000" stop-color="#440154"/></linearGradient>
<rect x="690.7" y="678.8" width="26.7" height="523.2" fill="url(#cbg3)" stroke="#000" stroke-width="1.7"/>
<g font-family="'DejaVu Sans','Liberation Sans',sans-serif" font-size="19.5px" fill="#000">
<text x="730.6" y="1157.7">−0.4</text>
<text x="730.6" y="1052.8">−0.2</text>
<text x="730.6" y="947.8">0.0</text>
<text x="730.6" y="842.9">0.2</text>
<text x="730.6" y="737.9">0.4</text>
</g>
<g transform="translate(815.8 940.4) rotate(-90)" fill="#000" font-family="'Liberation Serif','DejaVu Serif',serif">
<text x="-46.6" y="0" font-family="'DejaVu Sans','Liberation Sans',sans-serif" font-size="41.5px" stroke="#fff" stroke-width="1.5">⟨</text>
<text x="-31" y="0" font-size="33px" font-style="italic" textLength="18.6" lengthAdjust="spacingAndGlyphs">S</text>
<text x="-12.6" y="5.2" font-size="21.5px" font-style="italic" textLength="9.2" lengthAdjust="spacingAndGlyphs">z</text>
<text x="-1.4" y="0" font-family="'DejaVu Sans','Liberation Sans',sans-serif" font-size="41.5px" stroke="#fff" stroke-width="1.5">⟩</text>
<text x="15.4" y="6.6" font-size="45px">/</text>
<text x="28.6" y="0" font-size="32px" font-style="italic" textLength="17" lengthAdjust="spacingAndGlyphs">ħ</text>
</g>
</g>
<g id="panel4">
<clipPath id="clip4"><rect x="983.2" y="678.6" width="572.2" height="523.4"/></clipPath>
<g clip-path="url(#clip4)" fill="none" stroke-linecap="round" stroke-linejoin="round">
<linearGradient id="g151" gradientUnits="userSpaceOnUse" x1="983" x2="1555.6" y1="0" y2="0"><stop offset="0" stop-color="#ece51b"/><stop offset="0.3702" stop-color="#ece51b"/><stop offset="0.3895" stop-color="#7ad151"/><stop offset="0.4052" stop-color="#1f958b"/><stop offset="0.4226" stop-color="#3b528b"/><stop offset="0.4453" stop-color="#481d6f"/><stop offset="0.5" stop-color="#481d6f"/><stop offset="0.5547" stop-color="#481a6c"/><stop offset="0.5774" stop-color="#3e4989"/><stop offset="0.5948" stop-color="#228b8d"/><stop offset="0.6123" stop-color="#5ec962"/><stop offset="0.6385" stop-color="#dfe318"/><stop offset="1" stop-color="#dfe318"/></linearGradient>
<linearGradient id="g152" gradientUnits="userSpaceOnUse" x1="983" x2="1555.6" y1="0" y2="0"><stop offset="0" stop-color="#471365"/><stop offset="0.3615" stop-color="#471365"/><stop offset="0.3877" stop-color="#3b528b"/><stop offset="0.4052" stop-color="#1f958b"/><stop offset="0.4226" stop-color="#6ece58"/><stop offset="0.4453" stop-color="#d2e21b"/><stop offset="0.5" stop-color="#d2e21b"/><stop offset="0.5547" stop-color="#cae11f"/><stop offset="0.5774" stop-color="#5ec962"/><stop offset="0.5948" stop-color="#228b8d"/><stop offset="0.6105" stop-color="#414487"/><stop offset="0.6298" stop-color="#460b5e"/><stop offset="1" stop-color="#460b5e"/></linearGradient>
<linearGradient id="g153" gradientUnits="userSpaceOnUse" x1="983" x2="1555" y1="0" y2="0"><stop offset="0" stop-color="#fde725"/><stop offset="0.2045" stop-color="#fde725"/><stop offset="0.2255" stop-color="#5ec962"/><stop offset="0.2483" stop-color="#dfe318"/><stop offset="0.729" stop-color="#ece51b"/><stop offset="0.9738" stop-color="#fde725"/><stop offset="0.9878" stop-color="#44bf70"/><stop offset="1" stop-color="#44bf70"/></linearGradient>
<linearGradient id="g154" gradientUnits="userSpaceOnUse" x1="983" x2="1555.6" y1="0" y2="0"><stop offset="0" stop-color="#bddf26"/><stop offset="0.2043" stop-color="#d8e219"/><stop offset="0.2917" stop-color="#f1e51d"/><stop offset="0.3353" stop-color="#bddf26"/><stop offset="0.379" stop-color="#8ed645"/><stop offset="0.4663" stop-color="#69cd5b"/><stop offset="0.5" stop-color="#37b878"/><stop offset="0.5337" stop-color="#1e9c89"/><stop offset="0.5948" stop-color="#1f978b"/><stop offset="0.6298" stop-color="#25848e"/><stop offset="0.6647" stop-color="#3b528b"/><stop offset="0.6996" stop-color="#481d6f"/><stop offset="0.7433" stop-color="#460b5e"/><stop offset="1" stop-color="#460b5e"/></linearGradient>
<linearGradient id="g155" gradientUnits="userSpaceOnUse" x1="983" x2="1555.6" y1="0" y2="0"><stop offset="0" stop-color="#ece51b"/><stop offset="0.2567" stop-color="#ece51b"/><stop offset="0.3004" stop-color="#cae11f"/><stop offset="0.3353" stop-color="#5ec962"/><stop offset="0.3702" stop-color="#1e9c89"/><stop offset="0.4052" stop-color="#23898e"/><stop offset="0.4663" stop-color="#25848e"/><stop offset="0.5" stop-color="#31678e"/><stop offset="0.5337" stop-color="#3e4c8a"/><stop offset="0.621" stop-color="#443a83"/><stop offset="0.6647" stop-color="#482475"/><stop offset="0.7083" stop-color="#46085c"/><stop offset="0.7957" stop-color="#481769"/><stop offset="1" stop-color="#482475"/></linearGradient>
<linearGradient id="g156" gradientUnits="userSpaceOnUse" x1="983" x2="1555.6" y1="0" y2="0"><stop offset="0" stop-color="#471365"/><stop offset="0.3091" stop-color="#471365"/><stop offset="0.344" stop-color="#414487"/><stop offset="0.379" stop-color="#21918c"/><stop offset="0.4052" stop-color="#1e9c89"/><stop offset="0.4384" stop-color="#5ec962"/><stop offset="0.475" stop-color="#8ed645"/><stop offset="0.5" stop-color="#cae11f"/><stop offset="0.5948" stop-color="#cae11f"/><stop offset="0.6298" stop-color="#ece51b"/><stop offset="1" stop-color="#ece51b"/></linearGradient>
<linearGradient id="g157" gradientUnits="userSpaceOnUse" x1="983" x2="1555.6" y1="0" y2="0"><stop offset="0" stop-color="#460b5e"/><stop offset="0.3702" stop-color="#460b5e"/><stop offset="0.4052" stop-color="#481d6f"/><stop offset="0.5" stop-color="#481d6f"/><stop offset="0.525" stop-color="#443a83"/><stop offset="0.5616" stop-color="#3b528b"/><stop offset="0.5948" stop-color="#25848e"/><stop offset="0.621" stop-color="#21918c"/><stop offset="0.656" stop-color="#7ad151"/><stop offset="0.6909" stop-color="#dfe318"/><stop offset="1" stop-color="#dfe318"/></linearGradient>
<linearGradient id="g158" gradientUnits="userSpaceOnUse" x1="983" x2="1555.6" y1="0" y2="0"><stop offset="0" stop-color="#22a884"/><stop offset="0.1257" stop-color="#29af7f"/><stop offset="0.2655" stop-color="#44bf70"/><stop offset="0.3702" stop-color="#7ad151"/><stop offset="0.4401" stop-color="#7ad151"/><stop offset="0.475" stop-color="#44bf70"/><stop offset="0.5" stop-color="#2cb17e"/><stop offset="0.5948" stop-color="#58c765"/><stop offset="0.7345" stop-color="#44bf70"/><stop offset="0.8743" stop-color="#2fb47c"/><stop offset="1" stop-color="#22a884"/></linearGradient>
<linearGradient id="g159" gradientUnits="userSpaceOnUse" x1="983" x2="1555.6" y1="0" y2="0"><stop offset="0" stop-color="#2a788e"/><stop offset="0.1257" stop-color="#2f6c8e"/><stop offset="0.2655" stop-color="#355f8d"/><stop offset="0.4052" stop-color="#3a548c"/><stop offset="0.5" stop-color="#2e6f8e"/><stop offset="0.525" stop-color="#355f8d"/><stop offset="0.5599" stop-color="#414487"/><stop offset="0.6298" stop-color="#414487"/><stop offset="0.7345" stop-color="#355f8d"/><stop offset="0.8743" stop-color="#2d718e"/><stop offset="1" stop-color="#2a788e"/></linearGradient>
<linearGradient id="g160" gradientUnits="userSpaceOnUse" x1="983" x2="1555.6" y1="0" y2="0"><stop offset="0" stop-color="#1e9c89"/><stop offset="0.2655" stop-color="#1f978b"/><stop offset="0.3178" stop-color="#21918c"/><stop offset="0.3702" stop-color="#2a788e"/><stop offset="0.4052" stop-color="#3b528b"/><stop offset="0.4401" stop-color="#472a7a"/><stop offset="0.475" stop-color="#481d6f"/><stop offset="0.5" stop-color="#481d6f"/><stop offset="0.525" stop-color="#463480"/><stop offset="0.5599" stop-color="#3b528b"/><stop offset="0.5948" stop-color="#21918c"/><stop offset="0.6298" stop-color="#22a884"/><stop offset="0.7345" stop-color="#2fb47c"/><stop offset="0.8743" stop-color="#29af7f"/><stop offset="1" stop-color="#1e9c89"/></linearGradient>
<linearGradient id="g161" gradientUnits="userSpaceOnUse" x1="983" x2="1555.6" y1="0" y2="0"><stop offset="0" stop-color="#25848e"/><stop offset="0.1257" stop-color="#2d718e"/><stop offset="0.2655" stop-color="#2f6c8e"/><stop offset="0.3702" stop-color="#2a788e"/><stop offset="0.4052" stop-color="#21918c"/><stop offset="0.4401" stop-color="#5ec962"/><stop offset="0.475" stop-color="#9bd93c"/><stop offset="0.5" stop-color="#cae11f"/><stop offset="0.525" stop-color="#cae11f"/><stop offset="0.5599" stop-color="#b0dd2f"/><stop offset="0.5948" stop-color="#5ec962"/><stop offset="0.6298" stop-color="#22a884"/><stop offset="0.6822" stop-color="#21918c"/><stop offset="0.7345" stop-color="#23898e"/><stop offset="1" stop-color="#25848e"/></linearGradient>
<linearGradient id="g162" gradientUnits="userSpaceOnUse" x1="983" x2="1555.6" y1="0" y2="0"><stop offset="0" stop-color="#440154"/><stop offset="0.3178" stop-color="#460b5e"/><stop offset="0.3877" stop-color="#482475"/><stop offset="0.5" stop-color="#472a7a"/><stop offset="0.5424" stop-color="#463480"/><stop offset="0.5948" stop-color="#481d6f"/><stop offset="0.6647" stop-color="#46085c"/><stop offset="0.7695" stop-color="#46085c"/><stop offset="0.8743" stop-color="#481d6f"/><stop offset="0.9092" stop-color="#414487"/><stop offset="0.9336" stop-color="#25848e"/><stop offset="0.9563" stop-color="#414487"/><stop offset="1" stop-color="#471365"/></linearGradient>
<linearGradient id="g163" gradientUnits="userSpaceOnUse" x1="983" x2="1555.6" y1="0" y2="0"><stop offset="0" stop-color="#dfe318"/><stop offset="0.0437" stop-color="#7ad151"/><stop offset="0.0664" stop-color="#1e9c89"/><stop offset="0.0908" stop-color="#7ad151"/><stop offset="0.1257" stop-color="#cae11f"/><stop offset="0.2305" stop-color="#f1e51d"/><stop offset="0.3353" stop-color="#f1e51d"/><stop offset="0.4052" stop-color="#cae11f"/><stop offset="0.4576" stop-color="#9bd93c"/><stop offset="0.5" stop-color="#b0dd2f"/><stop offset="0.6123" stop-color="#bddf26"/><stop offset="0.6822" stop-color="#ece51b"/><stop offset="1" stop-color="#fde725"/></linearGradient>
<linearGradient id="g164" gradientUnits="userSpaceOnUse" x1="983" x2="1555.6" y1="0" y2="0"><stop offset="0" stop-color="#f1e51d"/><stop offset="0.0297" stop-color="#dfe318"/><stop offset="0.0646" stop-color="#9bd93c"/><stop offset="0.1345" stop-color="#bddf26"/><stop offset="0.3056" stop-color="#cae11f"/><stop offset="0.3196" stop-color="#7ad151"/><stop offset="0.3336" stop-color="#fde725"/><stop offset="0.5" stop-color="#fde725"/><stop offset="1" stop-color="#fde725"/></linearGradient>
<linearGradient id="g165" gradientUnits="userSpaceOnUse" x1="983" x2="1555.6" y1="0" y2="0"><stop offset="0" stop-color="#440154"/><stop offset="0.5" stop-color="#440154"/><stop offset="0.6664" stop-color="#440154"/><stop offset="0.6804" stop-color="#414487"/><stop offset="0.6944" stop-color="#481d6f"/><stop offset="0.8655" stop-color="#482475"/><stop offset="0.9354" stop-color="#463480"/><stop offset="0.9703" stop-color="#471365"/><stop offset="1" stop-color="#46085c"/></linearGradient>
<linearGradient id="g166" gradientUnits="userSpaceOnUse" x1="983" x2="1555.6" y1="0" y2="0"><stop offset="0" stop-color="#bddf26"/><stop offset="0.0646" stop-color="#8ed645"/><stop offset="0.3178" stop-color="#7ad151"/><stop offset="0.344" stop-color="#bddf26"/><stop offset="0.3702" stop-color="#fde725"/><stop offset="0.5" stop-color="#fde725"/><stop offset="0.621" stop-color="#fde725"/><stop offset="0.6385" stop-color="#dfe318"/><stop offset="0.6822" stop-color="#9bd93c"/><stop offset="0.9354" stop-color="#9bd93c"/><stop offset="1" stop-color="#bddf26"/></linearGradient>
<linearGradient id="g167" gradientUnits="userSpaceOnUse" x1="983" x2="1555.6" y1="0" y2="0"><stop offset="0" stop-color="#482475"/><stop offset="0.0646" stop-color="#463480"/><stop offset="0.3178" stop-color="#463480"/><stop offset="0.3615" stop-color="#471365"/><stop offset="0.379" stop-color="#440154"/><stop offset="0.5" stop-color="#440154"/><stop offset="0.6298" stop-color="#440154"/><stop offset="0.656" stop-color="#482475"/><stop offset="0.6822" stop-color="#414487"/><stop offset="0.9354" stop-color="#443a83"/><stop offset="1" stop-color="#482475"/></linearGradient>
<linearGradient id="g168" gradientUnits="userSpaceOnUse" x1="983" x2="1555.6" y1="0" y2="0"><stop offset="0" stop-color="#1f978b"/><stop offset="0.1257" stop-color="#22a884"/><stop offset="0.2655" stop-color="#26ad81"/><stop offset="0.2882" stop-color="#5ec962"/><stop offset="0.3039" stop-color="#dfe318"/><stop offset="0.3109" stop-color="#fde725"/><stop offset="0.3178" stop-color="#dfe318"/><stop offset="0.3336" stop-color="#5ec962"/><stop offset="0.3615" stop-color="#2fb47c"/><stop offset="0.5" stop-color="#37b878"/><stop offset="0.6385" stop-color="#44bf70"/><stop offset="0.6699" stop-color="#7ad151"/><stop offset="0.6891" stop-color="#dfe318"/><stop offset="0.7083" stop-color="#7ad151"/><stop offset="0.7345" stop-color="#26ad81"/><stop offset="0.8743" stop-color="#22a884"/><stop offset="1" stop-color="#1f978b"/></linearGradient>
<linearGradient id="g169" gradientUnits="userSpaceOnUse" x1="983" x2="1555.6" y1="0" y2="0"><stop offset="0" stop-color="#23898e"/><stop offset="0.1257" stop-color="#2a788e"/><stop offset="0.2655" stop-color="#2c738e"/><stop offset="0.2917" stop-color="#414487"/><stop offset="0.3109" stop-color="#471365"/><stop offset="0.3301" stop-color="#414487"/><stop offset="0.3615" stop-color="#355f8d"/><stop offset="0.5" stop-color="#31678e"/><stop offset="0.6385" stop-color="#2f6c8e"/><stop offset="0.6664" stop-color="#3b528b"/><stop offset="0.6822" stop-color="#471365"/><stop offset="0.6891" stop-color="#440154"/><stop offset="0.6961" stop-color="#471365"/><stop offset="0.7118" stop-color="#3b528b"/><stop offset="0.7345" stop-color="#2c738e"/><stop offset="0.8743" stop-color="#2a788e"/><stop offset="1" stop-color="#23898e"/></linearGradient>
<linearGradient id="g170" gradientUnits="userSpaceOnUse" x1="983" x2="1555.6" y1="0" y2="0"><stop offset="0" stop-color="#471365"/><stop offset="0.3615" stop-color="#471365"/><stop offset="0.379" stop-color="#414487"/><stop offset="0.3912" stop-color="#25848e"/><stop offset="0.4017" stop-color="#5ec962"/><stop offset="0.4174" stop-color="#cae11f"/><stop offset="0.5" stop-color="#cae11f"/><stop offset="0.5861" stop-color="#dfe318"/><stop offset="0.6001" stop-color="#7ad151"/><stop offset="0.6123" stop-color="#21918c"/><stop offset="0.6298" stop-color="#414487"/><stop offset="0.656" stop-color="#481d6f"/><stop offset="0.7957" stop-color="#481d6f"/><stop offset="0.8655" stop-color="#46307e"/><stop offset="0.9354" stop-color="#443a83"/><stop offset="1" stop-color="#482475"/></linearGradient>
<linearGradient id="g171" gradientUnits="userSpaceOnUse" x1="983" x2="1555.6" y1="0" y2="0"><stop offset="0" stop-color="#bddf26"/><stop offset="0.0646" stop-color="#8ed645"/><stop offset="0.1345" stop-color="#a2da37"/><stop offset="0.2043" stop-color="#cae11f"/><stop offset="0.344" stop-color="#cae11f"/><stop offset="0.3702" stop-color="#7ad151"/><stop offset="0.3877" stop-color="#21918c"/><stop offset="0.3999" stop-color="#414487"/><stop offset="0.4139" stop-color="#471365"/><stop offset="0.5" stop-color="#481d6f"/><stop offset="0.5826" stop-color="#481d6f"/><stop offset="0.5983" stop-color="#3b528b"/><stop offset="0.6088" stop-color="#1e9c89"/><stop offset="0.621" stop-color="#7ad151"/><stop offset="0.6385" stop-color="#dfe318"/><stop offset="1" stop-color="#dfe318"/></linearGradient>
<linearGradient id="g172" gradientUnits="userSpaceOnUse" x1="983" x2="1552" y1="0" y2="0"><stop offset="0" stop-color="#21918c"/><stop offset="0.0123" stop-color="#7ad151"/><stop offset="0.0299" stop-color="#ece51b"/><stop offset="0.3286" stop-color="#fde725"/><stop offset="0.3497" stop-color="#7ad151"/><stop offset="0.3673" stop-color="#1e9c89"/><stop offset="0.3814" stop-color="#7ad151"/><stop offset="0.4077" stop-color="#dfe318"/><stop offset="0.6098" stop-color="#dfe318"/><stop offset="0.6362" stop-color="#7ad151"/><stop offset="0.6485" stop-color="#1e9c89"/><stop offset="0.6661" stop-color="#7ad151"/><stop offset="0.6889" stop-color="#ece51b"/><stop offset="0.9877" stop-color="#ece51b"/><stop offset="1" stop-color="#21918c"/></linearGradient>
<path d="M1234.2 687.5L1241.3 689.6L1248.3 691.1L1252.5 691.7L1256.7 691.8L1260.9 691.1L1267.9 689.3L1288.9 684.9L1297.3 683.5L1305.8 682.6" stroke="url(#g151)" stroke-width="6.6"/>
<path d="M983.2 682.6L1044.9 683L1101 682.8L1119.2 682.5L1165.5 681.1L1196.4 681.1" stroke="url(#g152)" stroke-width="6.6"/>
<path d="M1336.6 682.2L1350.6 682L1377.3 682.5L1461.4 685.7L1485.3 686.4L1516.1 686.6L1555.4 686.5" stroke="url(#g152)" stroke-width="6.6"/>
<path d="M1377.3 763.1L1392.7 763.1L1441.8 764.4L1507.7 764.9L1555.4 765" stroke="url(#g154)" stroke-width="6.6"/>
<path d="M1353.4 753.6L1364.7 751.9L1381.5 750.2L1469.9 743.6L1483.9 743L1510.5 742.3L1555.4 742" stroke="url(#g155)" stroke-width="6.6"/>
<path d="M983.2 742.3L1050.5 744.2L1065.9 744.9L1171.1 752.5" stroke="url(#g156)" stroke-width="6.6"/>
<path d="M983.2 763.4L1008.4 763.1L1040.7 762.2L1103.8 759.1L1151.5 756.3L1193.6 752.1L1206.2 751.4L1218.8 751L1227.2 751.1L1255.3 753.6L1263.7 754.9L1277.7 758.2" stroke="url(#g157)" stroke-width="6.6"/>
<path d="M1232.8 837.6L1242.7 839.3L1253.9 840.9L1266.5 842.2L1279.1 843.1" stroke="url(#g160)" stroke-width="6.6"/>
<path d="M983.2 855.5L1002.8 852.6L1016.9 851.1L1033.7 850.3L1058.9 849.5L1081.4 849.4L1106.6 850L1137.5 851.1L1152.9 852.4L1168.3 854.6L1185.2 859L1202 863L1206.2 864.5L1209 865.8L1220.2 873.2L1224.4 875.7L1232.8 879.6L1239.8 882.4L1248.3 884.9L1258.1 887.1L1266.5 888.3L1273.5 888.5" stroke="url(#g162)" stroke-width="6.6"/>
<path d="M1303 886.7L1361.9 879.2L1377.3 877.7L1423.6 874L1471.3 868.2L1492.3 866.4" stroke="url(#g162)" stroke-width="6.6"/>
<path d="M1542.8 863.1L1555.4 862" stroke="url(#g162)" stroke-width="6.6"/>
<path d="M983.2 860L1005.6 861.4L1022.5 862L1054.7 862L1084.2 861.4L1127.7 859.8L1182.3 857.1L1206.2 855.7L1266.5 851.3L1277.7 851L1298.8 851.2L1332.4 852.4L1357.7 853.9L1364.7 854.5L1370.3 855.2" stroke="url(#g165)" stroke-width="6.6"/>
<path d="M1377.3 855.9L1401.1 857.1L1458.6 859.4L1479.7 859.9L1499.3 860.1" stroke="url(#g165)" stroke-width="6.6"/>
<path d="M1523.1 859.7L1537.2 858.8L1555.4 857" stroke="url(#g165)" stroke-width="6.6"/>
<path d="M983.2 957.6L1002.8 957" stroke="url(#g167)" stroke-width="6.6"/>
<path d="M1171.1 954.4L1246.9 955.5L1256.7 956.3L1270.7 958.2L1279.1 959.6L1283.3 960L1295.9 960L1310 959.5L1363.3 957" stroke="url(#g167)" stroke-width="6.6"/>
<path d="M1541.4 958.4L1555.4 958.6" stroke="url(#g167)" stroke-width="6.6"/>
<path d="M1154.3 986.6L1161.3 986L1166.9 986.1" stroke="url(#g169)" stroke-width="6.6"/>
<path d="M1368.9 982.5L1378.7 982.6L1385.7 982" stroke="url(#g169)" stroke-width="6.6"/>
<path d="M983.2 1194.6L1046.3 1188.6L1089.8 1184.1L1117.8 1182.1L1138.9 1181.1L1155.7 1181L1164.1 1181.5L1175.3 1182.6L1182.3 1184L1196.4 1187.9" stroke="url(#g170)" stroke-width="6.6"/>
<path d="M1352 1191.2L1367.5 1191.5L1405.3 1193.9L1469.9 1196.8" stroke="url(#g170)" stroke-width="6.6"/>
<path d="M1541.4 1196.6L1555.4 1196" stroke="url(#g170)" stroke-width="6.6"/>
<path d="M1214.6 1193.8L1221.6 1194.8L1232.8 1195.5L1266.5 1195.8L1274.9 1195.6L1319.8 1192.5" stroke="url(#g171)" stroke-width="6.6"/>
<path d="M1224.4 684.9L1235.6 688" stroke="url(#g151)" stroke-width="6.6"/>
<path d="M1304.4 682.7L1315.6 681.8" stroke="url(#g151)" stroke-width="6.6"/>
<path d="M1195 681.1L1206.2 681.3" stroke="url(#g152)" stroke-width="6.6"/>
<path d="M1329.6 682.5L1338 682.1" stroke="url(#g152)" stroke-width="6.6"/>
<path d="M1363.3 764.2L1378.7 763.1" stroke="url(#g154)" stroke-width="6.6"/>
<path d="M1284.7 767.8L1295.9 765.2L1354.8 753.4" stroke="url(#g155)" stroke-width="6.6"/>
<path d="M1169.7 752.4L1183.8 753.3" stroke="url(#g156)" stroke-width="6.6"/>
<path d="M1276.3 757.9L1281.9 758.5L1290.3 758.6L1295.9 758.2L1305.8 756.9" stroke="url(#g157)" stroke-width="6.6"/>
<path d="M1293.1 782.6L1305.8 783.4L1342.2 786.9L1374.5 790.6" stroke="url(#g159)" stroke-width="6.6"/>
<path d="M1214.6 832.9L1234.2 837.9" stroke="url(#g160)" stroke-width="6.6"/>
<path d="M1277.7 843L1295.9 844.3L1304.4 844.6" stroke="url(#g160)" stroke-width="6.6"/>
<path d="M1272.1 888.5L1288.9 887.9L1304.4 886.5" stroke="url(#g162)" stroke-width="6.6"/>
<path d="M1490.9 866.5L1507.7 865.6" stroke="url(#g162)" stroke-width="6.6"/>
<path d="M1527.4 864.3L1544.2 863" stroke="url(#g162)" stroke-width="6.6"/>
<path d="M1368.9 855.1L1378.7 855.9" stroke="url(#g165)" stroke-width="6.6"/>
<path d="M1497.9 860.1L1514.7 860L1524.5 859.7" stroke="url(#g165)" stroke-width="6.6"/>
<path d="M1001.4 957L1043.5 955.9L1109.4 954.4L1137.5 954.2L1172.5 954.4" stroke="url(#g167)" stroke-width="6.6"/>
<path d="M1361.9 957L1388.5 956.6L1410.9 956.6L1542.8 958.4" stroke="url(#g167)" stroke-width="6.6"/>
<path d="M1144.5 988.1L1155.7 986.5" stroke="url(#g169)" stroke-width="6.6"/>
<path d="M1165.5 986L1176.7 987.2L1182.3 988.3" stroke="url(#g169)" stroke-width="6.6"/>
<path d="M1363.3 982.2L1370.3 982.5" stroke="url(#g169)" stroke-width="6.6"/>
<path d="M1384.3 982.1L1391.3 981.5" stroke="url(#g169)" stroke-width="6.6"/>
<path d="M1195 1187.4L1202 1189.6" stroke="url(#g170)" stroke-width="6.6"/>
<path d="M1340.8 1191.4L1353.4 1191.2" stroke="url(#g170)" stroke-width="6.6"/>
<path d="M1468.4 1196.8L1486.7 1197.3L1503.5 1197.4L1521.7 1197.2L1542.8 1196.5" stroke="url(#g170)" stroke-width="6.6"/>
<path d="M1210.4 1192.8L1216 1194.1" stroke="url(#g171)" stroke-width="6.6"/>
<path d="M1318.4 1192.6L1326.8 1191.6" stroke="url(#g171)" stroke-width="6.6"/>
<path d="M1220.2 684L1225.8 685.2" stroke="url(#g151)" stroke-width="6.6"/>
<path d="M1314.2 681.9L1319.8 681.6" stroke="url(#g151)" stroke-width="6.6"/>
<path d="M1204.8 681.3L1210.4 681.4" stroke="url(#g152)" stroke-width="6.6"/>
<path d="M1326.8 682.8L1331 682.4" stroke="url(#g152)" stroke-width="6.6"/>
<path d="M1350.6 766.2L1359.1 764.8L1364.7 764.1" stroke="url(#g154)" stroke-width="6.6"/>
<path d="M1260.9 775.2L1277.7 769.7L1286.1 767.4" stroke="url(#g155)" stroke-width="6.6"/>
<path d="M1182.3 753.2L1192.2 753.7" stroke="url(#g156)" stroke-width="6.6"/>
<path d="M1304.4 757.1L1317 755.5" stroke="url(#g157)" stroke-width="6.6"/>
<path d="M1018.3 811.6L1065.9 813.6L1126.2 818.4L1161.3 820.5L1179.5 821L1193.6 820.7L1199.2 820.3L1206.2 819.1L1214.6 817.1L1218.8 815.8L1223 814L1241.3 804.9L1248.3 801L1260.9 793.4L1276.3 785.5L1279.1 784.6L1286.1 783.1L1290.3 782.6L1294.5 782.7" stroke="url(#g159)" stroke-width="6.6"/>
<path d="M1373.1 790.4L1409.5 794.6L1496.5 803.4" stroke="url(#g159)" stroke-width="6.6"/>
<path d="M1197.8 828.5L1216 833.3" stroke="url(#g160)" stroke-width="6.6"/>
<path d="M1303 844.6L1314.2 844.7" stroke="url(#g160)" stroke-width="6.6"/>
<path d="M1049.1 839.3L1084.2 839.8L1122 840.6L1141.7 841.2L1165.5 842.5" stroke="url(#g161)" stroke-width="6.6"/>
<path d="M1506.3 865.7L1514.7 865.2" stroke="url(#g162)" stroke-width="6.6"/>
<path d="M1520.3 864.8L1528.8 864.2" stroke="url(#g162)" stroke-width="6.6"/>
<path d="M1134.7 989.5L1145.9 987.9" stroke="url(#g169)" stroke-width="6.6"/>
<path d="M1180.9 988L1188 989.8L1196.4 992.5L1200.6 994.4L1213.2 1001.2L1227.2 1007.1L1231.4 1008.4L1234.2 1008.9L1241.3 1009.2L1246.9 1008.7L1252.5 1006.9L1262.3 1002.5L1290.3 988.4L1304.4 982.4L1308.6 981L1311.4 980.3L1322.6 979.2L1332.4 979L1339.4 979.4L1356.3 981.6L1364.7 982.3" stroke="url(#g169)" stroke-width="6.6"/>
<path d="M1389.9 981.6L1403.9 981.4" stroke="url(#g169)" stroke-width="6.6"/>
<path d="M1200.6 1189.2L1206.2 1190.6" stroke="url(#g170)" stroke-width="6.6"/>
<path d="M1336.6 1191.7L1342.2 1191.3" stroke="url(#g170)" stroke-width="6.6"/>
<path d="M1207.6 1192.2L1211.8 1193.1" stroke="url(#g171)" stroke-width="6.6"/>
<path d="M1325.4 1191.8L1328.2 1191.4" stroke="url(#g171)" stroke-width="6.6"/>
<path d="M1214.6 683.1L1221.6 684.2" stroke="url(#g151)" stroke-width="6.6"/>
<path d="M1318.4 681.7L1325.4 681.5" stroke="url(#g151)" stroke-width="6.6"/>
<path d="M1209 681.4L1214.6 681.5" stroke="url(#g152)" stroke-width="6.6"/>
<path d="M1322.6 683.3L1328.2 682.7" stroke="url(#g152)" stroke-width="6.6"/>
<path d="M1331 768.9L1343.6 767.4L1352 765.9" stroke="url(#g154)" stroke-width="6.6"/>
<path d="M1206.2 768.8L1216 770.2L1231.4 774.5L1241.3 776L1245.5 776.3L1251.1 776.2L1258.1 775.6L1262.3 774.8" stroke="url(#g155)" stroke-width="6.6"/>
<path d="M1190.8 753.7L1200.6 754" stroke="url(#g156)" stroke-width="6.6"/>
<path d="M1315.6 755.7L1324 754.6L1339.4 753.9" stroke="url(#g157)" stroke-width="6.6"/>
<path d="M983.2 811L1019.7 811.7" stroke="url(#g159)" stroke-width="6.6"/>
<path d="M1495.1 803.2L1555.4 810" stroke="url(#g159)" stroke-width="6.6"/>
<path d="M1164.1 825L1171.1 825.2L1179.5 825.9L1190.8 827.4L1199.2 828.8" stroke="url(#g160)" stroke-width="6.6"/>
<path d="M1312.8 844.7L1324 844.6" stroke="url(#g160)" stroke-width="6.6"/>
<path d="M983.2 839L1050.5 839.4" stroke="url(#g161)" stroke-width="6.6"/>
<path d="M1164.1 842.4L1199.2 844.1L1216 844.6" stroke="url(#g161)" stroke-width="6.6"/>
<path d="M1373.1 825L1395.5 825.6L1426.4 827.4L1555.4 838" stroke="url(#g161)" stroke-width="6.6"/>
<path d="M1513.3 865.3L1521.7 864.7" stroke="url(#g162)" stroke-width="6.6"/>
<path d="M983.2 996L1028.1 995.6L1060.3 994.9L1078.6 994.2L1098.2 993.2L1116.4 991.9L1124.8 990.9L1136.1 989.3" stroke="url(#g169)" stroke-width="6.6"/>
<path d="M1402.5 981.4L1427.8 982.2L1451.6 983.9L1506.3 989.3L1555.4 995" stroke="url(#g169)" stroke-width="6.6"/>
<path d="M1204.8 1190.3L1209 1191.2" stroke="url(#g170)" stroke-width="6.6"/>
<path d="M1332.4 1192L1338 1191.6" stroke="url(#g170)" stroke-width="6.6"/>
<path d="M1204.8 1191.9L1209 1192.5" stroke="url(#g171)" stroke-width="6.6"/>
<path d="M1326.8 1191.6L1331 1190.9" stroke="url(#g171)" stroke-width="6.6"/>
<path d="M1210.4 682.7L1216 683.3" stroke="url(#g151)" stroke-width="6.6"/>
<path d="M1324 681.5L1329.6 681.4" stroke="url(#g151)" stroke-width="6.6"/>
<path d="M1213.2 681.5L1220.2 681.7" stroke="url(#g152)" stroke-width="6.6"/>
<path d="M1317 684.2L1324 683.1" stroke="url(#g152)" stroke-width="6.6"/>
<path d="M1276.3 774.8L1280.5 775.6L1287.5 776.2L1293.1 776.3L1297.3 776L1307.2 774.5L1322.6 770.2L1332.4 768.8" stroke="url(#g154)" stroke-width="6.6"/>
<path d="M1186.6 765.9L1195 767.4L1207.6 768.9" stroke="url(#g155)" stroke-width="6.6"/>
<path d="M1199.2 753.9L1214.6 754.6L1223 755.7" stroke="url(#g156)" stroke-width="6.6"/>
<path d="M1338 754L1347.8 753.7" stroke="url(#g157)" stroke-width="6.6"/>
<path d="M983.2 810L1043.5 803.2" stroke="url(#g158)" stroke-width="6.6"/>
<path d="M1518.9 811.7L1555.4 811" stroke="url(#g158)" stroke-width="6.6"/>
<path d="M983.2 838L1112.2 827.4L1143.1 825.6L1165.5 825" stroke="url(#g160)" stroke-width="6.6"/>
<path d="M1322.6 844.6L1339.4 844.1L1374.5 842.4" stroke="url(#g160)" stroke-width="6.6"/>
<path d="M1488.1 839.4L1555.4 839" stroke="url(#g160)" stroke-width="6.6"/>
<path d="M1214.6 844.6L1225.8 844.7" stroke="url(#g161)" stroke-width="6.6"/>
<path d="M1339.4 828.8L1347.8 827.4L1359.1 825.9L1367.5 825.2L1374.5 825" stroke="url(#g161)" stroke-width="6.6"/>
<path d="M1016.9 864.7L1025.3 865.3" stroke="url(#g163)" stroke-width="6.6"/>
<path d="M983.2 995L1032.3 989.3L1087 983.9L1110.8 982.2L1136.1 981.4" stroke="url(#g168)" stroke-width="6.6"/>
<path d="M1402.5 989.3L1413.8 990.9L1422.2 991.9L1440.4 993.2L1460 994.2L1478.3 994.9L1510.5 995.6L1555.4 996" stroke="url(#g168)" stroke-width="6.6"/>
<path d="M1207.6 1190.9L1211.8 1191.6" stroke="url(#g170)" stroke-width="6.6"/>
<path d="M1329.6 1192.5L1333.8 1191.9" stroke="url(#g170)" stroke-width="6.6"/>
<path d="M1200.6 1191.6L1206.2 1192" stroke="url(#g171)" stroke-width="6.6"/>
<path d="M1329.6 1191.2L1333.8 1190.3" stroke="url(#g171)" stroke-width="6.6"/>
<path d="M983.2 1200.4L986 1200.4" stroke="url(#g172)" stroke-width="6.6"/>
<path d="M1188 1200.4L1195 1200.4" stroke="url(#g172)" stroke-width="6.6"/>
<path d="M1349.2 1200.4L1356.3 1200.4" stroke="url(#g172)" stroke-width="6.6"/>
<path d="M1549.8 1200.4L1554 1200.4" stroke="url(#g172)" stroke-width="6.6"/>
<path d="M1207.6 682.4L1211.8 682.8" stroke="url(#g151)" stroke-width="6.6"/>
<path d="M1328.2 681.4L1333.8 681.3" stroke="url(#g151)" stroke-width="6.6"/>
<path d="M1218.8 681.6L1224.4 681.9" stroke="url(#g152)" stroke-width="6.6"/>
<path d="M1312.8 685.2L1318.4 684" stroke="url(#g152)" stroke-width="6.6"/>
<path d="M1545.6 678.4L1554 678.4" stroke="url(#g153)" stroke-width="6.6"/>
<path d="M1252.5 767.4L1260.9 769.7L1277.7 775.2" stroke="url(#g154)" stroke-width="6.6"/>
<path d="M1173.9 764.1L1179.5 764.8L1188 766.2" stroke="url(#g155)" stroke-width="6.6"/>
<path d="M1221.6 755.5L1234.2 757.1" stroke="url(#g156)" stroke-width="6.6"/>
<path d="M1346.4 753.7L1356.3 753.2" stroke="url(#g157)" stroke-width="6.6"/>
<path d="M1042.1 803.4L1129.1 794.6L1165.5 790.4" stroke="url(#g158)" stroke-width="6.6"/>
<path d="M1244.1 782.7L1248.3 782.6L1252.5 783.1L1259.5 784.6L1262.3 785.5L1277.7 793.4L1290.3 801L1297.3 804.9L1315.6 814L1319.8 815.8L1324 817.1L1332.4 819.1L1339.4 820.3L1345 820.7L1359.1 821L1377.3 820.5L1412.4 818.4L1472.7 813.6L1520.3 811.6" stroke="url(#g158)" stroke-width="6.6"/>
<path d="M1373.1 842.5L1396.9 841.2L1416.6 840.6L1454.4 839.8L1489.5 839.3" stroke="url(#g160)" stroke-width="6.6"/>
<path d="M1224.4 844.7L1235.6 844.6" stroke="url(#g161)" stroke-width="6.6"/>
<path d="M1322.6 833.3L1340.8 828.5" stroke="url(#g161)" stroke-width="6.6"/>
<path d="M1009.8 864.2L1018.3 864.8" stroke="url(#g163)" stroke-width="6.6"/>
<path d="M1023.9 865.2L1032.3 865.7" stroke="url(#g163)" stroke-width="6.6"/>
<path d="M1134.7 981.4L1148.7 981.6" stroke="url(#g168)" stroke-width="6.6"/>
<path d="M1173.9 982.3L1182.3 981.6L1199.2 979.4L1206.2 979L1216 979.2L1227.2 980.3L1230 981L1234.2 982.4L1248.3 988.4L1276.3 1002.5L1286.1 1006.9L1291.7 1008.7L1297.3 1009.2L1304.4 1008.9L1307.2 1008.4L1311.4 1007.1L1325.4 1001.2L1338 994.4L1342.2 992.5L1350.6 989.8L1357.7 988" stroke="url(#g168)" stroke-width="6.6"/>
<path d="M1392.7 987.9L1403.9 989.5" stroke="url(#g168)" stroke-width="6.6"/>
<path d="M1210.4 1191.4L1213.2 1191.8" stroke="url(#g170)" stroke-width="6.6"/>
<path d="M1326.8 1193.1L1331 1192.2" stroke="url(#g170)" stroke-width="6.6"/>
<path d="M1196.4 1191.3L1202 1191.7" stroke="url(#g171)" stroke-width="6.6"/>
<path d="M1332.4 1190.6L1338 1189.2" stroke="url(#g171)" stroke-width="6.6"/>
<path d="M984.6 1200.4L990.2 1200.4" stroke="url(#g172)" stroke-width="6.6"/>
<path d="M1183.8 1200.4L1189.4 1200.4" stroke="url(#g172)" stroke-width="6.6"/>
<path d="M1193.6 1200.4L1199.2 1200.4" stroke="url(#g172)" stroke-width="6.6"/>
<path d="M1345 1200.4L1350.6 1200.4" stroke="url(#g172)" stroke-width="6.6"/>
<path d="M1354.8 1200.4L1360.5 1200.4" stroke="url(#g172)" stroke-width="6.6"/>
<path d="M1547 1200.4L1551.2 1200.4" stroke="url(#g172)" stroke-width="6.6"/>
<path d="M1200.6 682.1L1209 682.5" stroke="url(#g151)" stroke-width="6.6"/>
<path d="M1332.4 681.3L1343.6 681.1" stroke="url(#g151)" stroke-width="6.6"/>
<path d="M1223 681.8L1234.2 682.7" stroke="url(#g152)" stroke-width="6.6"/>
<path d="M1303 688L1314.2 684.9" stroke="url(#g152)" stroke-width="6.6"/>
<path d="M1105.2 678.4L1120.6 678.4" stroke="url(#g153)" stroke-width="6.6"/>
<path d="M1542.8 678.4L1547 678.4" stroke="url(#g153)" stroke-width="6.6"/>
<path d="M1183.8 753.4L1242.7 765.2L1253.9 767.8" stroke="url(#g154)" stroke-width="6.6"/>
<path d="M1159.9 763.1L1175.3 764.2" stroke="url(#g155)" stroke-width="6.6"/>
<path d="M1232.8 756.9L1242.7 758.2L1248.3 758.6L1256.7 758.5L1262.3 757.9" stroke="url(#g156)" stroke-width="6.6"/>
<path d="M1354.8 753.3L1368.9 752.4" stroke="url(#g157)" stroke-width="6.6"/>
<path d="M1164.1 790.6L1196.4 786.9L1232.8 783.4L1245.5 782.6" stroke="url(#g158)" stroke-width="6.6"/>
<path d="M1234.2 844.6L1242.7 844.3L1260.9 843" stroke="url(#g161)" stroke-width="6.6"/>
<path d="M1304.4 837.9L1324 832.9" stroke="url(#g161)" stroke-width="6.6"/>
<path d="M994.4 863L1011.2 864.3" stroke="url(#g163)" stroke-width="6.6"/>
<path d="M1030.9 865.6L1047.7 866.5" stroke="url(#g163)" stroke-width="6.6"/>
<path d="M1234.2 886.5L1249.7 887.9L1266.5 888.5" stroke="url(#g163)" stroke-width="6.6"/>
<path d="M1014.1 859.7L1023.9 860L1040.7 860.1" stroke="url(#g164)" stroke-width="6.6"/>
<path d="M1159.9 855.9L1169.7 855.1" stroke="url(#g164)" stroke-width="6.6"/>
<path d="M995.8 958.4L1127.7 956.6L1150.1 956.6L1176.7 957" stroke="url(#g166)" stroke-width="6.6"/>
<path d="M1366.1 954.4L1401.1 954.2L1429.2 954.4L1495.1 955.9L1537.2 957" stroke="url(#g166)" stroke-width="6.6"/>
<path d="M1147.3 981.5L1154.3 982.1" stroke="url(#g168)" stroke-width="6.6"/>
<path d="M1168.3 982.5L1175.3 982.2" stroke="url(#g168)" stroke-width="6.6"/>
<path d="M1356.3 988.3L1361.9 987.2L1373.1 986" stroke="url(#g168)" stroke-width="6.6"/>
<path d="M1382.9 986.5L1394.1 988.1" stroke="url(#g168)" stroke-width="6.6"/>
<path d="M1211.8 1191.6L1220.2 1192.6" stroke="url(#g170)" stroke-width="6.6"/>
<path d="M1322.6 1194.1L1328.2 1192.8" stroke="url(#g170)" stroke-width="6.6"/>
<path d="M995.8 1196.5L1016.9 1197.2L1035.1 1197.4L1051.9 1197.3L1070.2 1196.8" stroke="url(#g171)" stroke-width="6.6"/>
<path d="M1185.2 1191.2L1197.8 1191.4" stroke="url(#g171)" stroke-width="6.6"/>
<path d="M1336.6 1189.6L1343.6 1187.4" stroke="url(#g171)" stroke-width="6.6"/>
<path d="M988.8 1200.4L994.4 1200.4" stroke="url(#g172)" stroke-width="6.6"/>
<path d="M1176.7 1200.4L1185.2 1200.4" stroke="url(#g172)" stroke-width="6.6"/>
<path d="M1197.8 1200.4L1207.6 1200.4" stroke="url(#g172)" stroke-width="6.6"/>
<path d="M1336.6 1200.4L1346.4 1200.4" stroke="url(#g172)" stroke-width="6.6"/>
<path d="M1359.1 1200.4L1368.9 1200.4" stroke="url(#g172)" stroke-width="6.6"/>
<path d="M1545.6 1200.4L1548.4 1200.4" stroke="url(#g172)" stroke-width="6.6"/>
<path d="M983.2 686.5L1022.5 686.6L1053.3 686.4L1077.2 685.7L1161.3 682.5L1188 682L1202 682.2" stroke="url(#g151)" stroke-width="6.6"/>
<path d="M1342.2 681.1L1373.1 681.1L1419.4 682.5L1437.6 682.8L1493.7 683L1555.4 682.6" stroke="url(#g151)" stroke-width="6.6"/>
<path d="M1232.8 682.6L1241.3 683.5L1249.7 684.9L1270.7 689.3L1277.7 691.1L1281.9 691.8L1286.1 691.7L1290.3 691.1L1297.3 689.6L1304.4 687.5" stroke="url(#g152)" stroke-width="6.6"/>
<path d="M983.2 678.4L1106.6 678.4" stroke="url(#g153)" stroke-width="6.6"/>
<path d="M1119.2 678.4L1544.2 678.4" stroke="url(#g153)" stroke-width="6.6"/>
<path d="M983.2 742L1028.1 742.3L1054.7 743L1068.7 743.6L1157.1 750.2L1173.9 751.9L1185.2 753.6" stroke="url(#g154)" stroke-width="6.6"/>
<path d="M983.2 765L1030.9 764.9L1096.8 764.4L1145.9 763.1L1161.3 763.1" stroke="url(#g155)" stroke-width="6.6"/>
<path d="M1260.9 758.2L1274.9 754.9L1283.3 753.6L1311.4 751.1L1319.8 751L1332.4 751.4L1345 752.1L1387.1 756.3L1434.8 759.1L1497.9 762.2L1530.2 763.1L1555.4 763.4" stroke="url(#g156)" stroke-width="6.6"/>
<path d="M1367.5 752.5L1472.7 744.9L1488.1 744.2L1555.4 742.3" stroke="url(#g157)" stroke-width="6.6"/>
<path d="M1259.5 843.1L1272.1 842.2L1284.7 840.9L1295.9 839.3L1305.8 837.6" stroke="url(#g161)" stroke-width="6.6"/>
<path d="M983.2 862L995.8 863.1" stroke="url(#g163)" stroke-width="6.6"/>
<path d="M1046.3 866.4L1067.3 868.2L1115 874L1161.3 877.7L1176.7 879.2L1235.6 886.7" stroke="url(#g163)" stroke-width="6.6"/>
<path d="M1265.1 888.5L1272.1 888.3L1280.5 887.1L1290.3 884.9L1298.8 882.4L1305.8 879.6L1314.2 875.7L1318.4 873.2L1329.6 865.8L1332.4 864.5L1336.6 863L1353.4 859L1370.3 854.6L1385.7 852.4L1401.1 851.1L1432 850L1457.2 849.4L1479.7 849.5L1504.9 850.3L1521.7 851.1L1535.8 852.6L1555.4 855.5" stroke="url(#g163)" stroke-width="6.6"/>
<path d="M983.2 857L1001.4 858.8L1015.5 859.7" stroke="url(#g164)" stroke-width="6.6"/>
<path d="M1039.3 860.1L1058.9 859.9L1080 859.4L1137.5 857.1L1161.3 855.9" stroke="url(#g164)" stroke-width="6.6"/>
<path d="M1168.3 855.2L1173.9 854.5L1180.9 853.9L1206.2 852.4L1239.8 851.2L1260.9 851L1272.1 851.3L1332.4 855.7L1356.3 857.1L1410.9 859.8L1454.4 861.4L1483.9 862L1516.1 862L1533 861.4L1555.4 860" stroke="url(#g164)" stroke-width="6.6"/>
<path d="M983.2 958.6L997.2 958.4" stroke="url(#g166)" stroke-width="6.6"/>
<path d="M1175.3 957L1228.6 959.5L1242.7 960L1255.3 960L1259.5 959.6L1267.9 958.2L1281.9 956.3L1291.7 955.5L1367.5 954.4" stroke="url(#g166)" stroke-width="6.6"/>
<path d="M1535.8 957L1555.4 957.6" stroke="url(#g166)" stroke-width="6.6"/>
<path d="M1152.9 982L1159.9 982.6L1169.7 982.5" stroke="url(#g168)" stroke-width="6.6"/>
<path d="M1371.7 986.1L1377.3 986L1384.3 986.6" stroke="url(#g168)" stroke-width="6.6"/>
<path d="M1218.8 1192.5L1263.7 1195.6L1272.1 1195.8L1305.8 1195.5L1317 1194.8L1324 1193.8" stroke="url(#g170)" stroke-width="6.6"/>
<path d="M983.2 1196L997.2 1196.6" stroke="url(#g171)" stroke-width="6.6"/>
<path d="M1068.7 1196.8L1133.3 1193.9L1171.1 1191.5L1186.6 1191.2" stroke="url(#g171)" stroke-width="6.6"/>
<path d="M1342.2 1187.9L1356.3 1184L1363.3 1182.6L1374.5 1181.5L1382.9 1181L1399.7 1181.1L1420.8 1182.1L1448.8 1184.1L1492.3 1188.6L1555.4 1194.6" stroke="url(#g171)" stroke-width="6.6"/>
<path d="M993 1200.4L1178.1 1200.4" stroke="url(#g172)" stroke-width="6.6"/>
<path d="M1206.2 1200.4L1338 1200.4" stroke="url(#g172)" stroke-width="6.6"/>
<path d="M1367.5 1200.4L1547 1200.4" stroke="url(#g172)" stroke-width="6.6"/>
</g>
<rect x="983.2" y="678.6" width="572.2" height="523.4" fill="none" stroke="#000" stroke-width="1.7"/>
<path d="M983.2 1202v7M1269.3 1202v7M1555.4 1202v7M983.2 678.6h-7M983.2 940.3h-7M983.2 1202h-7M1617.8 1155.9h7M1617.8 1048.1h7M1617.8 940.4h7M1617.8 832.7h7M1617.8 724.9h7" stroke="#000" stroke-width="1.7" fill="none"/>
<g font-family="'Liberation Serif','DejaVu Serif',serif" font-size="31px" fill="#000">
<text x="983.2" y="1239.6" text-anchor="middle" textLength="58" lengthAdjust="spacingAndGlyphs">−0.5</text>
<text x="1269.3" y="1239.6" text-anchor="middle">0</text>
<text x="1554.9" y="1239.6" text-anchor="middle" textLength="37.5" lengthAdjust="spacingAndGlyphs">0.5</text>
<text x="969" y="1213.5" text-anchor="end">0</text>
<text x="968.5" y="951.8" text-anchor="end" textLength="17" lengthAdjust="spacingAndGlyphs" font-style="italic">π</text>
<text x="968.5" y="689.8" text-anchor="end" textLength="31.5" lengthAdjust="spacingAndGlyphs">2<tspan font-style="italic">π</tspan></text>
</g>
<text x="1268.3" y="1283" text-anchor="middle" font-family="'Liberation Serif','DejaVu Serif',serif" font-size="40px" font-style="italic" textLength="31" lengthAdjust="spacingAndGlyphs">k<tspan font-size="28px" font-style="normal" dy="6">2</tspan></text>
<g transform="translate(917.6 940.3) rotate(-90)" fill="#000" font-family="'Liberation Serif','DejaVu Serif',serif" font-style="italic">
<text x="-20" y="0" font-size="38px" textLength="20" lengthAdjust="spacingAndGlyphs" stroke="#fff" stroke-width="0.4">γ</text>
<text x="0.5" y="8" font-size="27.5px" textLength="16" lengthAdjust="spacingAndGlyphs">n</text>
</g>
<linearGradient id="cbg4" x1="0" x2="0" y1="0" y2="1"><stop offset="0.0000" stop-color="#fde725"/><stop offset="0.0312" stop-color="#ece51b"/><stop offset="0.0625" stop-color="#d8e219"/><stop offset="0.0938" stop-color="#c2df23"/><stop offset="0.1250" stop-color="#addc30"/><stop offset="0.1562" stop-color="#98d83e"/><stop offset="0.1875" stop-color="#84d44b"/><stop offset="0.2188" stop-color="#70cf57"/><stop offset="0.2500" stop-color="#5ec962"/><stop offset="0.2812" stop-color="#4ec36b"/><stop offset="0.3125" stop-color="#3fbc73"/><stop offset="0.3438" stop-color="#32b67a"/><stop offset="0.3750" stop-color="#28ae80"/><stop offset="0.4062" stop-color="#22a785"/><stop offset="0.4375" stop-color="#1fa088"/><stop offset="0.4688" stop-color="#1f988b"/><stop offset="0.5000" stop-color="#21918c"/><stop offset="0.5312" stop-color="#23898e"/><stop offset="0.5625" stop-color="#26828e"/><stop offset="0.5938" stop-color="#297a8e"/><stop offset="0.6250" stop-color="#2c728e"/><stop offset="0.6562" stop-color="#2f6b8e"/><stop offset="0.6875" stop-color="#33638d"/><stop offset="0.7188" stop-color="#375b8d"/><stop offset="0.7500" stop-color="#3b528b"/><stop offset="0.7812" stop-color="#3e4989"/><stop offset="0.8125" stop-color="#424086"/><stop offset="0.8438" stop-color="#453781"/><stop offset="0.8750" stop-color="#472d7b"/><stop offset="0.9062" stop-color="#482374"/><stop offset="0.9375" stop-color="#48186a"/><stop offset="0.9688" stop-color="#470d60"/><stop offset="1.0000" stop-color="#440154"/></linearGradient>
<rect x="1591" y="678.8" width="26.8" height="523.2" fill="url(#cbg4)" stroke="#000" stroke-width="1.7"/>
<g font-family="'DejaVu Sans','Liberation Sans',sans-serif" font-size="19.5px" fill="#000">
<text x="1631" y="1163.3">−0.4</text>
<text x="1631" y="1055.6">−0.2</text>
<text x="1631" y="947.8">0.0</text>
<text x="1631" y="840.1">0.2</text>
<text x="1631" y="732.3">0.4</text>
</g>
<g transform="translate(1716.4 940.4) rotate(-90)" fill="#000" font-family="'Liberation Serif','DejaVu Serif',serif">
<text x="-46.6" y="0" font-family="'DejaVu Sans','Liberation Sans',sans-serif" font-size="41.5px" stroke="#fff" stroke-width="1.5">⟨</text>
<text x="-31" y="0" font-size="33px" font-style="italic" textLength="18.6" lengthAdjust="spacingAndGlyphs">S</text>
<text x="-12.6" y="5.2" font-size="21.5px" font-style="italic" textLength="9.2" lengthAdjust="spacingAndGlyphs">z</text>
<text x="-1.4" y="0" font-family="'DejaVu Sans','Liberation Sans',sans-serif" font-size="41.5px" stroke="#fff" stroke-width="1.5">⟩</text>
<text x="15.4" y="6.6" font-size="45px">/</text>
<text x="28.6" y="0" font-size="32px" font-style="italic" textLength="17" lengthAdjust="spacingAndGlyphs">ħ</text>
</g>
</g>
</svg>
</body>
</html>
